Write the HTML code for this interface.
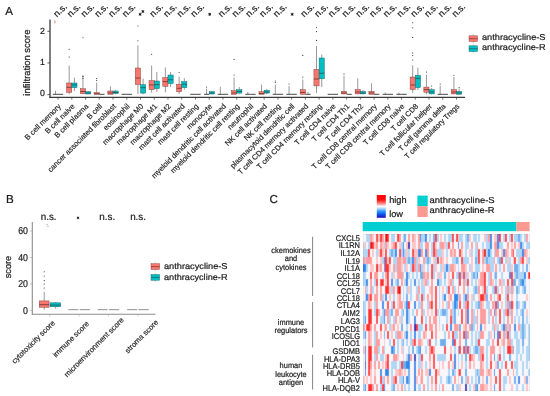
<!DOCTYPE html>
<html><head><meta charset="utf-8"><style>
html,body{margin:0;padding:0;background:#fff;}
svg{display:block;font-family:"Liberation Sans", sans-serif;text-rendering:geometricPrecision;}
text{stroke:#111;stroke-width:0.2px;paint-order:stroke;}
text.lt{stroke-width:0.15px;}
text.bd{stroke-width:0.2px;}
</style></head><body>
<svg width="550" height="396" viewBox="0 0 550 396">
<defs><filter id="soft" x="0" y="0" width="550" height="396" filterUnits="userSpaceOnUse"><feOffset dx="0" dy="0"/></filter></defs>
<rect width="550" height="396" fill="#fff"/>
<filter id="hsoft" x="360" y="230" width="175" height="165" filterUnits="userSpaceOnUse"><feConvolveMatrix order="3" kernelMatrix="0.0113 0.0838 0.0113 0.0838 0.6193 0.0838 0.0113 0.0838 0.0113" edgeMode="duplicate" preserveAlpha="true"/></filter>
<g filter="url(#soft)">
<rect width="550" height="396" fill="#fff"/>
<text x="5.20" y="15.10" font-size="11.6" text-anchor="start" fill="#1a1a1a">A</text><text x="0.00" y="0.00" font-size="9.45" text-anchor="middle" fill="#1a1a1a" transform="translate(29.90,62.60) rotate(-90)">infiltration score</text><line x1="50.00" y1="19.50" x2="50.00" y2="98.10" stroke="#3a3a3a" stroke-width="1.3"/><line x1="49.40" y1="97.45" x2="465.00" y2="97.45" stroke="#3a3a3a" stroke-width="1.3"/><line x1="47.40" y1="94.60" x2="50.00" y2="94.60" stroke="#3a3a3a" stroke-width="0.8"/><text x="44.80" y="96.20" font-size="8.8" text-anchor="end" fill="#1a1a1a">0</text><line x1="47.40" y1="62.95" x2="50.00" y2="62.95" stroke="#3a3a3a" stroke-width="0.8"/><text x="44.80" y="65.25" font-size="8.8" text-anchor="end" fill="#1a1a1a">1</text><line x1="47.40" y1="31.30" x2="50.00" y2="31.30" stroke="#3a3a3a" stroke-width="0.8"/><text x="44.80" y="33.60" font-size="8.8" text-anchor="end" fill="#1a1a1a">2</text><line x1="48.50" y1="78.77" x2="50.00" y2="78.77" stroke="#bbb" stroke-width="0.5"/><line x1="48.50" y1="47.12" x2="50.00" y2="47.12" stroke="#bbb" stroke-width="0.5"/><line x1="58.06" y1="97.40" x2="58.06" y2="99.60" stroke="#3a3a3a" stroke-width="0.7"/><line x1="55.46" y1="90.70" x2="55.46" y2="94.30" stroke="#333" stroke-width="0.5"/><line x1="52.86" y1="94.30" x2="58.06" y2="94.30" stroke="#333" stroke-width="0.9"/><line x1="58.06" y1="94.30" x2="63.26" y2="94.30" stroke="#333" stroke-width="0.9"/><text x="0.00" y="0.00" font-size="7.5" text-anchor="end" fill="#222" transform="translate(61.46,106.80) rotate(-45)" class="lt">B cell memory</text><text x="0.00" y="0.00" font-size="9.2" text-anchor="start" fill="#1a1a1a" transform="translate(56.96,17.60) rotate(-45)" class="bd">n.s.</text><line x1="71.80" y1="97.40" x2="71.80" y2="99.60" stroke="#3a3a3a" stroke-width="0.7"/><line x1="69.20" y1="65.50" x2="69.20" y2="83.00" stroke="#333" stroke-width="0.5"/><line x1="69.20" y1="92.30" x2="69.20" y2="94.30" stroke="#333" stroke-width="0.5"/><rect x="66.60" y="83.00" width="5.20" height="9.30" fill="#F8766D" stroke="#7a3a36" stroke-width="0.45"/><line x1="66.60" y1="87.30" x2="71.80" y2="87.30" stroke="#7a3a36" stroke-width="0.9"/><circle cx="69.20" cy="49.30" r="0.55" fill="#222"/><circle cx="69.20" cy="57.00" r="0.55" fill="#222"/><line x1="74.40" y1="77.60" x2="74.40" y2="83.00" stroke="#333" stroke-width="0.5"/><line x1="74.40" y1="87.70" x2="74.40" y2="91.00" stroke="#333" stroke-width="0.5"/><rect x="71.80" y="83.00" width="5.20" height="4.70" fill="#00BFC4" stroke="#1d5f61" stroke-width="0.45"/><line x1="71.80" y1="85.00" x2="77.00" y2="85.00" stroke="#1d5f61" stroke-width="0.9"/><text x="0.00" y="0.00" font-size="7.5" text-anchor="end" fill="#222" transform="translate(75.20,106.80) rotate(-45)" class="lt">B cell naive</text><text x="0.00" y="0.00" font-size="9.2" text-anchor="start" fill="#1a1a1a" transform="translate(70.70,17.60) rotate(-45)" class="bd">n.s.</text><line x1="85.54" y1="97.40" x2="85.54" y2="99.60" stroke="#3a3a3a" stroke-width="0.7"/><line x1="82.94" y1="75.00" x2="82.94" y2="88.70" stroke="#333" stroke-width="0.5"/><line x1="82.94" y1="93.70" x2="82.94" y2="94.30" stroke="#333" stroke-width="0.5"/><rect x="80.34" y="88.70" width="5.20" height="5.00" fill="#F8766D" stroke="#7a3a36" stroke-width="0.45"/><line x1="80.34" y1="91.50" x2="85.54" y2="91.50" stroke="#7a3a36" stroke-width="0.9"/><circle cx="82.94" cy="37.80" r="0.55" fill="#222"/><circle cx="82.94" cy="76.50" r="0.55" fill="#222"/><circle cx="82.94" cy="78.50" r="0.55" fill="#222"/><line x1="88.14" y1="91.00" x2="88.14" y2="91.70" stroke="#333" stroke-width="0.5"/><line x1="88.14" y1="94.00" x2="88.14" y2="94.30" stroke="#333" stroke-width="0.5"/><rect x="85.54" y="91.70" width="5.20" height="2.30" fill="#00BFC4" stroke="#1d5f61" stroke-width="0.45"/><line x1="85.54" y1="93.00" x2="90.74" y2="93.00" stroke="#1d5f61" stroke-width="0.9"/><text x="0.00" y="0.00" font-size="7.5" text-anchor="end" fill="#222" transform="translate(88.94,106.80) rotate(-45)" class="lt">B cell plasma</text><text x="0.00" y="0.00" font-size="9.2" text-anchor="start" fill="#1a1a1a" transform="translate(84.44,17.60) rotate(-45)" class="bd">n.s.</text><line x1="99.28" y1="97.40" x2="99.28" y2="99.60" stroke="#3a3a3a" stroke-width="0.7"/><line x1="96.68" y1="82.60" x2="96.68" y2="92.70" stroke="#333" stroke-width="0.5"/><line x1="96.68" y1="94.30" x2="96.68" y2="94.30" stroke="#333" stroke-width="0.5"/><rect x="94.08" y="92.70" width="5.20" height="1.60" fill="#F8766D" stroke="#7a3a36" stroke-width="0.45"/><line x1="94.08" y1="93.70" x2="99.28" y2="93.70" stroke="#7a3a36" stroke-width="0.9"/><circle cx="96.68" cy="78.60" r="0.55" fill="#222"/><circle cx="96.68" cy="80.50" r="0.55" fill="#222"/><line x1="99.28" y1="94.30" x2="104.48" y2="94.30" stroke="#333" stroke-width="0.9"/><text x="0.00" y="0.00" font-size="7.5" text-anchor="end" fill="#222" transform="translate(102.68,106.80) rotate(-45)" class="lt">B cell</text><text x="0.00" y="0.00" font-size="9.2" text-anchor="start" fill="#1a1a1a" transform="translate(98.18,17.60) rotate(-45)" class="bd">n.s.</text><line x1="113.02" y1="97.40" x2="113.02" y2="99.60" stroke="#3a3a3a" stroke-width="0.7"/><line x1="110.42" y1="86.30" x2="110.42" y2="91.00" stroke="#333" stroke-width="0.5"/><line x1="110.42" y1="94.30" x2="110.42" y2="94.30" stroke="#333" stroke-width="0.5"/><rect x="107.82" y="91.00" width="5.20" height="3.30" fill="#F8766D" stroke="#7a3a36" stroke-width="0.45"/><line x1="107.82" y1="93.00" x2="113.02" y2="93.00" stroke="#7a3a36" stroke-width="0.9"/><line x1="115.62" y1="90.00" x2="115.62" y2="91.00" stroke="#333" stroke-width="0.5"/><line x1="115.62" y1="93.50" x2="115.62" y2="94.30" stroke="#333" stroke-width="0.5"/><rect x="113.02" y="91.00" width="5.20" height="2.50" fill="#00BFC4" stroke="#1d5f61" stroke-width="0.45"/><line x1="113.02" y1="92.50" x2="118.22" y2="92.50" stroke="#1d5f61" stroke-width="0.9"/><text x="0.00" y="0.00" font-size="7.5" text-anchor="end" fill="#222" transform="translate(116.42,106.80) rotate(-45)" class="lt">cancer associated fibroblast</text><text x="0.00" y="0.00" font-size="9.2" text-anchor="start" fill="#1a1a1a" transform="translate(111.92,17.60) rotate(-45)" class="bd">n.s.</text><line x1="126.76" y1="97.40" x2="126.76" y2="99.60" stroke="#3a3a3a" stroke-width="0.7"/><line x1="121.56" y1="94.30" x2="126.76" y2="94.30" stroke="#333" stroke-width="0.9"/><line x1="126.76" y1="94.30" x2="131.96" y2="94.30" stroke="#333" stroke-width="0.9"/><text x="0.00" y="0.00" font-size="7.5" text-anchor="end" fill="#222" transform="translate(130.16,106.80) rotate(-45)" class="lt">eosinophil</text><text x="0.00" y="0.00" font-size="9.2" text-anchor="start" fill="#1a1a1a" transform="translate(125.66,17.60) rotate(-45)" class="bd">n.s.</text><line x1="140.50" y1="97.40" x2="140.50" y2="99.60" stroke="#3a3a3a" stroke-width="0.7"/><line x1="137.90" y1="45.30" x2="137.90" y2="68.00" stroke="#333" stroke-width="0.5"/><line x1="137.90" y1="84.60" x2="137.90" y2="94.00" stroke="#333" stroke-width="0.5"/><rect x="135.30" y="68.00" width="5.20" height="16.60" fill="#F8766D" stroke="#7a3a36" stroke-width="0.45"/><line x1="135.30" y1="78.00" x2="140.50" y2="78.00" stroke="#7a3a36" stroke-width="0.9"/><circle cx="137.90" cy="40.80" r="0.55" fill="#222"/><circle cx="137.90" cy="26.00" r="0.55" fill="#222"/><line x1="143.10" y1="78.60" x2="143.10" y2="84.60" stroke="#333" stroke-width="0.5"/><line x1="143.10" y1="93.10" x2="143.10" y2="94.30" stroke="#333" stroke-width="0.5"/><rect x="140.50" y="84.60" width="5.20" height="8.50" fill="#00BFC4" stroke="#1d5f61" stroke-width="0.45"/><line x1="140.50" y1="87.70" x2="145.70" y2="87.70" stroke="#1d5f61" stroke-width="0.9"/><text x="0.00" y="0.00" font-size="7.5" text-anchor="end" fill="#222" transform="translate(143.90,106.80) rotate(-45)" class="lt">macrophage M0</text><path d="M140.10,12.80L140.10,15.80M141.40,13.55L138.80,15.05M141.40,15.05L138.80,13.55" stroke="#1a1a1a" stroke-width="1.0" fill="none"/><path d="M142.90,10.00L142.90,13.00M144.20,10.75L141.60,12.25M144.20,12.25L141.60,10.75" stroke="#1a1a1a" stroke-width="1.0" fill="none"/><line x1="154.24" y1="97.40" x2="154.24" y2="99.60" stroke="#3a3a3a" stroke-width="0.7"/><line x1="151.64" y1="65.50" x2="151.64" y2="80.60" stroke="#333" stroke-width="0.5"/><line x1="151.64" y1="89.70" x2="151.64" y2="92.70" stroke="#333" stroke-width="0.5"/><rect x="149.04" y="80.60" width="5.20" height="9.10" fill="#F8766D" stroke="#7a3a36" stroke-width="0.45"/><line x1="149.04" y1="85.00" x2="154.24" y2="85.00" stroke="#7a3a36" stroke-width="0.9"/><circle cx="151.64" cy="54.30" r="0.55" fill="#222"/><line x1="156.84" y1="72.00" x2="156.84" y2="81.00" stroke="#333" stroke-width="0.5"/><line x1="156.84" y1="88.70" x2="156.84" y2="92.00" stroke="#333" stroke-width="0.5"/><rect x="154.24" y="81.00" width="5.20" height="7.70" fill="#00BFC4" stroke="#1d5f61" stroke-width="0.45"/><line x1="154.24" y1="84.60" x2="159.44" y2="84.60" stroke="#1d5f61" stroke-width="0.9"/><text x="0.00" y="0.00" font-size="7.5" text-anchor="end" fill="#222" transform="translate(157.64,106.80) rotate(-45)" class="lt">macrophage M1</text><text x="0.00" y="0.00" font-size="9.2" text-anchor="start" fill="#1a1a1a" transform="translate(153.14,17.60) rotate(-45)" class="bd">n.s.</text><line x1="167.98" y1="97.40" x2="167.98" y2="99.60" stroke="#3a3a3a" stroke-width="0.7"/><line x1="165.38" y1="67.50" x2="165.38" y2="77.60" stroke="#333" stroke-width="0.5"/><line x1="165.38" y1="86.30" x2="165.38" y2="92.30" stroke="#333" stroke-width="0.5"/><rect x="162.78" y="77.60" width="5.20" height="8.70" fill="#F8766D" stroke="#7a3a36" stroke-width="0.45"/><line x1="162.78" y1="81.60" x2="167.98" y2="81.60" stroke="#7a3a36" stroke-width="0.9"/><line x1="170.58" y1="72.00" x2="170.58" y2="75.00" stroke="#333" stroke-width="0.5"/><line x1="170.58" y1="83.60" x2="170.58" y2="87.00" stroke="#333" stroke-width="0.5"/><rect x="167.98" y="75.00" width="5.20" height="8.60" fill="#00BFC4" stroke="#1d5f61" stroke-width="0.45"/><line x1="167.98" y1="79.80" x2="173.18" y2="79.80" stroke="#1d5f61" stroke-width="0.9"/><text x="0.00" y="0.00" font-size="7.5" text-anchor="end" fill="#222" transform="translate(171.38,106.80) rotate(-45)" class="lt">macrophage M2</text><text x="0.00" y="0.00" font-size="9.2" text-anchor="start" fill="#1a1a1a" transform="translate(166.88,17.60) rotate(-45)" class="bd">n.s.</text><line x1="181.72" y1="97.40" x2="181.72" y2="99.60" stroke="#3a3a3a" stroke-width="0.7"/><line x1="179.12" y1="76.60" x2="179.12" y2="84.20" stroke="#333" stroke-width="0.5"/><line x1="179.12" y1="91.70" x2="179.12" y2="94.00" stroke="#333" stroke-width="0.5"/><rect x="176.52" y="84.20" width="5.20" height="7.50" fill="#F8766D" stroke="#7a3a36" stroke-width="0.45"/><line x1="176.52" y1="88.30" x2="181.72" y2="88.30" stroke="#7a3a36" stroke-width="0.9"/><circle cx="179.12" cy="72.50" r="0.55" fill="#222"/><line x1="184.32" y1="78.20" x2="184.32" y2="81.60" stroke="#333" stroke-width="0.5"/><line x1="184.32" y1="87.70" x2="184.32" y2="89.70" stroke="#333" stroke-width="0.5"/><rect x="181.72" y="81.60" width="5.20" height="6.10" fill="#00BFC4" stroke="#1d5f61" stroke-width="0.45"/><line x1="181.72" y1="84.20" x2="186.92" y2="84.20" stroke="#1d5f61" stroke-width="0.9"/><text x="0.00" y="0.00" font-size="7.5" text-anchor="end" fill="#222" transform="translate(185.12,106.80) rotate(-45)" class="lt">mast cell activated</text><text x="0.00" y="0.00" font-size="9.2" text-anchor="start" fill="#1a1a1a" transform="translate(180.62,17.60) rotate(-45)" class="bd">n.s.</text><line x1="195.46" y1="97.40" x2="195.46" y2="99.60" stroke="#3a3a3a" stroke-width="0.7"/><line x1="190.26" y1="94.30" x2="195.46" y2="94.30" stroke="#333" stroke-width="0.9"/><line x1="195.46" y1="94.30" x2="200.66" y2="94.30" stroke="#333" stroke-width="0.9"/><text x="0.00" y="0.00" font-size="7.5" text-anchor="end" fill="#222" transform="translate(198.86,106.80) rotate(-45)" class="lt">mast cell resting</text><text x="0.00" y="0.00" font-size="9.2" text-anchor="start" fill="#1a1a1a" transform="translate(194.36,17.60) rotate(-45)" class="bd">n.s.</text><line x1="209.20" y1="97.40" x2="209.20" y2="99.60" stroke="#3a3a3a" stroke-width="0.7"/><line x1="206.60" y1="88.70" x2="206.60" y2="94.30" stroke="#333" stroke-width="0.5"/><line x1="204.00" y1="94.30" x2="209.20" y2="94.30" stroke="#333" stroke-width="0.9"/><circle cx="206.60" cy="87.00" r="0.55" fill="#222"/><line x1="211.80" y1="91.00" x2="211.80" y2="91.70" stroke="#333" stroke-width="0.5"/><line x1="211.80" y1="94.00" x2="211.80" y2="94.30" stroke="#333" stroke-width="0.5"/><rect x="209.20" y="91.70" width="5.20" height="2.30" fill="#00BFC4" stroke="#1d5f61" stroke-width="0.45"/><line x1="209.20" y1="93.00" x2="214.40" y2="93.00" stroke="#1d5f61" stroke-width="0.9"/><text x="0.00" y="0.00" font-size="7.5" text-anchor="end" fill="#222" transform="translate(212.60,106.80) rotate(-45)" class="lt">monocyte</text><path d="M209.70,12.80L209.70,15.80M211.00,13.55L208.40,15.05M211.00,15.05L208.40,13.55" stroke="#1a1a1a" stroke-width="1.0" fill="none"/><line x1="222.94" y1="97.40" x2="222.94" y2="99.60" stroke="#3a3a3a" stroke-width="0.7"/><line x1="220.34" y1="86.70" x2="220.34" y2="94.30" stroke="#333" stroke-width="0.5"/><line x1="217.74" y1="94.30" x2="222.94" y2="94.30" stroke="#333" stroke-width="0.9"/><line x1="222.94" y1="94.30" x2="228.14" y2="94.30" stroke="#333" stroke-width="0.9"/><text x="0.00" y="0.00" font-size="7.5" text-anchor="end" fill="#222" transform="translate(226.34,106.80) rotate(-45)" class="lt">myeloid dendritic cell activated</text><text x="0.00" y="0.00" font-size="9.2" text-anchor="start" fill="#1a1a1a" transform="translate(221.84,17.60) rotate(-45)" class="bd">n.s.</text><line x1="236.68" y1="97.40" x2="236.68" y2="99.60" stroke="#3a3a3a" stroke-width="0.7"/><line x1="234.08" y1="77.60" x2="234.08" y2="90.70" stroke="#333" stroke-width="0.5"/><line x1="234.08" y1="94.30" x2="234.08" y2="94.30" stroke="#333" stroke-width="0.5"/><rect x="231.48" y="90.70" width="5.20" height="3.60" fill="#F8766D" stroke="#7a3a36" stroke-width="0.45"/><line x1="231.48" y1="93.00" x2="236.68" y2="93.00" stroke="#7a3a36" stroke-width="0.9"/><circle cx="234.08" cy="59.40" r="0.55" fill="#222"/><circle cx="234.08" cy="75.00" r="0.55" fill="#222"/><line x1="239.28" y1="87.00" x2="239.28" y2="89.70" stroke="#333" stroke-width="0.5"/><line x1="239.28" y1="93.10" x2="239.28" y2="94.30" stroke="#333" stroke-width="0.5"/><rect x="236.68" y="89.70" width="5.20" height="3.40" fill="#00BFC4" stroke="#1d5f61" stroke-width="0.45"/><line x1="236.68" y1="91.50" x2="241.88" y2="91.50" stroke="#1d5f61" stroke-width="0.9"/><text x="0.00" y="0.00" font-size="7.5" text-anchor="end" fill="#222" transform="translate(240.08,106.80) rotate(-45)" class="lt">myeloid dendritic cell resting</text><text x="0.00" y="0.00" font-size="9.2" text-anchor="start" fill="#1a1a1a" transform="translate(235.58,17.60) rotate(-45)" class="bd">n.s.</text><line x1="250.42" y1="97.40" x2="250.42" y2="99.60" stroke="#3a3a3a" stroke-width="0.7"/><line x1="247.82" y1="92.00" x2="247.82" y2="94.30" stroke="#333" stroke-width="0.5"/><line x1="245.22" y1="94.30" x2="250.42" y2="94.30" stroke="#333" stroke-width="0.9"/><line x1="250.42" y1="94.30" x2="255.62" y2="94.30" stroke="#333" stroke-width="0.9"/><text x="0.00" y="0.00" font-size="7.5" text-anchor="end" fill="#222" transform="translate(253.82,106.80) rotate(-45)" class="lt">neutrophil</text><text x="0.00" y="0.00" font-size="9.2" text-anchor="start" fill="#1a1a1a" transform="translate(249.32,17.60) rotate(-45)" class="bd">n.s.</text><line x1="264.16" y1="97.40" x2="264.16" y2="99.60" stroke="#3a3a3a" stroke-width="0.7"/><line x1="261.56" y1="84.60" x2="261.56" y2="91.70" stroke="#333" stroke-width="0.5"/><line x1="261.56" y1="94.30" x2="261.56" y2="94.30" stroke="#333" stroke-width="0.5"/><rect x="258.96" y="91.70" width="5.20" height="2.60" fill="#F8766D" stroke="#7a3a36" stroke-width="0.45"/><line x1="258.96" y1="93.50" x2="264.16" y2="93.50" stroke="#7a3a36" stroke-width="0.9"/><line x1="266.76" y1="89.00" x2="266.76" y2="90.30" stroke="#333" stroke-width="0.5"/><line x1="266.76" y1="93.10" x2="266.76" y2="94.30" stroke="#333" stroke-width="0.5"/><rect x="264.16" y="90.30" width="5.20" height="2.80" fill="#00BFC4" stroke="#1d5f61" stroke-width="0.45"/><line x1="264.16" y1="92.00" x2="269.36" y2="92.00" stroke="#1d5f61" stroke-width="0.9"/><text x="0.00" y="0.00" font-size="7.5" text-anchor="end" fill="#222" transform="translate(267.56,106.80) rotate(-45)" class="lt">NK cell activated</text><text x="0.00" y="0.00" font-size="9.2" text-anchor="start" fill="#1a1a1a" transform="translate(263.06,17.60) rotate(-45)" class="bd">n.s.</text><line x1="277.90" y1="97.40" x2="277.90" y2="99.60" stroke="#3a3a3a" stroke-width="0.7"/><line x1="275.30" y1="84.60" x2="275.30" y2="94.30" stroke="#333" stroke-width="0.5"/><line x1="272.70" y1="94.30" x2="277.90" y2="94.30" stroke="#333" stroke-width="0.9"/><circle cx="275.30" cy="82.50" r="0.55" fill="#222"/><circle cx="275.30" cy="81.00" r="0.55" fill="#222"/><line x1="277.90" y1="94.30" x2="283.10" y2="94.30" stroke="#333" stroke-width="0.9"/><text x="0.00" y="0.00" font-size="7.5" text-anchor="end" fill="#222" transform="translate(281.30,106.80) rotate(-45)" class="lt">NK cell resting</text><text x="0.00" y="0.00" font-size="9.2" text-anchor="start" fill="#1a1a1a" transform="translate(276.80,17.60) rotate(-45)" class="bd">n.s.</text><line x1="291.64" y1="97.40" x2="291.64" y2="99.60" stroke="#3a3a3a" stroke-width="0.7"/><line x1="289.04" y1="86.00" x2="289.04" y2="94.30" stroke="#333" stroke-width="0.5"/><line x1="286.44" y1="94.30" x2="291.64" y2="94.30" stroke="#333" stroke-width="0.9"/><circle cx="289.04" cy="84.00" r="0.55" fill="#222"/><line x1="291.64" y1="94.30" x2="296.84" y2="94.30" stroke="#333" stroke-width="0.9"/><text x="0.00" y="0.00" font-size="7.5" text-anchor="end" fill="#222" transform="translate(295.04,106.80) rotate(-45)" class="lt">plasmacytoid dendritic cell</text><path d="M292.14,12.80L292.14,15.80M293.44,13.55L290.84,15.05M293.44,15.05L290.84,13.55" stroke="#1a1a1a" stroke-width="1.0" fill="none"/><line x1="305.38" y1="97.40" x2="305.38" y2="99.60" stroke="#3a3a3a" stroke-width="0.7"/><line x1="302.78" y1="79.50" x2="302.78" y2="89.70" stroke="#333" stroke-width="0.5"/><line x1="302.78" y1="94.30" x2="302.78" y2="94.30" stroke="#333" stroke-width="0.5"/><rect x="300.18" y="89.70" width="5.20" height="4.60" fill="#F8766D" stroke="#7a3a36" stroke-width="0.45"/><line x1="300.18" y1="92.50" x2="305.38" y2="92.50" stroke="#7a3a36" stroke-width="0.9"/><circle cx="302.78" cy="55.40" r="0.55" fill="#222"/><circle cx="302.78" cy="77.00" r="0.55" fill="#222"/><line x1="307.98" y1="92.00" x2="307.98" y2="94.30" stroke="#333" stroke-width="0.5"/><line x1="305.38" y1="94.30" x2="310.58" y2="94.30" stroke="#333" stroke-width="0.9"/><text x="0.00" y="0.00" font-size="7.5" text-anchor="end" fill="#222" transform="translate(308.78,106.80) rotate(-45)" class="lt">T cell CD4 memory activated</text><text x="0.00" y="0.00" font-size="9.2" text-anchor="start" fill="#1a1a1a" transform="translate(304.28,17.60) rotate(-45)" class="bd">n.s.</text><line x1="319.12" y1="97.40" x2="319.12" y2="99.60" stroke="#3a3a3a" stroke-width="0.7"/><line x1="316.52" y1="46.00" x2="316.52" y2="69.40" stroke="#333" stroke-width="0.5"/><line x1="316.52" y1="85.90" x2="316.52" y2="93.00" stroke="#333" stroke-width="0.5"/><rect x="313.92" y="69.40" width="5.20" height="16.50" fill="#F8766D" stroke="#7a3a36" stroke-width="0.45"/><line x1="313.92" y1="79.00" x2="319.12" y2="79.00" stroke="#7a3a36" stroke-width="0.9"/><circle cx="316.52" cy="40.40" r="0.55" fill="#222"/><circle cx="316.52" cy="31.60" r="0.55" fill="#222"/><circle cx="316.52" cy="27.30" r="0.55" fill="#222"/><line x1="321.72" y1="54.30" x2="321.72" y2="58.00" stroke="#333" stroke-width="0.5"/><line x1="321.72" y1="78.80" x2="321.72" y2="87.00" stroke="#333" stroke-width="0.5"/><rect x="319.12" y="58.00" width="5.20" height="20.80" fill="#00BFC4" stroke="#1d5f61" stroke-width="0.45"/><line x1="319.12" y1="73.20" x2="324.32" y2="73.20" stroke="#1d5f61" stroke-width="0.9"/><text x="0.00" y="0.00" font-size="7.5" text-anchor="end" fill="#222" transform="translate(322.52,106.80) rotate(-45)" class="lt">T cell CD4 memory resting</text><text x="0.00" y="0.00" font-size="9.2" text-anchor="start" fill="#1a1a1a" transform="translate(318.02,17.60) rotate(-45)" class="bd">n.s.</text><line x1="332.86" y1="97.40" x2="332.86" y2="99.60" stroke="#3a3a3a" stroke-width="0.7"/><line x1="327.66" y1="94.30" x2="332.86" y2="94.30" stroke="#333" stroke-width="0.9"/><line x1="332.86" y1="94.30" x2="338.06" y2="94.30" stroke="#333" stroke-width="0.9"/><text x="0.00" y="0.00" font-size="7.5" text-anchor="end" fill="#222" transform="translate(336.26,106.80) rotate(-45)" class="lt">T cell CD4 naive</text><text x="0.00" y="0.00" font-size="9.2" text-anchor="start" fill="#1a1a1a" transform="translate(331.76,17.60) rotate(-45)" class="bd">n.s.</text><line x1="346.60" y1="97.40" x2="346.60" y2="99.60" stroke="#3a3a3a" stroke-width="0.7"/><line x1="344.00" y1="75.80" x2="344.00" y2="91.40" stroke="#333" stroke-width="0.5"/><line x1="344.00" y1="93.90" x2="344.00" y2="94.30" stroke="#333" stroke-width="0.5"/><rect x="341.40" y="91.40" width="5.20" height="2.50" fill="#F8766D" stroke="#7a3a36" stroke-width="0.45"/><line x1="341.40" y1="93.00" x2="346.60" y2="93.00" stroke="#7a3a36" stroke-width="0.9"/><circle cx="344.00" cy="74.00" r="0.55" fill="#222"/><line x1="346.60" y1="94.30" x2="351.80" y2="94.30" stroke="#333" stroke-width="0.9"/><text x="0.00" y="0.00" font-size="7.5" text-anchor="end" fill="#222" transform="translate(350.00,106.80) rotate(-45)" class="lt">T cell CD4 Th1</text><text x="0.00" y="0.00" font-size="9.2" text-anchor="start" fill="#1a1a1a" transform="translate(345.50,17.60) rotate(-45)" class="bd">n.s.</text><line x1="360.34" y1="97.40" x2="360.34" y2="99.60" stroke="#3a3a3a" stroke-width="0.7"/><line x1="357.74" y1="78.30" x2="357.74" y2="89.60" stroke="#333" stroke-width="0.5"/><line x1="357.74" y1="93.90" x2="357.74" y2="94.30" stroke="#333" stroke-width="0.5"/><rect x="355.14" y="89.60" width="5.20" height="4.30" fill="#F8766D" stroke="#7a3a36" stroke-width="0.45"/><line x1="355.14" y1="92.00" x2="360.34" y2="92.00" stroke="#7a3a36" stroke-width="0.9"/><line x1="362.94" y1="90.00" x2="362.94" y2="91.40" stroke="#333" stroke-width="0.5"/><line x1="362.94" y1="93.90" x2="362.94" y2="94.30" stroke="#333" stroke-width="0.5"/><rect x="360.34" y="91.40" width="5.20" height="2.50" fill="#00BFC4" stroke="#1d5f61" stroke-width="0.45"/><line x1="360.34" y1="93.00" x2="365.54" y2="93.00" stroke="#1d5f61" stroke-width="0.9"/><text x="0.00" y="0.00" font-size="7.5" text-anchor="end" fill="#222" transform="translate(363.74,106.80) rotate(-45)" class="lt">T cell CD4 Th2</text><text x="0.00" y="0.00" font-size="9.2" text-anchor="start" fill="#1a1a1a" transform="translate(359.24,17.60) rotate(-45)" class="bd">n.s.</text><line x1="374.08" y1="97.40" x2="374.08" y2="99.60" stroke="#3a3a3a" stroke-width="0.7"/><line x1="371.48" y1="83.30" x2="371.48" y2="91.40" stroke="#333" stroke-width="0.5"/><line x1="371.48" y1="94.30" x2="371.48" y2="94.30" stroke="#333" stroke-width="0.5"/><rect x="368.88" y="91.40" width="5.20" height="2.90" fill="#F8766D" stroke="#7a3a36" stroke-width="0.45"/><line x1="368.88" y1="93.00" x2="374.08" y2="93.00" stroke="#7a3a36" stroke-width="0.9"/><line x1="374.08" y1="94.30" x2="379.28" y2="94.30" stroke="#333" stroke-width="0.9"/><text x="0.00" y="0.00" font-size="7.5" text-anchor="end" fill="#222" transform="translate(377.48,106.80) rotate(-45)" class="lt">T cell CD8 central memory</text><text x="0.00" y="0.00" font-size="9.2" text-anchor="start" fill="#1a1a1a" transform="translate(372.98,17.60) rotate(-45)" class="bd">n.s.</text><line x1="387.82" y1="97.40" x2="387.82" y2="99.60" stroke="#3a3a3a" stroke-width="0.7"/><line x1="385.22" y1="92.50" x2="385.22" y2="94.30" stroke="#333" stroke-width="0.5"/><line x1="382.62" y1="94.30" x2="387.82" y2="94.30" stroke="#333" stroke-width="0.9"/><line x1="387.82" y1="94.30" x2="393.02" y2="94.30" stroke="#333" stroke-width="0.9"/><text x="0.00" y="0.00" font-size="7.5" text-anchor="end" fill="#222" transform="translate(391.22,106.80) rotate(-45)" class="lt">T cell CD8 central memory</text><text x="0.00" y="0.00" font-size="9.2" text-anchor="start" fill="#1a1a1a" transform="translate(386.72,17.60) rotate(-45)" class="bd">n.s.</text><line x1="401.56" y1="97.40" x2="401.56" y2="99.60" stroke="#3a3a3a" stroke-width="0.7"/><line x1="398.96" y1="92.50" x2="398.96" y2="94.30" stroke="#333" stroke-width="0.5"/><line x1="396.36" y1="94.30" x2="401.56" y2="94.30" stroke="#333" stroke-width="0.9"/><line x1="401.56" y1="94.30" x2="406.76" y2="94.30" stroke="#333" stroke-width="0.9"/><text x="0.00" y="0.00" font-size="7.5" text-anchor="end" fill="#222" transform="translate(404.96,106.80) rotate(-45)" class="lt">T cell CD8 naive</text><text x="0.00" y="0.00" font-size="9.2" text-anchor="start" fill="#1a1a1a" transform="translate(400.46,17.60) rotate(-45)" class="bd">n.s.</text><line x1="415.30" y1="97.40" x2="415.30" y2="99.60" stroke="#3a3a3a" stroke-width="0.7"/><line x1="412.70" y1="65.20" x2="412.70" y2="77.00" stroke="#333" stroke-width="0.5"/><line x1="412.70" y1="89.60" x2="412.70" y2="93.00" stroke="#333" stroke-width="0.5"/><rect x="410.10" y="77.00" width="5.20" height="12.60" fill="#F8766D" stroke="#7a3a36" stroke-width="0.45"/><line x1="410.10" y1="85.00" x2="415.30" y2="85.00" stroke="#7a3a36" stroke-width="0.9"/><circle cx="412.70" cy="55.50" r="0.55" fill="#222"/><circle cx="412.70" cy="53.00" r="0.55" fill="#222"/><circle cx="412.70" cy="37.40" r="0.55" fill="#222"/><circle cx="412.70" cy="27.80" r="0.55" fill="#222"/><circle cx="412.70" cy="22.70" r="0.55" fill="#222"/><circle cx="412.70" cy="60.00" r="0.55" fill="#222"/><line x1="417.90" y1="67.70" x2="417.90" y2="75.20" stroke="#333" stroke-width="0.5"/><line x1="417.90" y1="87.60" x2="417.90" y2="90.00" stroke="#333" stroke-width="0.5"/><rect x="415.30" y="75.20" width="5.20" height="12.40" fill="#00BFC4" stroke="#1d5f61" stroke-width="0.45"/><line x1="415.30" y1="78.40" x2="420.50" y2="78.40" stroke="#1d5f61" stroke-width="0.9"/><text x="0.00" y="0.00" font-size="7.5" text-anchor="end" fill="#222" transform="translate(418.70,106.80) rotate(-45)" class="lt">T cell CD8</text><text x="0.00" y="0.00" font-size="9.2" text-anchor="start" fill="#1a1a1a" transform="translate(414.20,17.60) rotate(-45)" class="bd">n.s.</text><line x1="429.04" y1="97.40" x2="429.04" y2="99.60" stroke="#3a3a3a" stroke-width="0.7"/><line x1="426.44" y1="74.50" x2="426.44" y2="87.10" stroke="#333" stroke-width="0.5"/><line x1="426.44" y1="92.20" x2="426.44" y2="94.30" stroke="#333" stroke-width="0.5"/><rect x="423.84" y="87.10" width="5.20" height="5.10" fill="#F8766D" stroke="#7a3a36" stroke-width="0.45"/><line x1="423.84" y1="89.60" x2="429.04" y2="89.60" stroke="#7a3a36" stroke-width="0.9"/><circle cx="426.44" cy="72.00" r="0.55" fill="#222"/><line x1="431.64" y1="88.00" x2="431.64" y2="89.60" stroke="#333" stroke-width="0.5"/><line x1="431.64" y1="93.90" x2="431.64" y2="94.30" stroke="#333" stroke-width="0.5"/><rect x="429.04" y="89.60" width="5.20" height="4.30" fill="#00BFC4" stroke="#1d5f61" stroke-width="0.45"/><line x1="429.04" y1="92.00" x2="434.24" y2="92.00" stroke="#1d5f61" stroke-width="0.9"/><circle cx="431.64" cy="86.00" r="0.55" fill="#222"/><text x="0.00" y="0.00" font-size="7.5" text-anchor="end" fill="#222" transform="translate(432.44,106.80) rotate(-45)" class="lt">T cell follicular helper</text><text x="0.00" y="0.00" font-size="9.2" text-anchor="start" fill="#1a1a1a" transform="translate(427.94,17.60) rotate(-45)" class="bd">n.s.</text><line x1="442.78" y1="97.40" x2="442.78" y2="99.60" stroke="#3a3a3a" stroke-width="0.7"/><line x1="440.18" y1="85.90" x2="440.18" y2="94.30" stroke="#333" stroke-width="0.5"/><line x1="437.58" y1="94.30" x2="442.78" y2="94.30" stroke="#333" stroke-width="0.9"/><circle cx="440.18" cy="84.00" r="0.55" fill="#222"/><line x1="442.78" y1="94.30" x2="447.98" y2="94.30" stroke="#333" stroke-width="0.9"/><text x="0.00" y="0.00" font-size="7.5" text-anchor="end" fill="#222" transform="translate(446.18,106.80) rotate(-45)" class="lt">T cell gamma delta</text><text x="0.00" y="0.00" font-size="9.2" text-anchor="start" fill="#1a1a1a" transform="translate(441.68,17.60) rotate(-45)" class="bd">n.s.</text><line x1="456.52" y1="97.40" x2="456.52" y2="99.60" stroke="#3a3a3a" stroke-width="0.7"/><line x1="453.92" y1="77.00" x2="453.92" y2="89.60" stroke="#333" stroke-width="0.5"/><line x1="453.92" y1="93.90" x2="453.92" y2="94.30" stroke="#333" stroke-width="0.5"/><rect x="451.32" y="89.60" width="5.20" height="4.30" fill="#F8766D" stroke="#7a3a36" stroke-width="0.45"/><line x1="451.32" y1="92.00" x2="456.52" y2="92.00" stroke="#7a3a36" stroke-width="0.9"/><circle cx="453.92" cy="75.50" r="0.55" fill="#222"/><line x1="459.12" y1="88.50" x2="459.12" y2="91.40" stroke="#333" stroke-width="0.5"/><line x1="459.12" y1="94.30" x2="459.12" y2="94.30" stroke="#333" stroke-width="0.5"/><rect x="456.52" y="91.40" width="5.20" height="2.90" fill="#00BFC4" stroke="#1d5f61" stroke-width="0.45"/><line x1="456.52" y1="93.00" x2="461.72" y2="93.00" stroke="#1d5f61" stroke-width="0.9"/><circle cx="459.12" cy="87.50" r="0.55" fill="#222"/><text x="0.00" y="0.00" font-size="7.5" text-anchor="end" fill="#222" transform="translate(459.92,106.80) rotate(-45)" class="lt">T cell regulatory Tregs</text><text x="0.00" y="0.00" font-size="9.2" text-anchor="start" fill="#1a1a1a" transform="translate(455.42,17.60) rotate(-45)" class="bd">n.s.</text><rect x="54.3" y="20.3" width="1.2" height="3.0" fill="#e89a90"/><line x1="473.30" y1="34.20" x2="473.30" y2="43.20" stroke="#999" stroke-width="0.45"/><rect x="469.00" y="35.80" width="8.60" height="5.80" fill="#F8766D" stroke="#7a3a36" stroke-width="0.4"/><line x1="469.00" y1="38.70" x2="477.60" y2="38.70" stroke="#7a3a36" stroke-width="0.7"/><text x="482.00" y="39.60" font-size="8.55" text-anchor="start" fill="#1a1a1a" textLength="63.5" lengthAdjust="spacingAndGlyphs">anthracycline-S</text><line x1="473.30" y1="44.20" x2="473.30" y2="53.20" stroke="#999" stroke-width="0.45"/><rect x="469.00" y="45.80" width="8.60" height="5.80" fill="#00BFC4" stroke="#1d5f61" stroke-width="0.4"/><line x1="469.00" y1="48.70" x2="477.60" y2="48.70" stroke="#1d5f61" stroke-width="0.7"/><text x="482.00" y="49.60" font-size="8.55" text-anchor="start" fill="#1a1a1a" textLength="63.5" lengthAdjust="spacingAndGlyphs">anthracycline-R</text><text x="5.90" y="203.10" font-size="11.6" text-anchor="start" fill="#1a1a1a">B</text><text x="0.00" y="0.00" font-size="9.2" text-anchor="middle" fill="#1a1a1a" transform="translate(10.70,267.00) rotate(-90)">score</text><line x1="32.30" y1="221.90" x2="32.30" y2="314.80" stroke="#8c8c8c" stroke-width="1.1"/><line x1="31.80" y1="314.30" x2="155.40" y2="314.30" stroke="#8c8c8c" stroke-width="1.1"/><line x1="29.80" y1="310.50" x2="32.30" y2="310.50" stroke="#aaa" stroke-width="0.7"/><text x="0.00" y="0.00" font-size="10.0" text-anchor="end" fill="#1a1a1a" transform="translate(28.00,313.80) scale(0.88,1)">0</text><line x1="29.80" y1="284.00" x2="32.30" y2="284.00" stroke="#aaa" stroke-width="0.7"/><text x="0.00" y="0.00" font-size="10.0" text-anchor="end" fill="#1a1a1a" transform="translate(28.00,287.30) scale(0.88,1)">20</text><line x1="29.80" y1="257.50" x2="32.30" y2="257.50" stroke="#aaa" stroke-width="0.7"/><text x="0.00" y="0.00" font-size="10.0" text-anchor="end" fill="#1a1a1a" transform="translate(28.00,260.80) scale(0.88,1)">40</text><line x1="29.80" y1="231.00" x2="32.30" y2="231.00" stroke="#aaa" stroke-width="0.7"/><text x="0.00" y="0.00" font-size="10.0" text-anchor="end" fill="#1a1a1a" transform="translate(28.00,234.30) scale(0.88,1)">60</text><line x1="49.60" y1="314.30" x2="49.60" y2="316.40" stroke="#aaa" stroke-width="0.6"/><text x="0.00" y="0.00" font-size="7.55" text-anchor="end" fill="#222" transform="translate(55.40,323.40) rotate(-45)" class="lt">cytotoxicity score</text><line x1="79.10" y1="314.30" x2="79.10" y2="316.40" stroke="#aaa" stroke-width="0.6"/><text x="0.00" y="0.00" font-size="7.55" text-anchor="end" fill="#222" transform="translate(89.40,324.20) rotate(-45)" class="lt">immune score</text><line x1="108.40" y1="314.30" x2="108.40" y2="316.40" stroke="#aaa" stroke-width="0.6"/><text x="0.00" y="0.00" font-size="7.55" text-anchor="end" fill="#222" transform="translate(124.20,320.60) rotate(-45)" class="lt">microenvironment score</text><line x1="137.90" y1="314.30" x2="137.90" y2="316.40" stroke="#aaa" stroke-width="0.6"/><text x="0.00" y="0.00" font-size="7.55" text-anchor="end" fill="#222" transform="translate(158.80,322.80) rotate(-45)" class="lt">stroma score</text><line x1="44.20" y1="292.00" x2="44.20" y2="300.90" stroke="#333" stroke-width="0.5"/><line x1="44.20" y1="307.30" x2="44.20" y2="309.70" stroke="#333" stroke-width="0.5"/><rect x="39.30" y="300.90" width="9.80" height="6.40" fill="#F8766D" stroke="#7a3a36" stroke-width="0.45"/><line x1="39.30" y1="304.70" x2="49.10" y2="304.70" stroke="#7a3a36" stroke-width="0.9"/><circle cx="44.20" cy="288.00" r="0.55" fill="#222"/><circle cx="44.20" cy="284.00" r="0.55" fill="#222"/><circle cx="44.20" cy="280.60" r="0.55" fill="#222"/><circle cx="44.20" cy="276.00" r="0.55" fill="#222"/><circle cx="44.20" cy="271.80" r="0.55" fill="#222"/><circle cx="47.00" cy="224.80" r="0.45" fill="#222"/><circle cx="48.00" cy="226.30" r="0.45" fill="#222"/><line x1="55.35" y1="302.00" x2="55.35" y2="302.80" stroke="#333" stroke-width="0.5"/><line x1="55.35" y1="306.80" x2="55.35" y2="308.60" stroke="#333" stroke-width="0.5"/><rect x="50.10" y="302.80" width="10.50" height="4.00" fill="#00BFC4" stroke="#1d5f61" stroke-width="0.45"/><line x1="50.10" y1="305.10" x2="60.60" y2="305.10" stroke="#1d5f61" stroke-width="0.9"/><line x1="68.30" y1="309.70" x2="78.30" y2="309.70" stroke="#6a6a6a" stroke-width="0.75"/><line x1="79.60" y1="309.70" x2="89.90" y2="309.70" stroke="#6a6a6a" stroke-width="0.75"/><line x1="97.60" y1="309.70" x2="107.60" y2="309.70" stroke="#6a6a6a" stroke-width="0.75"/><line x1="108.90" y1="309.70" x2="119.20" y2="309.70" stroke="#6a6a6a" stroke-width="0.75"/><line x1="127.10" y1="309.70" x2="137.10" y2="309.70" stroke="#6a6a6a" stroke-width="0.75"/><line x1="138.40" y1="309.70" x2="148.70" y2="309.70" stroke="#6a6a6a" stroke-width="0.75"/><text x="48.65" y="219.80" font-size="9.9" text-anchor="middle" fill="#1a1a1a">n.s.</text><path d="M78.00,216.60L78.00,219.20M79.13,217.25L76.87,218.55M79.13,218.55L76.87,217.25" stroke="#1a1a1a" stroke-width="0.9" fill="none"/><text x="107.30" y="219.80" font-size="9.9" text-anchor="middle" fill="#1a1a1a">n.s.</text><text x="138.10" y="219.80" font-size="9.9" text-anchor="middle" fill="#1a1a1a">n.s.</text><line x1="155.30" y1="262.10" x2="155.30" y2="271.10" stroke="#999" stroke-width="0.45"/><rect x="151.00" y="263.70" width="8.60" height="5.80" fill="#F8766D" stroke="#7a3a36" stroke-width="0.4"/><line x1="151.00" y1="266.60" x2="159.60" y2="266.60" stroke="#7a3a36" stroke-width="0.7"/><text x="164.00" y="269.30" font-size="8.55" text-anchor="start" fill="#1a1a1a" textLength="63.5" lengthAdjust="spacingAndGlyphs">anthracycline-S</text><line x1="155.30" y1="272.90" x2="155.30" y2="281.90" stroke="#999" stroke-width="0.45"/><rect x="151.00" y="274.50" width="8.60" height="5.80" fill="#00BFC4" stroke="#1d5f61" stroke-width="0.4"/><line x1="151.00" y1="277.40" x2="159.60" y2="277.40" stroke="#1d5f61" stroke-width="0.7"/><text x="164.00" y="279.60" font-size="8.55" text-anchor="start" fill="#1a1a1a" textLength="63.5" lengthAdjust="spacingAndGlyphs">anthracycline-R</text><text x="269.60" y="203.20" font-size="11.6" text-anchor="start" fill="#1a1a1a">C</text><defs><linearGradient id="hl" x1="0" y1="0" x2="0" y2="1"><stop offset="0" stop-color="#ff0000"/><stop offset="0.22" stop-color="#ff1010"/><stop offset="0.40" stop-color="#ff9a9a"/><stop offset="0.50" stop-color="#ffffff"/><stop offset="0.60" stop-color="#a8d8ff"/><stop offset="0.72" stop-color="#2a96ff"/><stop offset="0.86" stop-color="#0a50e8"/><stop offset="1" stop-color="#2410b8"/></linearGradient></defs><rect x="376.80" y="195.00" width="9.00" height="22.80" fill="url(#hl)" stroke="none" stroke-width="0"/><text x="389.20" y="203.00" font-size="9.2" text-anchor="start" fill="#1a1a1a">high</text><text x="389.20" y="216.50" font-size="9.2" text-anchor="start" fill="#1a1a1a">low</text><rect x="417.40" y="195.60" width="10.30" height="10.60" fill="#00CED1" stroke="none" stroke-width="0"/><rect x="417.40" y="206.20" width="10.30" height="10.80" fill="#F99A91" stroke="none" stroke-width="0"/><text x="429.60" y="202.80" font-size="8.6" text-anchor="start" fill="#1a1a1a" textLength="65.0" lengthAdjust="spacingAndGlyphs">anthracycline-S</text><text x="429.60" y="213.40" font-size="8.6" text-anchor="start" fill="#1a1a1a" textLength="65.0" lengthAdjust="spacingAndGlyphs">anthracycline-R</text><rect x="362.70" y="222.00" width="153.62" height="9.20" fill="#00CED1" stroke="none" stroke-width="0"/><rect x="516.32" y="222.00" width="13.28" height="9.20" fill="#F99A91" stroke="none" stroke-width="0"/><g shape-rendering="crispEdges" filter="url(#hsoft)"><rect x="362.70" y="234.20" width="3.84" height="7.52" fill="#f8f8fc" stroke="none" stroke-width="0"/><rect x="366.49" y="234.20" width="3.84" height="7.52" fill="#b0d6f6" stroke="none" stroke-width="0"/><rect x="370.29" y="234.20" width="1.95" height="7.52" fill="#ff9c9c" stroke="none" stroke-width="0"/><rect x="372.18" y="234.20" width="1.95" height="7.52" fill="#ffc6c6" stroke="none" stroke-width="0"/><rect x="374.08" y="234.20" width="1.95" height="7.52" fill="#f8f8fc" stroke="none" stroke-width="0"/><rect x="375.98" y="234.20" width="1.95" height="7.52" fill="#ff3030" stroke="none" stroke-width="0"/><rect x="377.87" y="234.20" width="1.95" height="7.52" fill="#ffc6c6" stroke="none" stroke-width="0"/><rect x="379.77" y="234.20" width="1.95" height="7.52" fill="#ff3030" stroke="none" stroke-width="0"/><rect x="381.67" y="234.20" width="1.95" height="7.52" fill="#ff9c9c" stroke="none" stroke-width="0"/><rect x="383.56" y="234.20" width="1.95" height="7.52" fill="#f8f8fc" stroke="none" stroke-width="0"/><rect x="385.46" y="234.20" width="1.95" height="7.52" fill="#e80808" stroke="none" stroke-width="0"/><rect x="387.36" y="234.20" width="1.95" height="7.52" fill="#ff3030" stroke="none" stroke-width="0"/><rect x="389.25" y="234.20" width="1.95" height="7.52" fill="#f8f8fc" stroke="none" stroke-width="0"/><rect x="391.15" y="234.20" width="3.84" height="7.52" fill="#b0d6f6" stroke="none" stroke-width="0"/><rect x="394.94" y="234.20" width="1.95" height="7.52" fill="#f8f8fc" stroke="none" stroke-width="0"/><rect x="396.84" y="234.20" width="1.95" height="7.52" fill="#ff3030" stroke="none" stroke-width="0"/><rect x="398.74" y="234.20" width="1.95" height="7.52" fill="#ff9c9c" stroke="none" stroke-width="0"/><rect x="400.63" y="234.20" width="1.95" height="7.52" fill="#f8f8fc" stroke="none" stroke-width="0"/><rect x="402.53" y="234.20" width="1.95" height="7.52" fill="#b0d6f6" stroke="none" stroke-width="0"/><rect x="404.43" y="234.20" width="1.95" height="7.52" fill="#6eb0ee" stroke="none" stroke-width="0"/><rect x="406.32" y="234.20" width="1.95" height="7.52" fill="#f8f8fc" stroke="none" stroke-width="0"/><rect x="408.22" y="234.20" width="1.95" height="7.52" fill="#ff9c9c" stroke="none" stroke-width="0"/><rect x="410.11" y="234.20" width="1.95" height="7.52" fill="#f8f8fc" stroke="none" stroke-width="0"/><rect x="412.01" y="234.20" width="1.95" height="7.52" fill="#ff9c9c" stroke="none" stroke-width="0"/><rect x="413.91" y="234.20" width="1.95" height="7.52" fill="#ffc6c6" stroke="none" stroke-width="0"/><rect x="415.80" y="234.20" width="1.95" height="7.52" fill="#f8f8fc" stroke="none" stroke-width="0"/><rect x="417.70" y="234.20" width="1.95" height="7.52" fill="#ff9c9c" stroke="none" stroke-width="0"/><rect x="419.60" y="234.20" width="1.95" height="7.52" fill="#2a8aea" stroke="none" stroke-width="0"/><rect x="421.49" y="234.20" width="3.84" height="7.52" fill="#b0d6f6" stroke="none" stroke-width="0"/><rect x="425.29" y="234.20" width="1.95" height="7.52" fill="#2a8aea" stroke="none" stroke-width="0"/><rect x="427.18" y="234.20" width="1.95" height="7.52" fill="#f8f8fc" stroke="none" stroke-width="0"/><rect x="429.08" y="234.20" width="1.95" height="7.52" fill="#b0d6f6" stroke="none" stroke-width="0"/><rect x="430.98" y="234.20" width="1.95" height="7.52" fill="#f8f8fc" stroke="none" stroke-width="0"/><rect x="432.87" y="234.20" width="1.95" height="7.52" fill="#6eb0ee" stroke="none" stroke-width="0"/><rect x="434.77" y="234.20" width="1.95" height="7.52" fill="#ff3030" stroke="none" stroke-width="0"/><rect x="436.67" y="234.20" width="1.95" height="7.52" fill="#b0d6f6" stroke="none" stroke-width="0"/><rect x="438.56" y="234.20" width="1.95" height="7.52" fill="#f8f8fc" stroke="none" stroke-width="0"/><rect x="440.46" y="234.20" width="1.95" height="7.52" fill="#ffc6c6" stroke="none" stroke-width="0"/><rect x="442.36" y="234.20" width="1.95" height="7.52" fill="#f8f8fc" stroke="none" stroke-width="0"/><rect x="444.25" y="234.20" width="1.95" height="7.52" fill="#b0d6f6" stroke="none" stroke-width="0"/><rect x="446.15" y="234.20" width="1.95" height="7.52" fill="#f8f8fc" stroke="none" stroke-width="0"/><rect x="448.05" y="234.20" width="3.84" height="7.52" fill="#b0d6f6" stroke="none" stroke-width="0"/><rect x="451.84" y="234.20" width="1.95" height="7.52" fill="#ff3030" stroke="none" stroke-width="0"/><rect x="453.74" y="234.20" width="1.95" height="7.52" fill="#f8f8fc" stroke="none" stroke-width="0"/><rect x="455.63" y="234.20" width="1.95" height="7.52" fill="#ff3030" stroke="none" stroke-width="0"/><rect x="457.53" y="234.20" width="1.95" height="7.52" fill="#ffc6c6" stroke="none" stroke-width="0"/><rect x="459.43" y="234.20" width="3.84" height="7.52" fill="#b0d6f6" stroke="none" stroke-width="0"/><rect x="463.22" y="234.20" width="1.95" height="7.52" fill="#f8f8fc" stroke="none" stroke-width="0"/><rect x="465.12" y="234.20" width="1.95" height="7.52" fill="#b0d6f6" stroke="none" stroke-width="0"/><rect x="467.01" y="234.20" width="1.95" height="7.52" fill="#6eb0ee" stroke="none" stroke-width="0"/><rect x="468.91" y="234.20" width="1.95" height="7.52" fill="#ffc6c6" stroke="none" stroke-width="0"/><rect x="470.81" y="234.20" width="1.95" height="7.52" fill="#f8f8fc" stroke="none" stroke-width="0"/><rect x="472.70" y="234.20" width="3.84" height="7.52" fill="#b0d6f6" stroke="none" stroke-width="0"/><rect x="476.50" y="234.20" width="1.95" height="7.52" fill="#f8f8fc" stroke="none" stroke-width="0"/><rect x="478.39" y="234.20" width="1.95" height="7.52" fill="#b0d6f6" stroke="none" stroke-width="0"/><rect x="480.29" y="234.20" width="3.84" height="7.52" fill="#f8f8fc" stroke="none" stroke-width="0"/><rect x="484.08" y="234.20" width="1.95" height="7.52" fill="#ffc6c6" stroke="none" stroke-width="0"/><rect x="485.98" y="234.20" width="1.95" height="7.52" fill="#b0d6f6" stroke="none" stroke-width="0"/><rect x="487.88" y="234.20" width="1.95" height="7.52" fill="#ff9c9c" stroke="none" stroke-width="0"/><rect x="489.77" y="234.20" width="1.95" height="7.52" fill="#2a8aea" stroke="none" stroke-width="0"/><rect x="491.67" y="234.20" width="1.95" height="7.52" fill="#f8f8fc" stroke="none" stroke-width="0"/><rect x="493.56" y="234.20" width="3.84" height="7.52" fill="#ffc6c6" stroke="none" stroke-width="0"/><rect x="497.36" y="234.20" width="1.95" height="7.52" fill="#2a8aea" stroke="none" stroke-width="0"/><rect x="499.25" y="234.20" width="1.95" height="7.52" fill="#ff3030" stroke="none" stroke-width="0"/><rect x="501.15" y="234.20" width="1.95" height="7.52" fill="#f8f8fc" stroke="none" stroke-width="0"/><rect x="503.05" y="234.20" width="1.95" height="7.52" fill="#b0d6f6" stroke="none" stroke-width="0"/><rect x="504.94" y="234.20" width="1.95" height="7.52" fill="#ff3030" stroke="none" stroke-width="0"/><rect x="506.84" y="234.20" width="1.95" height="7.52" fill="#f8f8fc" stroke="none" stroke-width="0"/><rect x="508.74" y="234.20" width="1.95" height="7.52" fill="#b0d6f6" stroke="none" stroke-width="0"/><rect x="510.63" y="234.20" width="1.95" height="7.52" fill="#ff3030" stroke="none" stroke-width="0"/><rect x="512.53" y="234.20" width="1.95" height="7.52" fill="#f8f8fc" stroke="none" stroke-width="0"/><rect x="514.43" y="234.20" width="3.84" height="7.52" fill="#b0d6f6" stroke="none" stroke-width="0"/><rect x="518.22" y="234.20" width="1.95" height="7.52" fill="#6eb0ee" stroke="none" stroke-width="0"/><rect x="520.12" y="234.20" width="1.95" height="7.52" fill="#b0d6f6" stroke="none" stroke-width="0"/><rect x="522.01" y="234.20" width="1.95" height="7.52" fill="#f8f8fc" stroke="none" stroke-width="0"/><rect x="523.91" y="234.20" width="1.95" height="7.52" fill="#b0d6f6" stroke="none" stroke-width="0"/><rect x="525.81" y="234.20" width="1.95" height="7.52" fill="#ff9c9c" stroke="none" stroke-width="0"/><rect x="527.70" y="234.20" width="1.95" height="7.52" fill="#f8f8fc" stroke="none" stroke-width="0"/><rect x="362.70" y="241.67" width="1.95" height="7.52" fill="#ffc6c6" stroke="none" stroke-width="0"/><rect x="364.60" y="241.67" width="1.95" height="7.52" fill="#b0d6f6" stroke="none" stroke-width="0"/><rect x="366.49" y="241.67" width="1.95" height="7.52" fill="#f8f8fc" stroke="none" stroke-width="0"/><rect x="368.39" y="241.67" width="1.95" height="7.52" fill="#b0d6f6" stroke="none" stroke-width="0"/><rect x="370.29" y="241.67" width="1.95" height="7.52" fill="#e80808" stroke="none" stroke-width="0"/><rect x="372.18" y="241.67" width="1.95" height="7.52" fill="#ff3030" stroke="none" stroke-width="0"/><rect x="374.08" y="241.67" width="1.95" height="7.52" fill="#ffc6c6" stroke="none" stroke-width="0"/><rect x="375.98" y="241.67" width="1.95" height="7.52" fill="#ff9c9c" stroke="none" stroke-width="0"/><rect x="377.87" y="241.67" width="1.95" height="7.52" fill="#f8f8fc" stroke="none" stroke-width="0"/><rect x="379.77" y="241.67" width="1.95" height="7.52" fill="#ff9c9c" stroke="none" stroke-width="0"/><rect x="381.67" y="241.67" width="1.95" height="7.52" fill="#ffc6c6" stroke="none" stroke-width="0"/><rect x="383.56" y="241.67" width="1.95" height="7.52" fill="#b0d6f6" stroke="none" stroke-width="0"/><rect x="385.46" y="241.67" width="1.95" height="7.52" fill="#ff9c9c" stroke="none" stroke-width="0"/><rect x="387.36" y="241.67" width="1.95" height="7.52" fill="#ffc6c6" stroke="none" stroke-width="0"/><rect x="389.25" y="241.67" width="1.95" height="7.52" fill="#f8f8fc" stroke="none" stroke-width="0"/><rect x="391.15" y="241.67" width="1.95" height="7.52" fill="#ffc6c6" stroke="none" stroke-width="0"/><rect x="393.05" y="241.67" width="1.95" height="7.52" fill="#ff9c9c" stroke="none" stroke-width="0"/><rect x="394.94" y="241.67" width="1.95" height="7.52" fill="#ff3030" stroke="none" stroke-width="0"/><rect x="396.84" y="241.67" width="1.95" height="7.52" fill="#f8f8fc" stroke="none" stroke-width="0"/><rect x="398.74" y="241.67" width="1.95" height="7.52" fill="#ffc6c6" stroke="none" stroke-width="0"/><rect x="400.63" y="241.67" width="1.95" height="7.52" fill="#b0d6f6" stroke="none" stroke-width="0"/><rect x="402.53" y="241.67" width="1.95" height="7.52" fill="#2a8aea" stroke="none" stroke-width="0"/><rect x="404.43" y="241.67" width="1.95" height="7.52" fill="#f8f8fc" stroke="none" stroke-width="0"/><rect x="406.32" y="241.67" width="1.95" height="7.52" fill="#ffc6c6" stroke="none" stroke-width="0"/><rect x="408.22" y="241.67" width="1.95" height="7.52" fill="#2a1ab8" stroke="none" stroke-width="0"/><rect x="410.11" y="241.67" width="1.95" height="7.52" fill="#f8f8fc" stroke="none" stroke-width="0"/><rect x="412.01" y="241.67" width="3.84" height="7.52" fill="#ffc6c6" stroke="none" stroke-width="0"/><rect x="415.80" y="241.67" width="1.95" height="7.52" fill="#f8f8fc" stroke="none" stroke-width="0"/><rect x="417.70" y="241.67" width="1.95" height="7.52" fill="#ff9c9c" stroke="none" stroke-width="0"/><rect x="419.60" y="241.67" width="3.84" height="7.52" fill="#b0d6f6" stroke="none" stroke-width="0"/><rect x="423.39" y="241.67" width="1.95" height="7.52" fill="#f8f8fc" stroke="none" stroke-width="0"/><rect x="425.29" y="241.67" width="3.84" height="7.52" fill="#ff9c9c" stroke="none" stroke-width="0"/><rect x="429.08" y="241.67" width="1.95" height="7.52" fill="#f8f8fc" stroke="none" stroke-width="0"/><rect x="430.98" y="241.67" width="1.95" height="7.52" fill="#b0d6f6" stroke="none" stroke-width="0"/><rect x="432.87" y="241.67" width="1.95" height="7.52" fill="#ff3030" stroke="none" stroke-width="0"/><rect x="434.77" y="241.67" width="1.95" height="7.52" fill="#ffc6c6" stroke="none" stroke-width="0"/><rect x="436.67" y="241.67" width="1.95" height="7.52" fill="#f8f8fc" stroke="none" stroke-width="0"/><rect x="438.56" y="241.67" width="1.95" height="7.52" fill="#b0d6f6" stroke="none" stroke-width="0"/><rect x="440.46" y="241.67" width="3.84" height="7.52" fill="#ff9c9c" stroke="none" stroke-width="0"/><rect x="444.25" y="241.67" width="1.95" height="7.52" fill="#ffc6c6" stroke="none" stroke-width="0"/><rect x="446.15" y="241.67" width="1.95" height="7.52" fill="#b0d6f6" stroke="none" stroke-width="0"/><rect x="448.05" y="241.67" width="1.95" height="7.52" fill="#ff3030" stroke="none" stroke-width="0"/><rect x="449.94" y="241.67" width="1.95" height="7.52" fill="#f8f8fc" stroke="none" stroke-width="0"/><rect x="451.84" y="241.67" width="1.95" height="7.52" fill="#ff9c9c" stroke="none" stroke-width="0"/><rect x="453.74" y="241.67" width="3.84" height="7.52" fill="#f8f8fc" stroke="none" stroke-width="0"/><rect x="457.53" y="241.67" width="1.95" height="7.52" fill="#2a8aea" stroke="none" stroke-width="0"/><rect x="459.43" y="241.67" width="1.95" height="7.52" fill="#f8f8fc" stroke="none" stroke-width="0"/><rect x="461.32" y="241.67" width="1.95" height="7.52" fill="#ff9c9c" stroke="none" stroke-width="0"/><rect x="463.22" y="241.67" width="1.95" height="7.52" fill="#f8f8fc" stroke="none" stroke-width="0"/><rect x="465.12" y="241.67" width="3.84" height="7.52" fill="#b0d6f6" stroke="none" stroke-width="0"/><rect x="468.91" y="241.67" width="1.95" height="7.52" fill="#f8f8fc" stroke="none" stroke-width="0"/><rect x="470.81" y="241.67" width="1.95" height="7.52" fill="#ff9c9c" stroke="none" stroke-width="0"/><rect x="472.70" y="241.67" width="1.95" height="7.52" fill="#f8f8fc" stroke="none" stroke-width="0"/><rect x="474.60" y="241.67" width="1.95" height="7.52" fill="#b0d6f6" stroke="none" stroke-width="0"/><rect x="476.50" y="241.67" width="1.95" height="7.52" fill="#ff9c9c" stroke="none" stroke-width="0"/><rect x="478.39" y="241.67" width="3.84" height="7.52" fill="#f8f8fc" stroke="none" stroke-width="0"/><rect x="482.19" y="241.67" width="1.95" height="7.52" fill="#b0d6f6" stroke="none" stroke-width="0"/><rect x="484.08" y="241.67" width="1.95" height="7.52" fill="#f8f8fc" stroke="none" stroke-width="0"/><rect x="485.98" y="241.67" width="3.84" height="7.52" fill="#b0d6f6" stroke="none" stroke-width="0"/><rect x="489.77" y="241.67" width="1.95" height="7.52" fill="#2a8aea" stroke="none" stroke-width="0"/><rect x="491.67" y="241.67" width="1.95" height="7.52" fill="#f8f8fc" stroke="none" stroke-width="0"/><rect x="493.56" y="241.67" width="3.84" height="7.52" fill="#ff9c9c" stroke="none" stroke-width="0"/><rect x="497.36" y="241.67" width="1.95" height="7.52" fill="#2a8aea" stroke="none" stroke-width="0"/><rect x="499.25" y="241.67" width="3.84" height="7.52" fill="#b0d6f6" stroke="none" stroke-width="0"/><rect x="503.05" y="241.67" width="3.84" height="7.52" fill="#f8f8fc" stroke="none" stroke-width="0"/><rect x="506.84" y="241.67" width="1.95" height="7.52" fill="#ff9c9c" stroke="none" stroke-width="0"/><rect x="508.74" y="241.67" width="1.95" height="7.52" fill="#f8f8fc" stroke="none" stroke-width="0"/><rect x="510.63" y="241.67" width="1.95" height="7.52" fill="#ffc6c6" stroke="none" stroke-width="0"/><rect x="512.53" y="241.67" width="1.95" height="7.52" fill="#f8f8fc" stroke="none" stroke-width="0"/><rect x="514.43" y="241.67" width="1.95" height="7.52" fill="#ff9c9c" stroke="none" stroke-width="0"/><rect x="516.32" y="241.67" width="1.95" height="7.52" fill="#f8f8fc" stroke="none" stroke-width="0"/><rect x="518.22" y="241.67" width="1.95" height="7.52" fill="#ffc6c6" stroke="none" stroke-width="0"/><rect x="520.12" y="241.67" width="1.95" height="7.52" fill="#2a8aea" stroke="none" stroke-width="0"/><rect x="522.01" y="241.67" width="1.95" height="7.52" fill="#b0d6f6" stroke="none" stroke-width="0"/><rect x="523.91" y="241.67" width="1.95" height="7.52" fill="#f8f8fc" stroke="none" stroke-width="0"/><rect x="525.81" y="241.67" width="3.84" height="7.52" fill="#b0d6f6" stroke="none" stroke-width="0"/><rect x="362.70" y="249.13" width="5.74" height="7.52" fill="#b0d6f6" stroke="none" stroke-width="0"/><rect x="368.39" y="249.13" width="1.95" height="7.52" fill="#ff3030" stroke="none" stroke-width="0"/><rect x="370.29" y="249.13" width="1.95" height="7.52" fill="#f8f8fc" stroke="none" stroke-width="0"/><rect x="372.18" y="249.13" width="1.95" height="7.52" fill="#ffc6c6" stroke="none" stroke-width="0"/><rect x="374.08" y="249.13" width="1.95" height="7.52" fill="#f8f8fc" stroke="none" stroke-width="0"/><rect x="375.98" y="249.13" width="1.95" height="7.52" fill="#b0d6f6" stroke="none" stroke-width="0"/><rect x="377.87" y="249.13" width="1.95" height="7.52" fill="#ffc6c6" stroke="none" stroke-width="0"/><rect x="379.77" y="249.13" width="1.95" height="7.52" fill="#ff3030" stroke="none" stroke-width="0"/><rect x="381.67" y="249.13" width="1.95" height="7.52" fill="#ffc6c6" stroke="none" stroke-width="0"/><rect x="383.56" y="249.13" width="1.95" height="7.52" fill="#f8f8fc" stroke="none" stroke-width="0"/><rect x="385.46" y="249.13" width="1.95" height="7.52" fill="#ff3030" stroke="none" stroke-width="0"/><rect x="387.36" y="249.13" width="1.95" height="7.52" fill="#f8f8fc" stroke="none" stroke-width="0"/><rect x="389.25" y="249.13" width="1.95" height="7.52" fill="#b0d6f6" stroke="none" stroke-width="0"/><rect x="391.15" y="249.13" width="1.95" height="7.52" fill="#6eb0ee" stroke="none" stroke-width="0"/><rect x="393.05" y="249.13" width="1.95" height="7.52" fill="#b0d6f6" stroke="none" stroke-width="0"/><rect x="394.94" y="249.13" width="1.95" height="7.52" fill="#2a8aea" stroke="none" stroke-width="0"/><rect x="396.84" y="249.13" width="1.95" height="7.52" fill="#f8f8fc" stroke="none" stroke-width="0"/><rect x="398.74" y="249.13" width="1.95" height="7.52" fill="#ff3030" stroke="none" stroke-width="0"/><rect x="400.63" y="249.13" width="1.95" height="7.52" fill="#b0d6f6" stroke="none" stroke-width="0"/><rect x="402.53" y="249.13" width="1.95" height="7.52" fill="#2a8aea" stroke="none" stroke-width="0"/><rect x="404.43" y="249.13" width="1.95" height="7.52" fill="#b0d6f6" stroke="none" stroke-width="0"/><rect x="406.32" y="249.13" width="1.95" height="7.52" fill="#ffc6c6" stroke="none" stroke-width="0"/><rect x="408.22" y="249.13" width="1.95" height="7.52" fill="#b0d6f6" stroke="none" stroke-width="0"/><rect x="410.11" y="249.13" width="1.95" height="7.52" fill="#f8f8fc" stroke="none" stroke-width="0"/><rect x="412.01" y="249.13" width="1.95" height="7.52" fill="#ff3030" stroke="none" stroke-width="0"/><rect x="413.91" y="249.13" width="3.84" height="7.52" fill="#ffc6c6" stroke="none" stroke-width="0"/><rect x="417.70" y="249.13" width="3.84" height="7.52" fill="#2a8aea" stroke="none" stroke-width="0"/><rect x="421.49" y="249.13" width="1.95" height="7.52" fill="#ff9c9c" stroke="none" stroke-width="0"/><rect x="423.39" y="249.13" width="1.95" height="7.52" fill="#f8f8fc" stroke="none" stroke-width="0"/><rect x="425.29" y="249.13" width="1.95" height="7.52" fill="#2a8aea" stroke="none" stroke-width="0"/><rect x="427.18" y="249.13" width="1.95" height="7.52" fill="#ff9c9c" stroke="none" stroke-width="0"/><rect x="429.08" y="249.13" width="1.95" height="7.52" fill="#f8f8fc" stroke="none" stroke-width="0"/><rect x="430.98" y="249.13" width="1.95" height="7.52" fill="#b0d6f6" stroke="none" stroke-width="0"/><rect x="432.87" y="249.13" width="1.95" height="7.52" fill="#ff3030" stroke="none" stroke-width="0"/><rect x="434.77" y="249.13" width="1.95" height="7.52" fill="#ff9c9c" stroke="none" stroke-width="0"/><rect x="436.67" y="249.13" width="5.74" height="7.52" fill="#b0d6f6" stroke="none" stroke-width="0"/><rect x="442.36" y="249.13" width="1.95" height="7.52" fill="#ffc6c6" stroke="none" stroke-width="0"/><rect x="444.25" y="249.13" width="1.95" height="7.52" fill="#f8f8fc" stroke="none" stroke-width="0"/><rect x="446.15" y="249.13" width="1.95" height="7.52" fill="#b0d6f6" stroke="none" stroke-width="0"/><rect x="448.05" y="249.13" width="1.95" height="7.52" fill="#f8f8fc" stroke="none" stroke-width="0"/><rect x="449.94" y="249.13" width="1.95" height="7.52" fill="#ff9c9c" stroke="none" stroke-width="0"/><rect x="451.84" y="249.13" width="1.95" height="7.52" fill="#ffc6c6" stroke="none" stroke-width="0"/><rect x="453.74" y="249.13" width="1.95" height="7.52" fill="#ff9c9c" stroke="none" stroke-width="0"/><rect x="455.63" y="249.13" width="3.84" height="7.52" fill="#f8f8fc" stroke="none" stroke-width="0"/><rect x="459.43" y="249.13" width="1.95" height="7.52" fill="#ff3030" stroke="none" stroke-width="0"/><rect x="461.32" y="249.13" width="1.95" height="7.52" fill="#ffc6c6" stroke="none" stroke-width="0"/><rect x="463.22" y="249.13" width="1.95" height="7.52" fill="#f8f8fc" stroke="none" stroke-width="0"/><rect x="465.12" y="249.13" width="1.95" height="7.52" fill="#b0d6f6" stroke="none" stroke-width="0"/><rect x="467.01" y="249.13" width="1.95" height="7.52" fill="#f8f8fc" stroke="none" stroke-width="0"/><rect x="468.91" y="249.13" width="1.95" height="7.52" fill="#ffc6c6" stroke="none" stroke-width="0"/><rect x="470.81" y="249.13" width="1.95" height="7.52" fill="#b0d6f6" stroke="none" stroke-width="0"/><rect x="472.70" y="249.13" width="1.95" height="7.52" fill="#f8f8fc" stroke="none" stroke-width="0"/><rect x="474.60" y="249.13" width="3.84" height="7.52" fill="#b0d6f6" stroke="none" stroke-width="0"/><rect x="478.39" y="249.13" width="1.95" height="7.52" fill="#ff3030" stroke="none" stroke-width="0"/><rect x="480.29" y="249.13" width="1.95" height="7.52" fill="#f8f8fc" stroke="none" stroke-width="0"/><rect x="482.19" y="249.13" width="1.95" height="7.52" fill="#ff9c9c" stroke="none" stroke-width="0"/><rect x="484.08" y="249.13" width="1.95" height="7.52" fill="#e80808" stroke="none" stroke-width="0"/><rect x="485.98" y="249.13" width="1.95" height="7.52" fill="#b0d6f6" stroke="none" stroke-width="0"/><rect x="487.88" y="249.13" width="1.95" height="7.52" fill="#2a8aea" stroke="none" stroke-width="0"/><rect x="489.77" y="249.13" width="1.95" height="7.52" fill="#b0d6f6" stroke="none" stroke-width="0"/><rect x="491.67" y="249.13" width="1.95" height="7.52" fill="#f8f8fc" stroke="none" stroke-width="0"/><rect x="493.56" y="249.13" width="1.95" height="7.52" fill="#b0d6f6" stroke="none" stroke-width="0"/><rect x="495.46" y="249.13" width="3.84" height="7.52" fill="#ff9c9c" stroke="none" stroke-width="0"/><rect x="499.25" y="249.13" width="1.95" height="7.52" fill="#f8f8fc" stroke="none" stroke-width="0"/><rect x="501.15" y="249.13" width="1.95" height="7.52" fill="#ffc6c6" stroke="none" stroke-width="0"/><rect x="503.05" y="249.13" width="1.95" height="7.52" fill="#2a8aea" stroke="none" stroke-width="0"/><rect x="504.94" y="249.13" width="1.95" height="7.52" fill="#ff9c9c" stroke="none" stroke-width="0"/><rect x="506.84" y="249.13" width="1.95" height="7.52" fill="#ffc6c6" stroke="none" stroke-width="0"/><rect x="508.74" y="249.13" width="1.95" height="7.52" fill="#f8f8fc" stroke="none" stroke-width="0"/><rect x="510.63" y="249.13" width="1.95" height="7.52" fill="#ff9c9c" stroke="none" stroke-width="0"/><rect x="512.53" y="249.13" width="1.95" height="7.52" fill="#ff3030" stroke="none" stroke-width="0"/><rect x="514.43" y="249.13" width="1.95" height="7.52" fill="#f8f8fc" stroke="none" stroke-width="0"/><rect x="516.32" y="249.13" width="5.74" height="7.52" fill="#b0d6f6" stroke="none" stroke-width="0"/><rect x="522.01" y="249.13" width="1.95" height="7.52" fill="#2a8aea" stroke="none" stroke-width="0"/><rect x="523.91" y="249.13" width="1.95" height="7.52" fill="#ff9c9c" stroke="none" stroke-width="0"/><rect x="525.81" y="249.13" width="1.95" height="7.52" fill="#ffc6c6" stroke="none" stroke-width="0"/><rect x="527.70" y="249.13" width="1.95" height="7.52" fill="#f8f8fc" stroke="none" stroke-width="0"/><rect x="362.70" y="256.60" width="1.95" height="7.52" fill="#ff9c9c" stroke="none" stroke-width="0"/><rect x="364.60" y="256.60" width="1.95" height="7.52" fill="#b0d6f6" stroke="none" stroke-width="0"/><rect x="366.49" y="256.60" width="5.74" height="7.52" fill="#ff9c9c" stroke="none" stroke-width="0"/><rect x="372.18" y="256.60" width="3.84" height="7.52" fill="#f8f8fc" stroke="none" stroke-width="0"/><rect x="375.98" y="256.60" width="1.95" height="7.52" fill="#ffc6c6" stroke="none" stroke-width="0"/><rect x="377.87" y="256.60" width="1.95" height="7.52" fill="#f8f8fc" stroke="none" stroke-width="0"/><rect x="379.77" y="256.60" width="1.95" height="7.52" fill="#ffc6c6" stroke="none" stroke-width="0"/><rect x="381.67" y="256.60" width="1.95" height="7.52" fill="#b0d6f6" stroke="none" stroke-width="0"/><rect x="383.56" y="256.60" width="1.95" height="7.52" fill="#2a8aea" stroke="none" stroke-width="0"/><rect x="385.46" y="256.60" width="1.95" height="7.52" fill="#ff3030" stroke="none" stroke-width="0"/><rect x="387.36" y="256.60" width="1.95" height="7.52" fill="#ffc6c6" stroke="none" stroke-width="0"/><rect x="389.25" y="256.60" width="1.95" height="7.52" fill="#ff3030" stroke="none" stroke-width="0"/><rect x="391.15" y="256.60" width="1.95" height="7.52" fill="#f8f8fc" stroke="none" stroke-width="0"/><rect x="393.05" y="256.60" width="3.84" height="7.52" fill="#b0d6f6" stroke="none" stroke-width="0"/><rect x="396.84" y="256.60" width="3.84" height="7.52" fill="#ff9c9c" stroke="none" stroke-width="0"/><rect x="400.63" y="256.60" width="1.95" height="7.52" fill="#ffc6c6" stroke="none" stroke-width="0"/><rect x="402.53" y="256.60" width="3.84" height="7.52" fill="#ff9c9c" stroke="none" stroke-width="0"/><rect x="406.32" y="256.60" width="1.95" height="7.52" fill="#b0d6f6" stroke="none" stroke-width="0"/><rect x="408.22" y="256.60" width="1.95" height="7.52" fill="#6eb0ee" stroke="none" stroke-width="0"/><rect x="410.11" y="256.60" width="1.95" height="7.52" fill="#b0d6f6" stroke="none" stroke-width="0"/><rect x="412.01" y="256.60" width="1.95" height="7.52" fill="#2a8aea" stroke="none" stroke-width="0"/><rect x="413.91" y="256.60" width="1.95" height="7.52" fill="#ff9c9c" stroke="none" stroke-width="0"/><rect x="415.80" y="256.60" width="1.95" height="7.52" fill="#b0d6f6" stroke="none" stroke-width="0"/><rect x="417.70" y="256.60" width="1.95" height="7.52" fill="#ffc6c6" stroke="none" stroke-width="0"/><rect x="419.60" y="256.60" width="3.84" height="7.52" fill="#f8f8fc" stroke="none" stroke-width="0"/><rect x="423.39" y="256.60" width="1.95" height="7.52" fill="#ff9c9c" stroke="none" stroke-width="0"/><rect x="425.29" y="256.60" width="1.95" height="7.52" fill="#b0d6f6" stroke="none" stroke-width="0"/><rect x="427.18" y="256.60" width="1.95" height="7.52" fill="#6eb0ee" stroke="none" stroke-width="0"/><rect x="429.08" y="256.60" width="1.95" height="7.52" fill="#b0d6f6" stroke="none" stroke-width="0"/><rect x="430.98" y="256.60" width="1.95" height="7.52" fill="#f8f8fc" stroke="none" stroke-width="0"/><rect x="432.87" y="256.60" width="1.95" height="7.52" fill="#ffc6c6" stroke="none" stroke-width="0"/><rect x="434.77" y="256.60" width="1.95" height="7.52" fill="#b0d6f6" stroke="none" stroke-width="0"/><rect x="436.67" y="256.60" width="1.95" height="7.52" fill="#e80808" stroke="none" stroke-width="0"/><rect x="438.56" y="256.60" width="1.95" height="7.52" fill="#f8f8fc" stroke="none" stroke-width="0"/><rect x="440.46" y="256.60" width="1.95" height="7.52" fill="#ff9c9c" stroke="none" stroke-width="0"/><rect x="442.36" y="256.60" width="1.95" height="7.52" fill="#ffc6c6" stroke="none" stroke-width="0"/><rect x="444.25" y="256.60" width="1.95" height="7.52" fill="#f8f8fc" stroke="none" stroke-width="0"/><rect x="446.15" y="256.60" width="1.95" height="7.52" fill="#ffc6c6" stroke="none" stroke-width="0"/><rect x="448.05" y="256.60" width="3.84" height="7.52" fill="#f8f8fc" stroke="none" stroke-width="0"/><rect x="451.84" y="256.60" width="3.84" height="7.52" fill="#b0d6f6" stroke="none" stroke-width="0"/><rect x="455.63" y="256.60" width="1.95" height="7.52" fill="#6eb0ee" stroke="none" stroke-width="0"/><rect x="457.53" y="256.60" width="1.95" height="7.52" fill="#b0d6f6" stroke="none" stroke-width="0"/><rect x="459.43" y="256.60" width="1.95" height="7.52" fill="#f8f8fc" stroke="none" stroke-width="0"/><rect x="461.32" y="256.60" width="1.95" height="7.52" fill="#ff3030" stroke="none" stroke-width="0"/><rect x="463.22" y="256.60" width="5.74" height="7.52" fill="#b0d6f6" stroke="none" stroke-width="0"/><rect x="468.91" y="256.60" width="1.95" height="7.52" fill="#f8f8fc" stroke="none" stroke-width="0"/><rect x="470.81" y="256.60" width="1.95" height="7.52" fill="#ffc6c6" stroke="none" stroke-width="0"/><rect x="472.70" y="256.60" width="1.95" height="7.52" fill="#f8f8fc" stroke="none" stroke-width="0"/><rect x="474.60" y="256.60" width="1.95" height="7.52" fill="#6eb0ee" stroke="none" stroke-width="0"/><rect x="476.50" y="256.60" width="1.95" height="7.52" fill="#b0d6f6" stroke="none" stroke-width="0"/><rect x="478.39" y="256.60" width="1.95" height="7.52" fill="#ff3030" stroke="none" stroke-width="0"/><rect x="480.29" y="256.60" width="1.95" height="7.52" fill="#f8f8fc" stroke="none" stroke-width="0"/><rect x="482.19" y="256.60" width="1.95" height="7.52" fill="#ff9c9c" stroke="none" stroke-width="0"/><rect x="484.08" y="256.60" width="1.95" height="7.52" fill="#b0d6f6" stroke="none" stroke-width="0"/><rect x="485.98" y="256.60" width="1.95" height="7.52" fill="#6eb0ee" stroke="none" stroke-width="0"/><rect x="487.88" y="256.60" width="5.74" height="7.52" fill="#b0d6f6" stroke="none" stroke-width="0"/><rect x="493.56" y="256.60" width="1.95" height="7.52" fill="#ff9c9c" stroke="none" stroke-width="0"/><rect x="495.46" y="256.60" width="1.95" height="7.52" fill="#f8f8fc" stroke="none" stroke-width="0"/><rect x="497.36" y="256.60" width="1.95" height="7.52" fill="#b0d6f6" stroke="none" stroke-width="0"/><rect x="499.25" y="256.60" width="1.95" height="7.52" fill="#6eb0ee" stroke="none" stroke-width="0"/><rect x="501.15" y="256.60" width="1.95" height="7.52" fill="#ff3030" stroke="none" stroke-width="0"/><rect x="503.05" y="256.60" width="1.95" height="7.52" fill="#f8f8fc" stroke="none" stroke-width="0"/><rect x="504.94" y="256.60" width="1.95" height="7.52" fill="#b0d6f6" stroke="none" stroke-width="0"/><rect x="506.84" y="256.60" width="1.95" height="7.52" fill="#ffc6c6" stroke="none" stroke-width="0"/><rect x="508.74" y="256.60" width="1.95" height="7.52" fill="#b0d6f6" stroke="none" stroke-width="0"/><rect x="510.63" y="256.60" width="1.95" height="7.52" fill="#f8f8fc" stroke="none" stroke-width="0"/><rect x="512.53" y="256.60" width="1.95" height="7.52" fill="#ffc6c6" stroke="none" stroke-width="0"/><rect x="514.43" y="256.60" width="1.95" height="7.52" fill="#ff3030" stroke="none" stroke-width="0"/><rect x="516.32" y="256.60" width="1.95" height="7.52" fill="#f8f8fc" stroke="none" stroke-width="0"/><rect x="518.22" y="256.60" width="1.95" height="7.52" fill="#b0d6f6" stroke="none" stroke-width="0"/><rect x="520.12" y="256.60" width="1.95" height="7.52" fill="#ff9c9c" stroke="none" stroke-width="0"/><rect x="522.01" y="256.60" width="1.95" height="7.52" fill="#ff3030" stroke="none" stroke-width="0"/><rect x="523.91" y="256.60" width="1.95" height="7.52" fill="#f8f8fc" stroke="none" stroke-width="0"/><rect x="525.81" y="256.60" width="1.95" height="7.52" fill="#ffc6c6" stroke="none" stroke-width="0"/><rect x="527.70" y="256.60" width="1.95" height="7.52" fill="#b0d6f6" stroke="none" stroke-width="0"/><rect x="362.70" y="264.07" width="3.84" height="7.52" fill="#2a8aea" stroke="none" stroke-width="0"/><rect x="366.49" y="264.07" width="1.95" height="7.52" fill="#b0d6f6" stroke="none" stroke-width="0"/><rect x="368.39" y="264.07" width="1.95" height="7.52" fill="#f8f8fc" stroke="none" stroke-width="0"/><rect x="370.29" y="264.07" width="3.84" height="7.52" fill="#ffc6c6" stroke="none" stroke-width="0"/><rect x="374.08" y="264.07" width="1.95" height="7.52" fill="#f8f8fc" stroke="none" stroke-width="0"/><rect x="375.98" y="264.07" width="1.95" height="7.52" fill="#e80808" stroke="none" stroke-width="0"/><rect x="377.87" y="264.07" width="1.95" height="7.52" fill="#ffc6c6" stroke="none" stroke-width="0"/><rect x="379.77" y="264.07" width="1.95" height="7.52" fill="#ff9c9c" stroke="none" stroke-width="0"/><rect x="381.67" y="264.07" width="1.95" height="7.52" fill="#f8f8fc" stroke="none" stroke-width="0"/><rect x="383.56" y="264.07" width="1.95" height="7.52" fill="#2a8aea" stroke="none" stroke-width="0"/><rect x="385.46" y="264.07" width="3.84" height="7.52" fill="#ff3030" stroke="none" stroke-width="0"/><rect x="389.25" y="264.07" width="1.95" height="7.52" fill="#ffc6c6" stroke="none" stroke-width="0"/><rect x="391.15" y="264.07" width="1.95" height="7.52" fill="#f8f8fc" stroke="none" stroke-width="0"/><rect x="393.05" y="264.07" width="1.95" height="7.52" fill="#ff9c9c" stroke="none" stroke-width="0"/><rect x="394.94" y="264.07" width="1.95" height="7.52" fill="#b0d6f6" stroke="none" stroke-width="0"/><rect x="396.84" y="264.07" width="3.84" height="7.52" fill="#ff9c9c" stroke="none" stroke-width="0"/><rect x="400.63" y="264.07" width="1.95" height="7.52" fill="#ffc6c6" stroke="none" stroke-width="0"/><rect x="402.53" y="264.07" width="1.95" height="7.52" fill="#f8f8fc" stroke="none" stroke-width="0"/><rect x="404.43" y="264.07" width="1.95" height="7.52" fill="#b0d6f6" stroke="none" stroke-width="0"/><rect x="406.32" y="264.07" width="1.95" height="7.52" fill="#ffc6c6" stroke="none" stroke-width="0"/><rect x="408.22" y="264.07" width="1.95" height="7.52" fill="#f8f8fc" stroke="none" stroke-width="0"/><rect x="410.11" y="264.07" width="1.95" height="7.52" fill="#b0d6f6" stroke="none" stroke-width="0"/><rect x="412.01" y="264.07" width="1.95" height="7.52" fill="#ff3030" stroke="none" stroke-width="0"/><rect x="413.91" y="264.07" width="1.95" height="7.52" fill="#ff9c9c" stroke="none" stroke-width="0"/><rect x="415.80" y="264.07" width="1.95" height="7.52" fill="#b0d6f6" stroke="none" stroke-width="0"/><rect x="417.70" y="264.07" width="1.95" height="7.52" fill="#ff9c9c" stroke="none" stroke-width="0"/><rect x="419.60" y="264.07" width="1.95" height="7.52" fill="#2a8aea" stroke="none" stroke-width="0"/><rect x="421.49" y="264.07" width="1.95" height="7.52" fill="#b0d6f6" stroke="none" stroke-width="0"/><rect x="423.39" y="264.07" width="1.95" height="7.52" fill="#ffc6c6" stroke="none" stroke-width="0"/><rect x="425.29" y="264.07" width="1.95" height="7.52" fill="#f8f8fc" stroke="none" stroke-width="0"/><rect x="427.18" y="264.07" width="1.95" height="7.52" fill="#b0d6f6" stroke="none" stroke-width="0"/><rect x="429.08" y="264.07" width="1.95" height="7.52" fill="#f8f8fc" stroke="none" stroke-width="0"/><rect x="430.98" y="264.07" width="1.95" height="7.52" fill="#ff3030" stroke="none" stroke-width="0"/><rect x="432.87" y="264.07" width="1.95" height="7.52" fill="#b0d6f6" stroke="none" stroke-width="0"/><rect x="434.77" y="264.07" width="1.95" height="7.52" fill="#ffc6c6" stroke="none" stroke-width="0"/><rect x="436.67" y="264.07" width="3.84" height="7.52" fill="#f8f8fc" stroke="none" stroke-width="0"/><rect x="440.46" y="264.07" width="1.95" height="7.52" fill="#b0d6f6" stroke="none" stroke-width="0"/><rect x="442.36" y="264.07" width="1.95" height="7.52" fill="#ffc6c6" stroke="none" stroke-width="0"/><rect x="444.25" y="264.07" width="1.95" height="7.52" fill="#b0d6f6" stroke="none" stroke-width="0"/><rect x="446.15" y="264.07" width="1.95" height="7.52" fill="#2a8aea" stroke="none" stroke-width="0"/><rect x="448.05" y="264.07" width="1.95" height="7.52" fill="#b0d6f6" stroke="none" stroke-width="0"/><rect x="449.94" y="264.07" width="3.84" height="7.52" fill="#ff9c9c" stroke="none" stroke-width="0"/><rect x="453.74" y="264.07" width="1.95" height="7.52" fill="#ffc6c6" stroke="none" stroke-width="0"/><rect x="455.63" y="264.07" width="1.95" height="7.52" fill="#f8f8fc" stroke="none" stroke-width="0"/><rect x="457.53" y="264.07" width="1.95" height="7.52" fill="#b0d6f6" stroke="none" stroke-width="0"/><rect x="459.43" y="264.07" width="1.95" height="7.52" fill="#f8f8fc" stroke="none" stroke-width="0"/><rect x="461.32" y="264.07" width="3.84" height="7.52" fill="#ff9c9c" stroke="none" stroke-width="0"/><rect x="465.12" y="264.07" width="1.95" height="7.52" fill="#ffc6c6" stroke="none" stroke-width="0"/><rect x="467.01" y="264.07" width="1.95" height="7.52" fill="#f8f8fc" stroke="none" stroke-width="0"/><rect x="468.91" y="264.07" width="1.95" height="7.52" fill="#b0d6f6" stroke="none" stroke-width="0"/><rect x="470.81" y="264.07" width="1.95" height="7.52" fill="#ffc6c6" stroke="none" stroke-width="0"/><rect x="472.70" y="264.07" width="1.95" height="7.52" fill="#f8f8fc" stroke="none" stroke-width="0"/><rect x="474.60" y="264.07" width="5.74" height="7.52" fill="#b0d6f6" stroke="none" stroke-width="0"/><rect x="480.29" y="264.07" width="1.95" height="7.52" fill="#f8f8fc" stroke="none" stroke-width="0"/><rect x="482.19" y="264.07" width="1.95" height="7.52" fill="#ffc6c6" stroke="none" stroke-width="0"/><rect x="484.08" y="264.07" width="1.95" height="7.52" fill="#f8f8fc" stroke="none" stroke-width="0"/><rect x="485.98" y="264.07" width="3.84" height="7.52" fill="#ff9c9c" stroke="none" stroke-width="0"/><rect x="489.77" y="264.07" width="3.84" height="7.52" fill="#b0d6f6" stroke="none" stroke-width="0"/><rect x="493.56" y="264.07" width="1.95" height="7.52" fill="#f8f8fc" stroke="none" stroke-width="0"/><rect x="495.46" y="264.07" width="1.95" height="7.52" fill="#ff9c9c" stroke="none" stroke-width="0"/><rect x="497.36" y="264.07" width="1.95" height="7.52" fill="#f8f8fc" stroke="none" stroke-width="0"/><rect x="499.25" y="264.07" width="1.95" height="7.52" fill="#b0d6f6" stroke="none" stroke-width="0"/><rect x="501.15" y="264.07" width="1.95" height="7.52" fill="#f8f8fc" stroke="none" stroke-width="0"/><rect x="503.05" y="264.07" width="1.95" height="7.52" fill="#ff9c9c" stroke="none" stroke-width="0"/><rect x="504.94" y="264.07" width="1.95" height="7.52" fill="#f8f8fc" stroke="none" stroke-width="0"/><rect x="506.84" y="264.07" width="3.84" height="7.52" fill="#b0d6f6" stroke="none" stroke-width="0"/><rect x="510.63" y="264.07" width="1.95" height="7.52" fill="#ffc6c6" stroke="none" stroke-width="0"/><rect x="512.53" y="264.07" width="1.95" height="7.52" fill="#f8f8fc" stroke="none" stroke-width="0"/><rect x="514.43" y="264.07" width="3.84" height="7.52" fill="#6eb0ee" stroke="none" stroke-width="0"/><rect x="518.22" y="264.07" width="1.95" height="7.52" fill="#b0d6f6" stroke="none" stroke-width="0"/><rect x="520.12" y="264.07" width="1.95" height="7.52" fill="#f8f8fc" stroke="none" stroke-width="0"/><rect x="522.01" y="264.07" width="1.95" height="7.52" fill="#b0d6f6" stroke="none" stroke-width="0"/><rect x="523.91" y="264.07" width="1.95" height="7.52" fill="#f8f8fc" stroke="none" stroke-width="0"/><rect x="525.81" y="264.07" width="1.95" height="7.52" fill="#6eb0ee" stroke="none" stroke-width="0"/><rect x="527.70" y="264.07" width="1.95" height="7.52" fill="#f8f8fc" stroke="none" stroke-width="0"/><rect x="362.70" y="271.53" width="3.84" height="7.52" fill="#b0d6f6" stroke="none" stroke-width="0"/><rect x="366.49" y="271.53" width="3.84" height="7.52" fill="#f8f8fc" stroke="none" stroke-width="0"/><rect x="370.29" y="271.53" width="1.95" height="7.52" fill="#ff3030" stroke="none" stroke-width="0"/><rect x="372.18" y="271.53" width="1.95" height="7.52" fill="#f8f8fc" stroke="none" stroke-width="0"/><rect x="374.08" y="271.53" width="3.84" height="7.52" fill="#ff9c9c" stroke="none" stroke-width="0"/><rect x="377.87" y="271.53" width="3.84" height="7.52" fill="#f8f8fc" stroke="none" stroke-width="0"/><rect x="381.67" y="271.53" width="1.95" height="7.52" fill="#b0d6f6" stroke="none" stroke-width="0"/><rect x="383.56" y="271.53" width="1.95" height="7.52" fill="#f8f8fc" stroke="none" stroke-width="0"/><rect x="385.46" y="271.53" width="1.95" height="7.52" fill="#ff9c9c" stroke="none" stroke-width="0"/><rect x="387.36" y="271.53" width="1.95" height="7.52" fill="#ff3030" stroke="none" stroke-width="0"/><rect x="389.25" y="271.53" width="1.95" height="7.52" fill="#f8f8fc" stroke="none" stroke-width="0"/><rect x="391.15" y="271.53" width="1.95" height="7.52" fill="#b0d6f6" stroke="none" stroke-width="0"/><rect x="393.05" y="271.53" width="1.95" height="7.52" fill="#ffc6c6" stroke="none" stroke-width="0"/><rect x="394.94" y="271.53" width="1.95" height="7.52" fill="#f8f8fc" stroke="none" stroke-width="0"/><rect x="396.84" y="271.53" width="5.74" height="7.52" fill="#ff9c9c" stroke="none" stroke-width="0"/><rect x="402.53" y="271.53" width="1.95" height="7.52" fill="#b0d6f6" stroke="none" stroke-width="0"/><rect x="404.43" y="271.53" width="1.95" height="7.52" fill="#f8f8fc" stroke="none" stroke-width="0"/><rect x="406.32" y="271.53" width="1.95" height="7.52" fill="#2a8aea" stroke="none" stroke-width="0"/><rect x="408.22" y="271.53" width="1.95" height="7.52" fill="#b0d6f6" stroke="none" stroke-width="0"/><rect x="410.11" y="271.53" width="1.95" height="7.52" fill="#f8f8fc" stroke="none" stroke-width="0"/><rect x="412.01" y="271.53" width="1.95" height="7.52" fill="#b0d6f6" stroke="none" stroke-width="0"/><rect x="413.91" y="271.53" width="1.95" height="7.52" fill="#f8f8fc" stroke="none" stroke-width="0"/><rect x="415.80" y="271.53" width="1.95" height="7.52" fill="#b0d6f6" stroke="none" stroke-width="0"/><rect x="417.70" y="271.53" width="1.95" height="7.52" fill="#f8f8fc" stroke="none" stroke-width="0"/><rect x="419.60" y="271.53" width="3.84" height="7.52" fill="#6eb0ee" stroke="none" stroke-width="0"/><rect x="423.39" y="271.53" width="1.95" height="7.52" fill="#ff9c9c" stroke="none" stroke-width="0"/><rect x="425.29" y="271.53" width="1.95" height="7.52" fill="#ffc6c6" stroke="none" stroke-width="0"/><rect x="427.18" y="271.53" width="1.95" height="7.52" fill="#ff9c9c" stroke="none" stroke-width="0"/><rect x="429.08" y="271.53" width="1.95" height="7.52" fill="#f8f8fc" stroke="none" stroke-width="0"/><rect x="430.98" y="271.53" width="1.95" height="7.52" fill="#ff3030" stroke="none" stroke-width="0"/><rect x="432.87" y="271.53" width="1.95" height="7.52" fill="#b0d6f6" stroke="none" stroke-width="0"/><rect x="434.77" y="271.53" width="1.95" height="7.52" fill="#f8f8fc" stroke="none" stroke-width="0"/><rect x="436.67" y="271.53" width="1.95" height="7.52" fill="#ffc6c6" stroke="none" stroke-width="0"/><rect x="438.56" y="271.53" width="1.95" height="7.52" fill="#b0d6f6" stroke="none" stroke-width="0"/><rect x="440.46" y="271.53" width="1.95" height="7.52" fill="#ffc6c6" stroke="none" stroke-width="0"/><rect x="442.36" y="271.53" width="1.95" height="7.52" fill="#f8f8fc" stroke="none" stroke-width="0"/><rect x="444.25" y="271.53" width="1.95" height="7.52" fill="#6eb0ee" stroke="none" stroke-width="0"/><rect x="446.15" y="271.53" width="1.95" height="7.52" fill="#f8f8fc" stroke="none" stroke-width="0"/><rect x="448.05" y="271.53" width="1.95" height="7.52" fill="#ffc6c6" stroke="none" stroke-width="0"/><rect x="449.94" y="271.53" width="1.95" height="7.52" fill="#f8f8fc" stroke="none" stroke-width="0"/><rect x="451.84" y="271.53" width="1.95" height="7.52" fill="#ff3030" stroke="none" stroke-width="0"/><rect x="453.74" y="271.53" width="1.95" height="7.52" fill="#f8f8fc" stroke="none" stroke-width="0"/><rect x="455.63" y="271.53" width="1.95" height="7.52" fill="#b0d6f6" stroke="none" stroke-width="0"/><rect x="457.53" y="271.53" width="1.95" height="7.52" fill="#6eb0ee" stroke="none" stroke-width="0"/><rect x="459.43" y="271.53" width="1.95" height="7.52" fill="#ff3030" stroke="none" stroke-width="0"/><rect x="461.32" y="271.53" width="1.95" height="7.52" fill="#b0d6f6" stroke="none" stroke-width="0"/><rect x="463.22" y="271.53" width="1.95" height="7.52" fill="#ff3030" stroke="none" stroke-width="0"/><rect x="465.12" y="271.53" width="1.95" height="7.52" fill="#b0d6f6" stroke="none" stroke-width="0"/><rect x="467.01" y="271.53" width="1.95" height="7.52" fill="#ffc6c6" stroke="none" stroke-width="0"/><rect x="468.91" y="271.53" width="1.95" height="7.52" fill="#f8f8fc" stroke="none" stroke-width="0"/><rect x="470.81" y="271.53" width="1.95" height="7.52" fill="#b0d6f6" stroke="none" stroke-width="0"/><rect x="472.70" y="271.53" width="1.95" height="7.52" fill="#6eb0ee" stroke="none" stroke-width="0"/><rect x="474.60" y="271.53" width="1.95" height="7.52" fill="#b0d6f6" stroke="none" stroke-width="0"/><rect x="476.50" y="271.53" width="1.95" height="7.52" fill="#2a8aea" stroke="none" stroke-width="0"/><rect x="478.39" y="271.53" width="1.95" height="7.52" fill="#f8f8fc" stroke="none" stroke-width="0"/><rect x="480.29" y="271.53" width="3.84" height="7.52" fill="#ff9c9c" stroke="none" stroke-width="0"/><rect x="484.08" y="271.53" width="1.95" height="7.52" fill="#ff3030" stroke="none" stroke-width="0"/><rect x="485.98" y="271.53" width="1.95" height="7.52" fill="#f8f8fc" stroke="none" stroke-width="0"/><rect x="487.88" y="271.53" width="1.95" height="7.52" fill="#b0d6f6" stroke="none" stroke-width="0"/><rect x="489.77" y="271.53" width="1.95" height="7.52" fill="#ff9c9c" stroke="none" stroke-width="0"/><rect x="491.67" y="271.53" width="1.95" height="7.52" fill="#f8f8fc" stroke="none" stroke-width="0"/><rect x="493.56" y="271.53" width="1.95" height="7.52" fill="#b0d6f6" stroke="none" stroke-width="0"/><rect x="495.46" y="271.53" width="1.95" height="7.52" fill="#6eb0ee" stroke="none" stroke-width="0"/><rect x="497.36" y="271.53" width="3.84" height="7.52" fill="#f8f8fc" stroke="none" stroke-width="0"/><rect x="501.15" y="271.53" width="1.95" height="7.52" fill="#b0d6f6" stroke="none" stroke-width="0"/><rect x="503.05" y="271.53" width="5.74" height="7.52" fill="#f8f8fc" stroke="none" stroke-width="0"/><rect x="508.74" y="271.53" width="1.95" height="7.52" fill="#2a8aea" stroke="none" stroke-width="0"/><rect x="510.63" y="271.53" width="1.95" height="7.52" fill="#ff3030" stroke="none" stroke-width="0"/><rect x="512.53" y="271.53" width="1.95" height="7.52" fill="#f8f8fc" stroke="none" stroke-width="0"/><rect x="514.43" y="271.53" width="1.95" height="7.52" fill="#b0d6f6" stroke="none" stroke-width="0"/><rect x="516.32" y="271.53" width="1.95" height="7.52" fill="#6eb0ee" stroke="none" stroke-width="0"/><rect x="518.22" y="271.53" width="5.74" height="7.52" fill="#b0d6f6" stroke="none" stroke-width="0"/><rect x="523.91" y="271.53" width="1.95" height="7.52" fill="#2a8aea" stroke="none" stroke-width="0"/><rect x="525.81" y="271.53" width="1.95" height="7.52" fill="#f8f8fc" stroke="none" stroke-width="0"/><rect x="527.70" y="271.53" width="1.95" height="7.52" fill="#ff3030" stroke="none" stroke-width="0"/><rect x="362.70" y="279.00" width="3.84" height="7.52" fill="#b0d6f6" stroke="none" stroke-width="0"/><rect x="366.49" y="279.00" width="1.95" height="7.52" fill="#2a8aea" stroke="none" stroke-width="0"/><rect x="368.39" y="279.00" width="1.95" height="7.52" fill="#f8f8fc" stroke="none" stroke-width="0"/><rect x="370.29" y="279.00" width="1.95" height="7.52" fill="#ff9c9c" stroke="none" stroke-width="0"/><rect x="372.18" y="279.00" width="1.95" height="7.52" fill="#f8f8fc" stroke="none" stroke-width="0"/><rect x="374.08" y="279.00" width="1.95" height="7.52" fill="#b0d6f6" stroke="none" stroke-width="0"/><rect x="375.98" y="279.00" width="1.95" height="7.52" fill="#ff3030" stroke="none" stroke-width="0"/><rect x="377.87" y="279.00" width="1.95" height="7.52" fill="#f8f8fc" stroke="none" stroke-width="0"/><rect x="379.77" y="279.00" width="3.84" height="7.52" fill="#ff3030" stroke="none" stroke-width="0"/><rect x="383.56" y="279.00" width="1.95" height="7.52" fill="#f8f8fc" stroke="none" stroke-width="0"/><rect x="385.46" y="279.00" width="1.95" height="7.52" fill="#ffc6c6" stroke="none" stroke-width="0"/><rect x="387.36" y="279.00" width="1.95" height="7.52" fill="#ff3030" stroke="none" stroke-width="0"/><rect x="389.25" y="279.00" width="1.95" height="7.52" fill="#f8f8fc" stroke="none" stroke-width="0"/><rect x="391.15" y="279.00" width="1.95" height="7.52" fill="#2a8aea" stroke="none" stroke-width="0"/><rect x="393.05" y="279.00" width="1.95" height="7.52" fill="#f8f8fc" stroke="none" stroke-width="0"/><rect x="394.94" y="279.00" width="1.95" height="7.52" fill="#b0d6f6" stroke="none" stroke-width="0"/><rect x="396.84" y="279.00" width="1.95" height="7.52" fill="#6eb0ee" stroke="none" stroke-width="0"/><rect x="398.74" y="279.00" width="1.95" height="7.52" fill="#f8f8fc" stroke="none" stroke-width="0"/><rect x="400.63" y="279.00" width="1.95" height="7.52" fill="#ff9c9c" stroke="none" stroke-width="0"/><rect x="402.53" y="279.00" width="1.95" height="7.52" fill="#f8f8fc" stroke="none" stroke-width="0"/><rect x="404.43" y="279.00" width="1.95" height="7.52" fill="#b0d6f6" stroke="none" stroke-width="0"/><rect x="406.32" y="279.00" width="1.95" height="7.52" fill="#2a8aea" stroke="none" stroke-width="0"/><rect x="408.22" y="279.00" width="1.95" height="7.52" fill="#f8f8fc" stroke="none" stroke-width="0"/><rect x="410.11" y="279.00" width="1.95" height="7.52" fill="#b0d6f6" stroke="none" stroke-width="0"/><rect x="412.01" y="279.00" width="1.95" height="7.52" fill="#f8f8fc" stroke="none" stroke-width="0"/><rect x="413.91" y="279.00" width="1.95" height="7.52" fill="#2a8aea" stroke="none" stroke-width="0"/><rect x="415.80" y="279.00" width="1.95" height="7.52" fill="#f8f8fc" stroke="none" stroke-width="0"/><rect x="417.70" y="279.00" width="1.95" height="7.52" fill="#b0d6f6" stroke="none" stroke-width="0"/><rect x="419.60" y="279.00" width="1.95" height="7.52" fill="#f8f8fc" stroke="none" stroke-width="0"/><rect x="421.49" y="279.00" width="1.95" height="7.52" fill="#b0d6f6" stroke="none" stroke-width="0"/><rect x="423.39" y="279.00" width="1.95" height="7.52" fill="#ffc6c6" stroke="none" stroke-width="0"/><rect x="425.29" y="279.00" width="1.95" height="7.52" fill="#ff9c9c" stroke="none" stroke-width="0"/><rect x="427.18" y="279.00" width="1.95" height="7.52" fill="#b0d6f6" stroke="none" stroke-width="0"/><rect x="429.08" y="279.00" width="1.95" height="7.52" fill="#f8f8fc" stroke="none" stroke-width="0"/><rect x="430.98" y="279.00" width="1.95" height="7.52" fill="#ff9c9c" stroke="none" stroke-width="0"/><rect x="432.87" y="279.00" width="3.84" height="7.52" fill="#f8f8fc" stroke="none" stroke-width="0"/><rect x="436.67" y="279.00" width="1.95" height="7.52" fill="#2a8aea" stroke="none" stroke-width="0"/><rect x="438.56" y="279.00" width="3.84" height="7.52" fill="#b0d6f6" stroke="none" stroke-width="0"/><rect x="442.36" y="279.00" width="1.95" height="7.52" fill="#f8f8fc" stroke="none" stroke-width="0"/><rect x="444.25" y="279.00" width="1.95" height="7.52" fill="#b0d6f6" stroke="none" stroke-width="0"/><rect x="446.15" y="279.00" width="1.95" height="7.52" fill="#f8f8fc" stroke="none" stroke-width="0"/><rect x="448.05" y="279.00" width="1.95" height="7.52" fill="#ffc6c6" stroke="none" stroke-width="0"/><rect x="449.94" y="279.00" width="1.95" height="7.52" fill="#ff9c9c" stroke="none" stroke-width="0"/><rect x="451.84" y="279.00" width="1.95" height="7.52" fill="#b0d6f6" stroke="none" stroke-width="0"/><rect x="453.74" y="279.00" width="3.84" height="7.52" fill="#f8f8fc" stroke="none" stroke-width="0"/><rect x="457.53" y="279.00" width="1.95" height="7.52" fill="#b0d6f6" stroke="none" stroke-width="0"/><rect x="459.43" y="279.00" width="1.95" height="7.52" fill="#ff3030" stroke="none" stroke-width="0"/><rect x="461.32" y="279.00" width="1.95" height="7.52" fill="#f8f8fc" stroke="none" stroke-width="0"/><rect x="463.22" y="279.00" width="1.95" height="7.52" fill="#ff9c9c" stroke="none" stroke-width="0"/><rect x="465.12" y="279.00" width="1.95" height="7.52" fill="#b0d6f6" stroke="none" stroke-width="0"/><rect x="467.01" y="279.00" width="1.95" height="7.52" fill="#ff3030" stroke="none" stroke-width="0"/><rect x="468.91" y="279.00" width="1.95" height="7.52" fill="#f8f8fc" stroke="none" stroke-width="0"/><rect x="470.81" y="279.00" width="1.95" height="7.52" fill="#b0d6f6" stroke="none" stroke-width="0"/><rect x="472.70" y="279.00" width="1.95" height="7.52" fill="#f8f8fc" stroke="none" stroke-width="0"/><rect x="474.60" y="279.00" width="1.95" height="7.52" fill="#b0d6f6" stroke="none" stroke-width="0"/><rect x="476.50" y="279.00" width="1.95" height="7.52" fill="#f8f8fc" stroke="none" stroke-width="0"/><rect x="478.39" y="279.00" width="1.95" height="7.52" fill="#ffc6c6" stroke="none" stroke-width="0"/><rect x="480.29" y="279.00" width="3.84" height="7.52" fill="#ff9c9c" stroke="none" stroke-width="0"/><rect x="484.08" y="279.00" width="1.95" height="7.52" fill="#ff3030" stroke="none" stroke-width="0"/><rect x="485.98" y="279.00" width="1.95" height="7.52" fill="#f8f8fc" stroke="none" stroke-width="0"/><rect x="487.88" y="279.00" width="1.95" height="7.52" fill="#b0d6f6" stroke="none" stroke-width="0"/><rect x="489.77" y="279.00" width="1.95" height="7.52" fill="#ff9c9c" stroke="none" stroke-width="0"/><rect x="491.67" y="279.00" width="1.95" height="7.52" fill="#ffc6c6" stroke="none" stroke-width="0"/><rect x="493.56" y="279.00" width="1.95" height="7.52" fill="#f8f8fc" stroke="none" stroke-width="0"/><rect x="495.46" y="279.00" width="1.95" height="7.52" fill="#b0d6f6" stroke="none" stroke-width="0"/><rect x="497.36" y="279.00" width="1.95" height="7.52" fill="#f8f8fc" stroke="none" stroke-width="0"/><rect x="499.25" y="279.00" width="1.95" height="7.52" fill="#ff9c9c" stroke="none" stroke-width="0"/><rect x="501.15" y="279.00" width="1.95" height="7.52" fill="#ffc6c6" stroke="none" stroke-width="0"/><rect x="503.05" y="279.00" width="1.95" height="7.52" fill="#b0d6f6" stroke="none" stroke-width="0"/><rect x="504.94" y="279.00" width="1.95" height="7.52" fill="#f8f8fc" stroke="none" stroke-width="0"/><rect x="506.84" y="279.00" width="1.95" height="7.52" fill="#ff3030" stroke="none" stroke-width="0"/><rect x="508.74" y="279.00" width="1.95" height="7.52" fill="#f8f8fc" stroke="none" stroke-width="0"/><rect x="510.63" y="279.00" width="1.95" height="7.52" fill="#ff3030" stroke="none" stroke-width="0"/><rect x="512.53" y="279.00" width="3.84" height="7.52" fill="#6eb0ee" stroke="none" stroke-width="0"/><rect x="516.32" y="279.00" width="1.95" height="7.52" fill="#f8f8fc" stroke="none" stroke-width="0"/><rect x="518.22" y="279.00" width="1.95" height="7.52" fill="#b0d6f6" stroke="none" stroke-width="0"/><rect x="520.12" y="279.00" width="1.95" height="7.52" fill="#6eb0ee" stroke="none" stroke-width="0"/><rect x="522.01" y="279.00" width="1.95" height="7.52" fill="#2a8aea" stroke="none" stroke-width="0"/><rect x="523.91" y="279.00" width="1.95" height="7.52" fill="#b0d6f6" stroke="none" stroke-width="0"/><rect x="525.81" y="279.00" width="3.84" height="7.52" fill="#f8f8fc" stroke="none" stroke-width="0"/><rect x="362.70" y="286.47" width="1.95" height="7.52" fill="#f8f8fc" stroke="none" stroke-width="0"/><rect x="364.60" y="286.47" width="1.95" height="7.52" fill="#ff9c9c" stroke="none" stroke-width="0"/><rect x="366.49" y="286.47" width="1.95" height="7.52" fill="#b0d6f6" stroke="none" stroke-width="0"/><rect x="368.39" y="286.47" width="1.95" height="7.52" fill="#f8f8fc" stroke="none" stroke-width="0"/><rect x="370.29" y="286.47" width="1.95" height="7.52" fill="#ff9c9c" stroke="none" stroke-width="0"/><rect x="372.18" y="286.47" width="1.95" height="7.52" fill="#b0d6f6" stroke="none" stroke-width="0"/><rect x="374.08" y="286.47" width="1.95" height="7.52" fill="#f8f8fc" stroke="none" stroke-width="0"/><rect x="375.98" y="286.47" width="1.95" height="7.52" fill="#ff9c9c" stroke="none" stroke-width="0"/><rect x="377.87" y="286.47" width="1.95" height="7.52" fill="#f8f8fc" stroke="none" stroke-width="0"/><rect x="379.77" y="286.47" width="1.95" height="7.52" fill="#ff9c9c" stroke="none" stroke-width="0"/><rect x="381.67" y="286.47" width="3.84" height="7.52" fill="#f8f8fc" stroke="none" stroke-width="0"/><rect x="385.46" y="286.47" width="3.84" height="7.52" fill="#ff3030" stroke="none" stroke-width="0"/><rect x="389.25" y="286.47" width="1.95" height="7.52" fill="#ffc6c6" stroke="none" stroke-width="0"/><rect x="391.15" y="286.47" width="1.95" height="7.52" fill="#b0d6f6" stroke="none" stroke-width="0"/><rect x="393.05" y="286.47" width="1.95" height="7.52" fill="#ff9c9c" stroke="none" stroke-width="0"/><rect x="394.94" y="286.47" width="1.95" height="7.52" fill="#f8f8fc" stroke="none" stroke-width="0"/><rect x="396.84" y="286.47" width="1.95" height="7.52" fill="#ff3030" stroke="none" stroke-width="0"/><rect x="398.74" y="286.47" width="1.95" height="7.52" fill="#e80808" stroke="none" stroke-width="0"/><rect x="400.63" y="286.47" width="1.95" height="7.52" fill="#f8f8fc" stroke="none" stroke-width="0"/><rect x="402.53" y="286.47" width="1.95" height="7.52" fill="#b0d6f6" stroke="none" stroke-width="0"/><rect x="404.43" y="286.47" width="1.95" height="7.52" fill="#f8f8fc" stroke="none" stroke-width="0"/><rect x="406.32" y="286.47" width="1.95" height="7.52" fill="#b0d6f6" stroke="none" stroke-width="0"/><rect x="408.22" y="286.47" width="1.95" height="7.52" fill="#ffc6c6" stroke="none" stroke-width="0"/><rect x="410.11" y="286.47" width="1.95" height="7.52" fill="#b0d6f6" stroke="none" stroke-width="0"/><rect x="412.01" y="286.47" width="3.84" height="7.52" fill="#f8f8fc" stroke="none" stroke-width="0"/><rect x="415.80" y="286.47" width="1.95" height="7.52" fill="#b0d6f6" stroke="none" stroke-width="0"/><rect x="417.70" y="286.47" width="1.95" height="7.52" fill="#ff9c9c" stroke="none" stroke-width="0"/><rect x="419.60" y="286.47" width="1.95" height="7.52" fill="#f8f8fc" stroke="none" stroke-width="0"/><rect x="421.49" y="286.47" width="3.84" height="7.52" fill="#b0d6f6" stroke="none" stroke-width="0"/><rect x="425.29" y="286.47" width="3.84" height="7.52" fill="#f8f8fc" stroke="none" stroke-width="0"/><rect x="429.08" y="286.47" width="1.95" height="7.52" fill="#ffc6c6" stroke="none" stroke-width="0"/><rect x="430.98" y="286.47" width="1.95" height="7.52" fill="#ff9c9c" stroke="none" stroke-width="0"/><rect x="432.87" y="286.47" width="1.95" height="7.52" fill="#f8f8fc" stroke="none" stroke-width="0"/><rect x="434.77" y="286.47" width="1.95" height="7.52" fill="#ff3030" stroke="none" stroke-width="0"/><rect x="436.67" y="286.47" width="1.95" height="7.52" fill="#f8f8fc" stroke="none" stroke-width="0"/><rect x="438.56" y="286.47" width="1.95" height="7.52" fill="#b0d6f6" stroke="none" stroke-width="0"/><rect x="440.46" y="286.47" width="1.95" height="7.52" fill="#f8f8fc" stroke="none" stroke-width="0"/><rect x="442.36" y="286.47" width="1.95" height="7.52" fill="#ffc6c6" stroke="none" stroke-width="0"/><rect x="444.25" y="286.47" width="1.95" height="7.52" fill="#f8f8fc" stroke="none" stroke-width="0"/><rect x="446.15" y="286.47" width="1.95" height="7.52" fill="#b0d6f6" stroke="none" stroke-width="0"/><rect x="448.05" y="286.47" width="1.95" height="7.52" fill="#ff3030" stroke="none" stroke-width="0"/><rect x="449.94" y="286.47" width="1.95" height="7.52" fill="#f8f8fc" stroke="none" stroke-width="0"/><rect x="451.84" y="286.47" width="1.95" height="7.52" fill="#ff9c9c" stroke="none" stroke-width="0"/><rect x="453.74" y="286.47" width="1.95" height="7.52" fill="#b0d6f6" stroke="none" stroke-width="0"/><rect x="455.63" y="286.47" width="1.95" height="7.52" fill="#f8f8fc" stroke="none" stroke-width="0"/><rect x="457.53" y="286.47" width="1.95" height="7.52" fill="#ff9c9c" stroke="none" stroke-width="0"/><rect x="459.43" y="286.47" width="3.84" height="7.52" fill="#f8f8fc" stroke="none" stroke-width="0"/><rect x="463.22" y="286.47" width="1.95" height="7.52" fill="#ff9c9c" stroke="none" stroke-width="0"/><rect x="465.12" y="286.47" width="1.95" height="7.52" fill="#f8f8fc" stroke="none" stroke-width="0"/><rect x="467.01" y="286.47" width="1.95" height="7.52" fill="#b0d6f6" stroke="none" stroke-width="0"/><rect x="468.91" y="286.47" width="3.84" height="7.52" fill="#f8f8fc" stroke="none" stroke-width="0"/><rect x="472.70" y="286.47" width="1.95" height="7.52" fill="#b0d6f6" stroke="none" stroke-width="0"/><rect x="474.60" y="286.47" width="1.95" height="7.52" fill="#6eb0ee" stroke="none" stroke-width="0"/><rect x="476.50" y="286.47" width="1.95" height="7.52" fill="#b0d6f6" stroke="none" stroke-width="0"/><rect x="478.39" y="286.47" width="1.95" height="7.52" fill="#ff9c9c" stroke="none" stroke-width="0"/><rect x="480.29" y="286.47" width="1.95" height="7.52" fill="#f8f8fc" stroke="none" stroke-width="0"/><rect x="482.19" y="286.47" width="1.95" height="7.52" fill="#ffc6c6" stroke="none" stroke-width="0"/><rect x="484.08" y="286.47" width="1.95" height="7.52" fill="#ff3030" stroke="none" stroke-width="0"/><rect x="485.98" y="286.47" width="1.95" height="7.52" fill="#b0d6f6" stroke="none" stroke-width="0"/><rect x="487.88" y="286.47" width="3.84" height="7.52" fill="#f8f8fc" stroke="none" stroke-width="0"/><rect x="491.67" y="286.47" width="1.95" height="7.52" fill="#b0d6f6" stroke="none" stroke-width="0"/><rect x="493.56" y="286.47" width="1.95" height="7.52" fill="#6eb0ee" stroke="none" stroke-width="0"/><rect x="495.46" y="286.47" width="1.95" height="7.52" fill="#ff3030" stroke="none" stroke-width="0"/><rect x="497.36" y="286.47" width="1.95" height="7.52" fill="#b0d6f6" stroke="none" stroke-width="0"/><rect x="499.25" y="286.47" width="1.95" height="7.52" fill="#f8f8fc" stroke="none" stroke-width="0"/><rect x="501.15" y="286.47" width="1.95" height="7.52" fill="#ffc6c6" stroke="none" stroke-width="0"/><rect x="503.05" y="286.47" width="1.95" height="7.52" fill="#f8f8fc" stroke="none" stroke-width="0"/><rect x="504.94" y="286.47" width="1.95" height="7.52" fill="#b0d6f6" stroke="none" stroke-width="0"/><rect x="506.84" y="286.47" width="1.95" height="7.52" fill="#ff9c9c" stroke="none" stroke-width="0"/><rect x="508.74" y="286.47" width="1.95" height="7.52" fill="#b0d6f6" stroke="none" stroke-width="0"/><rect x="510.63" y="286.47" width="1.95" height="7.52" fill="#ff9c9c" stroke="none" stroke-width="0"/><rect x="512.53" y="286.47" width="1.95" height="7.52" fill="#b0d6f6" stroke="none" stroke-width="0"/><rect x="514.43" y="286.47" width="1.95" height="7.52" fill="#f8f8fc" stroke="none" stroke-width="0"/><rect x="516.32" y="286.47" width="1.95" height="7.52" fill="#6eb0ee" stroke="none" stroke-width="0"/><rect x="518.22" y="286.47" width="1.95" height="7.52" fill="#b0d6f6" stroke="none" stroke-width="0"/><rect x="520.12" y="286.47" width="1.95" height="7.52" fill="#f8f8fc" stroke="none" stroke-width="0"/><rect x="522.01" y="286.47" width="1.95" height="7.52" fill="#b0d6f6" stroke="none" stroke-width="0"/><rect x="523.91" y="286.47" width="1.95" height="7.52" fill="#6eb0ee" stroke="none" stroke-width="0"/><rect x="525.81" y="286.47" width="3.84" height="7.52" fill="#f8f8fc" stroke="none" stroke-width="0"/><rect x="362.70" y="293.94" width="1.95" height="7.52" fill="#f8f8fc" stroke="none" stroke-width="0"/><rect x="364.60" y="293.94" width="1.95" height="7.52" fill="#b0d6f6" stroke="none" stroke-width="0"/><rect x="366.49" y="293.94" width="1.95" height="7.52" fill="#2a8aea" stroke="none" stroke-width="0"/><rect x="368.39" y="293.94" width="1.95" height="7.52" fill="#ff9c9c" stroke="none" stroke-width="0"/><rect x="370.29" y="293.94" width="1.95" height="7.52" fill="#ff3030" stroke="none" stroke-width="0"/><rect x="372.18" y="293.94" width="1.95" height="7.52" fill="#f8f8fc" stroke="none" stroke-width="0"/><rect x="374.08" y="293.94" width="3.84" height="7.52" fill="#ff9c9c" stroke="none" stroke-width="0"/><rect x="377.87" y="293.94" width="1.95" height="7.52" fill="#f8f8fc" stroke="none" stroke-width="0"/><rect x="379.77" y="293.94" width="1.95" height="7.52" fill="#ff9c9c" stroke="none" stroke-width="0"/><rect x="381.67" y="293.94" width="1.95" height="7.52" fill="#b0d6f6" stroke="none" stroke-width="0"/><rect x="383.56" y="293.94" width="1.95" height="7.52" fill="#f8f8fc" stroke="none" stroke-width="0"/><rect x="385.46" y="293.94" width="1.95" height="7.52" fill="#2a8aea" stroke="none" stroke-width="0"/><rect x="387.36" y="293.94" width="1.95" height="7.52" fill="#f8f8fc" stroke="none" stroke-width="0"/><rect x="389.25" y="293.94" width="1.95" height="7.52" fill="#ffc6c6" stroke="none" stroke-width="0"/><rect x="391.15" y="293.94" width="1.95" height="7.52" fill="#f8f8fc" stroke="none" stroke-width="0"/><rect x="393.05" y="293.94" width="1.95" height="7.52" fill="#b0d6f6" stroke="none" stroke-width="0"/><rect x="394.94" y="293.94" width="1.95" height="7.52" fill="#f8f8fc" stroke="none" stroke-width="0"/><rect x="396.84" y="293.94" width="1.95" height="7.52" fill="#ffc6c6" stroke="none" stroke-width="0"/><rect x="398.74" y="293.94" width="1.95" height="7.52" fill="#ff9c9c" stroke="none" stroke-width="0"/><rect x="400.63" y="293.94" width="1.95" height="7.52" fill="#f8f8fc" stroke="none" stroke-width="0"/><rect x="402.53" y="293.94" width="1.95" height="7.52" fill="#b0d6f6" stroke="none" stroke-width="0"/><rect x="404.43" y="293.94" width="1.95" height="7.52" fill="#f8f8fc" stroke="none" stroke-width="0"/><rect x="406.32" y="293.94" width="1.95" height="7.52" fill="#6eb0ee" stroke="none" stroke-width="0"/><rect x="408.22" y="293.94" width="1.95" height="7.52" fill="#f8f8fc" stroke="none" stroke-width="0"/><rect x="410.11" y="293.94" width="1.95" height="7.52" fill="#b0d6f6" stroke="none" stroke-width="0"/><rect x="412.01" y="293.94" width="3.84" height="7.52" fill="#f8f8fc" stroke="none" stroke-width="0"/><rect x="415.80" y="293.94" width="1.95" height="7.52" fill="#ff9c9c" stroke="none" stroke-width="0"/><rect x="417.70" y="293.94" width="1.95" height="7.52" fill="#b0d6f6" stroke="none" stroke-width="0"/><rect x="419.60" y="293.94" width="1.95" height="7.52" fill="#f8f8fc" stroke="none" stroke-width="0"/><rect x="421.49" y="293.94" width="1.95" height="7.52" fill="#ff3030" stroke="none" stroke-width="0"/><rect x="423.39" y="293.94" width="1.95" height="7.52" fill="#b0d6f6" stroke="none" stroke-width="0"/><rect x="425.29" y="293.94" width="1.95" height="7.52" fill="#f8f8fc" stroke="none" stroke-width="0"/><rect x="427.18" y="293.94" width="1.95" height="7.52" fill="#ff9c9c" stroke="none" stroke-width="0"/><rect x="429.08" y="293.94" width="1.95" height="7.52" fill="#f8f8fc" stroke="none" stroke-width="0"/><rect x="430.98" y="293.94" width="1.95" height="7.52" fill="#ff9c9c" stroke="none" stroke-width="0"/><rect x="432.87" y="293.94" width="1.95" height="7.52" fill="#f8f8fc" stroke="none" stroke-width="0"/><rect x="434.77" y="293.94" width="1.95" height="7.52" fill="#ff3030" stroke="none" stroke-width="0"/><rect x="436.67" y="293.94" width="1.95" height="7.52" fill="#f8f8fc" stroke="none" stroke-width="0"/><rect x="438.56" y="293.94" width="1.95" height="7.52" fill="#b0d6f6" stroke="none" stroke-width="0"/><rect x="440.46" y="293.94" width="1.95" height="7.52" fill="#f8f8fc" stroke="none" stroke-width="0"/><rect x="442.36" y="293.94" width="1.95" height="7.52" fill="#b0d6f6" stroke="none" stroke-width="0"/><rect x="444.25" y="293.94" width="1.95" height="7.52" fill="#2a8aea" stroke="none" stroke-width="0"/><rect x="446.15" y="293.94" width="1.95" height="7.52" fill="#f8f8fc" stroke="none" stroke-width="0"/><rect x="448.05" y="293.94" width="1.95" height="7.52" fill="#ffc6c6" stroke="none" stroke-width="0"/><rect x="449.94" y="293.94" width="1.95" height="7.52" fill="#ff9c9c" stroke="none" stroke-width="0"/><rect x="451.84" y="293.94" width="1.95" height="7.52" fill="#f8f8fc" stroke="none" stroke-width="0"/><rect x="453.74" y="293.94" width="3.84" height="7.52" fill="#2a8aea" stroke="none" stroke-width="0"/><rect x="457.53" y="293.94" width="1.95" height="7.52" fill="#b0d6f6" stroke="none" stroke-width="0"/><rect x="459.43" y="293.94" width="1.95" height="7.52" fill="#ff9c9c" stroke="none" stroke-width="0"/><rect x="461.32" y="293.94" width="1.95" height="7.52" fill="#f8f8fc" stroke="none" stroke-width="0"/><rect x="463.22" y="293.94" width="1.95" height="7.52" fill="#b0d6f6" stroke="none" stroke-width="0"/><rect x="465.12" y="293.94" width="1.95" height="7.52" fill="#2a8aea" stroke="none" stroke-width="0"/><rect x="467.01" y="293.94" width="1.95" height="7.52" fill="#ff9c9c" stroke="none" stroke-width="0"/><rect x="468.91" y="293.94" width="1.95" height="7.52" fill="#f8f8fc" stroke="none" stroke-width="0"/><rect x="470.81" y="293.94" width="1.95" height="7.52" fill="#ffc6c6" stroke="none" stroke-width="0"/><rect x="472.70" y="293.94" width="1.95" height="7.52" fill="#b0d6f6" stroke="none" stroke-width="0"/><rect x="474.60" y="293.94" width="3.84" height="7.52" fill="#f8f8fc" stroke="none" stroke-width="0"/><rect x="478.39" y="293.94" width="1.95" height="7.52" fill="#ffc6c6" stroke="none" stroke-width="0"/><rect x="480.29" y="293.94" width="3.84" height="7.52" fill="#ff3030" stroke="none" stroke-width="0"/><rect x="484.08" y="293.94" width="1.95" height="7.52" fill="#ff9c9c" stroke="none" stroke-width="0"/><rect x="485.98" y="293.94" width="1.95" height="7.52" fill="#6eb0ee" stroke="none" stroke-width="0"/><rect x="487.88" y="293.94" width="1.95" height="7.52" fill="#f8f8fc" stroke="none" stroke-width="0"/><rect x="489.77" y="293.94" width="1.95" height="7.52" fill="#ff9c9c" stroke="none" stroke-width="0"/><rect x="491.67" y="293.94" width="1.95" height="7.52" fill="#f8f8fc" stroke="none" stroke-width="0"/><rect x="493.56" y="293.94" width="1.95" height="7.52" fill="#b0d6f6" stroke="none" stroke-width="0"/><rect x="495.46" y="293.94" width="1.95" height="7.52" fill="#f8f8fc" stroke="none" stroke-width="0"/><rect x="497.36" y="293.94" width="1.95" height="7.52" fill="#ff9c9c" stroke="none" stroke-width="0"/><rect x="499.25" y="293.94" width="1.95" height="7.52" fill="#ff3030" stroke="none" stroke-width="0"/><rect x="501.15" y="293.94" width="3.84" height="7.52" fill="#f8f8fc" stroke="none" stroke-width="0"/><rect x="504.94" y="293.94" width="1.95" height="7.52" fill="#b0d6f6" stroke="none" stroke-width="0"/><rect x="506.84" y="293.94" width="1.95" height="7.52" fill="#ff3030" stroke="none" stroke-width="0"/><rect x="508.74" y="293.94" width="1.95" height="7.52" fill="#f8f8fc" stroke="none" stroke-width="0"/><rect x="510.63" y="293.94" width="1.95" height="7.52" fill="#ffc6c6" stroke="none" stroke-width="0"/><rect x="512.53" y="293.94" width="3.84" height="7.52" fill="#f8f8fc" stroke="none" stroke-width="0"/><rect x="516.32" y="293.94" width="1.95" height="7.52" fill="#b0d6f6" stroke="none" stroke-width="0"/><rect x="518.22" y="293.94" width="7.64" height="7.52" fill="#f8f8fc" stroke="none" stroke-width="0"/><rect x="525.81" y="293.94" width="1.95" height="7.52" fill="#ffc6c6" stroke="none" stroke-width="0"/><rect x="527.70" y="293.94" width="1.95" height="7.52" fill="#f8f8fc" stroke="none" stroke-width="0"/><rect x="362.70" y="301.40" width="3.84" height="7.52" fill="#b0d6f6" stroke="none" stroke-width="0"/><rect x="366.49" y="301.40" width="1.95" height="7.52" fill="#f8f8fc" stroke="none" stroke-width="0"/><rect x="368.39" y="301.40" width="1.95" height="7.52" fill="#ff9c9c" stroke="none" stroke-width="0"/><rect x="370.29" y="301.40" width="1.95" height="7.52" fill="#ffc6c6" stroke="none" stroke-width="0"/><rect x="372.18" y="301.40" width="1.95" height="7.52" fill="#f8f8fc" stroke="none" stroke-width="0"/><rect x="374.08" y="301.40" width="1.95" height="7.52" fill="#b0d6f6" stroke="none" stroke-width="0"/><rect x="375.98" y="301.40" width="1.95" height="7.52" fill="#ff9c9c" stroke="none" stroke-width="0"/><rect x="377.87" y="301.40" width="3.84" height="7.52" fill="#f8f8fc" stroke="none" stroke-width="0"/><rect x="381.67" y="301.40" width="1.95" height="7.52" fill="#2a8aea" stroke="none" stroke-width="0"/><rect x="383.56" y="301.40" width="3.84" height="7.52" fill="#f8f8fc" stroke="none" stroke-width="0"/><rect x="387.36" y="301.40" width="1.95" height="7.52" fill="#ff3030" stroke="none" stroke-width="0"/><rect x="389.25" y="301.40" width="1.95" height="7.52" fill="#f8f8fc" stroke="none" stroke-width="0"/><rect x="391.15" y="301.40" width="1.95" height="7.52" fill="#b0d6f6" stroke="none" stroke-width="0"/><rect x="393.05" y="301.40" width="1.95" height="7.52" fill="#ff3030" stroke="none" stroke-width="0"/><rect x="394.94" y="301.40" width="1.95" height="7.52" fill="#f8f8fc" stroke="none" stroke-width="0"/><rect x="396.84" y="301.40" width="1.95" height="7.52" fill="#ffc6c6" stroke="none" stroke-width="0"/><rect x="398.74" y="301.40" width="3.84" height="7.52" fill="#ff9c9c" stroke="none" stroke-width="0"/><rect x="402.53" y="301.40" width="1.95" height="7.52" fill="#f8f8fc" stroke="none" stroke-width="0"/><rect x="404.43" y="301.40" width="1.95" height="7.52" fill="#b0d6f6" stroke="none" stroke-width="0"/><rect x="406.32" y="301.40" width="1.95" height="7.52" fill="#2a8aea" stroke="none" stroke-width="0"/><rect x="408.22" y="301.40" width="1.95" height="7.52" fill="#ff3030" stroke="none" stroke-width="0"/><rect x="410.11" y="301.40" width="3.84" height="7.52" fill="#f8f8fc" stroke="none" stroke-width="0"/><rect x="413.91" y="301.40" width="1.95" height="7.52" fill="#2a8aea" stroke="none" stroke-width="0"/><rect x="415.80" y="301.40" width="1.95" height="7.52" fill="#f8f8fc" stroke="none" stroke-width="0"/><rect x="417.70" y="301.40" width="3.84" height="7.52" fill="#b0d6f6" stroke="none" stroke-width="0"/><rect x="421.49" y="301.40" width="1.95" height="7.52" fill="#ff9c9c" stroke="none" stroke-width="0"/><rect x="423.39" y="301.40" width="3.84" height="7.52" fill="#f8f8fc" stroke="none" stroke-width="0"/><rect x="427.18" y="301.40" width="1.95" height="7.52" fill="#b0d6f6" stroke="none" stroke-width="0"/><rect x="429.08" y="301.40" width="1.95" height="7.52" fill="#ff9c9c" stroke="none" stroke-width="0"/><rect x="430.98" y="301.40" width="1.95" height="7.52" fill="#ff3030" stroke="none" stroke-width="0"/><rect x="432.87" y="301.40" width="1.95" height="7.52" fill="#f8f8fc" stroke="none" stroke-width="0"/><rect x="434.77" y="301.40" width="1.95" height="7.52" fill="#ff3030" stroke="none" stroke-width="0"/><rect x="436.67" y="301.40" width="1.95" height="7.52" fill="#f8f8fc" stroke="none" stroke-width="0"/><rect x="438.56" y="301.40" width="1.95" height="7.52" fill="#b0d6f6" stroke="none" stroke-width="0"/><rect x="440.46" y="301.40" width="1.95" height="7.52" fill="#f8f8fc" stroke="none" stroke-width="0"/><rect x="442.36" y="301.40" width="1.95" height="7.52" fill="#ffc6c6" stroke="none" stroke-width="0"/><rect x="444.25" y="301.40" width="1.95" height="7.52" fill="#f8f8fc" stroke="none" stroke-width="0"/><rect x="446.15" y="301.40" width="1.95" height="7.52" fill="#b0d6f6" stroke="none" stroke-width="0"/><rect x="448.05" y="301.40" width="1.95" height="7.52" fill="#ff9c9c" stroke="none" stroke-width="0"/><rect x="449.94" y="301.40" width="1.95" height="7.52" fill="#f8f8fc" stroke="none" stroke-width="0"/><rect x="451.84" y="301.40" width="1.95" height="7.52" fill="#b0d6f6" stroke="none" stroke-width="0"/><rect x="453.74" y="301.40" width="1.95" height="7.52" fill="#2a8aea" stroke="none" stroke-width="0"/><rect x="455.63" y="301.40" width="1.95" height="7.52" fill="#6eb0ee" stroke="none" stroke-width="0"/><rect x="457.53" y="301.40" width="1.95" height="7.52" fill="#f8f8fc" stroke="none" stroke-width="0"/><rect x="459.43" y="301.40" width="1.95" height="7.52" fill="#ff3030" stroke="none" stroke-width="0"/><rect x="461.32" y="301.40" width="1.95" height="7.52" fill="#f8f8fc" stroke="none" stroke-width="0"/><rect x="463.22" y="301.40" width="1.95" height="7.52" fill="#b0d6f6" stroke="none" stroke-width="0"/><rect x="465.12" y="301.40" width="1.95" height="7.52" fill="#ff9c9c" stroke="none" stroke-width="0"/><rect x="467.01" y="301.40" width="1.95" height="7.52" fill="#ff3030" stroke="none" stroke-width="0"/><rect x="468.91" y="301.40" width="1.95" height="7.52" fill="#f8f8fc" stroke="none" stroke-width="0"/><rect x="470.81" y="301.40" width="1.95" height="7.52" fill="#b0d6f6" stroke="none" stroke-width="0"/><rect x="472.70" y="301.40" width="1.95" height="7.52" fill="#f8f8fc" stroke="none" stroke-width="0"/><rect x="474.60" y="301.40" width="3.84" height="7.52" fill="#b0d6f6" stroke="none" stroke-width="0"/><rect x="478.39" y="301.40" width="1.95" height="7.52" fill="#6eb0ee" stroke="none" stroke-width="0"/><rect x="480.29" y="301.40" width="1.95" height="7.52" fill="#ff9c9c" stroke="none" stroke-width="0"/><rect x="482.19" y="301.40" width="1.95" height="7.52" fill="#ffc6c6" stroke="none" stroke-width="0"/><rect x="484.08" y="301.40" width="1.95" height="7.52" fill="#f8f8fc" stroke="none" stroke-width="0"/><rect x="485.98" y="301.40" width="3.84" height="7.52" fill="#b0d6f6" stroke="none" stroke-width="0"/><rect x="489.77" y="301.40" width="1.95" height="7.52" fill="#f8f8fc" stroke="none" stroke-width="0"/><rect x="491.67" y="301.40" width="1.95" height="7.52" fill="#ff9c9c" stroke="none" stroke-width="0"/><rect x="493.56" y="301.40" width="1.95" height="7.52" fill="#b0d6f6" stroke="none" stroke-width="0"/><rect x="495.46" y="301.40" width="1.95" height="7.52" fill="#ff3030" stroke="none" stroke-width="0"/><rect x="497.36" y="301.40" width="1.95" height="7.52" fill="#6eb0ee" stroke="none" stroke-width="0"/><rect x="499.25" y="301.40" width="1.95" height="7.52" fill="#f8f8fc" stroke="none" stroke-width="0"/><rect x="501.15" y="301.40" width="1.95" height="7.52" fill="#ffc6c6" stroke="none" stroke-width="0"/><rect x="503.05" y="301.40" width="1.95" height="7.52" fill="#f8f8fc" stroke="none" stroke-width="0"/><rect x="504.94" y="301.40" width="1.95" height="7.52" fill="#b0d6f6" stroke="none" stroke-width="0"/><rect x="506.84" y="301.40" width="1.95" height="7.52" fill="#ff9c9c" stroke="none" stroke-width="0"/><rect x="508.74" y="301.40" width="1.95" height="7.52" fill="#6eb0ee" stroke="none" stroke-width="0"/><rect x="510.63" y="301.40" width="1.95" height="7.52" fill="#ff3030" stroke="none" stroke-width="0"/><rect x="512.53" y="301.40" width="1.95" height="7.52" fill="#ffc6c6" stroke="none" stroke-width="0"/><rect x="514.43" y="301.40" width="1.95" height="7.52" fill="#f8f8fc" stroke="none" stroke-width="0"/><rect x="516.32" y="301.40" width="1.95" height="7.52" fill="#6eb0ee" stroke="none" stroke-width="0"/><rect x="518.22" y="301.40" width="1.95" height="7.52" fill="#b0d6f6" stroke="none" stroke-width="0"/><rect x="520.12" y="301.40" width="1.95" height="7.52" fill="#f8f8fc" stroke="none" stroke-width="0"/><rect x="522.01" y="301.40" width="1.95" height="7.52" fill="#b0d6f6" stroke="none" stroke-width="0"/><rect x="523.91" y="301.40" width="1.95" height="7.52" fill="#6eb0ee" stroke="none" stroke-width="0"/><rect x="525.81" y="301.40" width="3.84" height="7.52" fill="#f8f8fc" stroke="none" stroke-width="0"/><rect x="362.70" y="308.87" width="3.84" height="7.52" fill="#b0d6f6" stroke="none" stroke-width="0"/><rect x="366.49" y="308.87" width="1.95" height="7.52" fill="#f8f8fc" stroke="none" stroke-width="0"/><rect x="368.39" y="308.87" width="3.84" height="7.52" fill="#ff3030" stroke="none" stroke-width="0"/><rect x="372.18" y="308.87" width="1.95" height="7.52" fill="#f8f8fc" stroke="none" stroke-width="0"/><rect x="374.08" y="308.87" width="1.95" height="7.52" fill="#b0d6f6" stroke="none" stroke-width="0"/><rect x="375.98" y="308.87" width="1.95" height="7.52" fill="#ff3030" stroke="none" stroke-width="0"/><rect x="377.87" y="308.87" width="1.95" height="7.52" fill="#ff9c9c" stroke="none" stroke-width="0"/><rect x="379.77" y="308.87" width="1.95" height="7.52" fill="#f8f8fc" stroke="none" stroke-width="0"/><rect x="381.67" y="308.87" width="1.95" height="7.52" fill="#b0d6f6" stroke="none" stroke-width="0"/><rect x="383.56" y="308.87" width="1.95" height="7.52" fill="#2a8aea" stroke="none" stroke-width="0"/><rect x="385.46" y="308.87" width="3.84" height="7.52" fill="#ff9c9c" stroke="none" stroke-width="0"/><rect x="389.25" y="308.87" width="1.95" height="7.52" fill="#b0d6f6" stroke="none" stroke-width="0"/><rect x="391.15" y="308.87" width="1.95" height="7.52" fill="#6eb0ee" stroke="none" stroke-width="0"/><rect x="393.05" y="308.87" width="1.95" height="7.52" fill="#f8f8fc" stroke="none" stroke-width="0"/><rect x="394.94" y="308.87" width="3.84" height="7.52" fill="#ff9c9c" stroke="none" stroke-width="0"/><rect x="398.74" y="308.87" width="1.95" height="7.52" fill="#f8f8fc" stroke="none" stroke-width="0"/><rect x="400.63" y="308.87" width="1.95" height="7.52" fill="#b0d6f6" stroke="none" stroke-width="0"/><rect x="402.53" y="308.87" width="1.95" height="7.52" fill="#6eb0ee" stroke="none" stroke-width="0"/><rect x="404.43" y="308.87" width="1.95" height="7.52" fill="#f8f8fc" stroke="none" stroke-width="0"/><rect x="406.32" y="308.87" width="1.95" height="7.52" fill="#2a8aea" stroke="none" stroke-width="0"/><rect x="408.22" y="308.87" width="1.95" height="7.52" fill="#b0d6f6" stroke="none" stroke-width="0"/><rect x="410.11" y="308.87" width="1.95" height="7.52" fill="#f8f8fc" stroke="none" stroke-width="0"/><rect x="412.01" y="308.87" width="1.95" height="7.52" fill="#b0d6f6" stroke="none" stroke-width="0"/><rect x="413.91" y="308.87" width="1.95" height="7.52" fill="#f8f8fc" stroke="none" stroke-width="0"/><rect x="415.80" y="308.87" width="1.95" height="7.52" fill="#ff9c9c" stroke="none" stroke-width="0"/><rect x="417.70" y="308.87" width="3.84" height="7.52" fill="#f8f8fc" stroke="none" stroke-width="0"/><rect x="421.49" y="308.87" width="1.95" height="7.52" fill="#ff9c9c" stroke="none" stroke-width="0"/><rect x="423.39" y="308.87" width="1.95" height="7.52" fill="#b0d6f6" stroke="none" stroke-width="0"/><rect x="425.29" y="308.87" width="1.95" height="7.52" fill="#f8f8fc" stroke="none" stroke-width="0"/><rect x="427.18" y="308.87" width="1.95" height="7.52" fill="#ffc6c6" stroke="none" stroke-width="0"/><rect x="429.08" y="308.87" width="1.95" height="7.52" fill="#f8f8fc" stroke="none" stroke-width="0"/><rect x="430.98" y="308.87" width="1.95" height="7.52" fill="#ffc6c6" stroke="none" stroke-width="0"/><rect x="432.87" y="308.87" width="1.95" height="7.52" fill="#f8f8fc" stroke="none" stroke-width="0"/><rect x="434.77" y="308.87" width="1.95" height="7.52" fill="#ff3030" stroke="none" stroke-width="0"/><rect x="436.67" y="308.87" width="1.95" height="7.52" fill="#b0d6f6" stroke="none" stroke-width="0"/><rect x="438.56" y="308.87" width="1.95" height="7.52" fill="#f8f8fc" stroke="none" stroke-width="0"/><rect x="440.46" y="308.87" width="1.95" height="7.52" fill="#b0d6f6" stroke="none" stroke-width="0"/><rect x="442.36" y="308.87" width="3.84" height="7.52" fill="#6eb0ee" stroke="none" stroke-width="0"/><rect x="446.15" y="308.87" width="1.95" height="7.52" fill="#b0d6f6" stroke="none" stroke-width="0"/><rect x="448.05" y="308.87" width="1.95" height="7.52" fill="#f8f8fc" stroke="none" stroke-width="0"/><rect x="449.94" y="308.87" width="1.95" height="7.52" fill="#ff9c9c" stroke="none" stroke-width="0"/><rect x="451.84" y="308.87" width="1.95" height="7.52" fill="#b0d6f6" stroke="none" stroke-width="0"/><rect x="453.74" y="308.87" width="1.95" height="7.52" fill="#6eb0ee" stroke="none" stroke-width="0"/><rect x="455.63" y="308.87" width="1.95" height="7.52" fill="#f8f8fc" stroke="none" stroke-width="0"/><rect x="457.53" y="308.87" width="1.95" height="7.52" fill="#b0d6f6" stroke="none" stroke-width="0"/><rect x="459.43" y="308.87" width="1.95" height="7.52" fill="#f8f8fc" stroke="none" stroke-width="0"/><rect x="461.32" y="308.87" width="1.95" height="7.52" fill="#ff3030" stroke="none" stroke-width="0"/><rect x="463.22" y="308.87" width="1.95" height="7.52" fill="#f8f8fc" stroke="none" stroke-width="0"/><rect x="465.12" y="308.87" width="1.95" height="7.52" fill="#ff9c9c" stroke="none" stroke-width="0"/><rect x="467.01" y="308.87" width="1.95" height="7.52" fill="#2a8aea" stroke="none" stroke-width="0"/><rect x="468.91" y="308.87" width="1.95" height="7.52" fill="#f8f8fc" stroke="none" stroke-width="0"/><rect x="470.81" y="308.87" width="1.95" height="7.52" fill="#ff9c9c" stroke="none" stroke-width="0"/><rect x="472.70" y="308.87" width="1.95" height="7.52" fill="#b0d6f6" stroke="none" stroke-width="0"/><rect x="474.60" y="308.87" width="1.95" height="7.52" fill="#f8f8fc" stroke="none" stroke-width="0"/><rect x="476.50" y="308.87" width="1.95" height="7.52" fill="#ff9c9c" stroke="none" stroke-width="0"/><rect x="478.39" y="308.87" width="1.95" height="7.52" fill="#f8f8fc" stroke="none" stroke-width="0"/><rect x="480.29" y="308.87" width="5.74" height="7.52" fill="#ff9c9c" stroke="none" stroke-width="0"/><rect x="485.98" y="308.87" width="1.95" height="7.52" fill="#f8f8fc" stroke="none" stroke-width="0"/><rect x="487.88" y="308.87" width="1.95" height="7.52" fill="#b0d6f6" stroke="none" stroke-width="0"/><rect x="489.77" y="308.87" width="1.95" height="7.52" fill="#ff9c9c" stroke="none" stroke-width="0"/><rect x="491.67" y="308.87" width="1.95" height="7.52" fill="#f8f8fc" stroke="none" stroke-width="0"/><rect x="493.56" y="308.87" width="1.95" height="7.52" fill="#2a8aea" stroke="none" stroke-width="0"/><rect x="495.46" y="308.87" width="1.95" height="7.52" fill="#ff9c9c" stroke="none" stroke-width="0"/><rect x="497.36" y="308.87" width="1.95" height="7.52" fill="#f8f8fc" stroke="none" stroke-width="0"/><rect x="499.25" y="308.87" width="1.95" height="7.52" fill="#ff3030" stroke="none" stroke-width="0"/><rect x="501.15" y="308.87" width="1.95" height="7.52" fill="#f8f8fc" stroke="none" stroke-width="0"/><rect x="503.05" y="308.87" width="1.95" height="7.52" fill="#b0d6f6" stroke="none" stroke-width="0"/><rect x="504.94" y="308.87" width="1.95" height="7.52" fill="#ff9c9c" stroke="none" stroke-width="0"/><rect x="506.84" y="308.87" width="1.95" height="7.52" fill="#ff3030" stroke="none" stroke-width="0"/><rect x="508.74" y="308.87" width="1.95" height="7.52" fill="#b0d6f6" stroke="none" stroke-width="0"/><rect x="510.63" y="308.87" width="1.95" height="7.52" fill="#ff9c9c" stroke="none" stroke-width="0"/><rect x="512.53" y="308.87" width="3.84" height="7.52" fill="#f8f8fc" stroke="none" stroke-width="0"/><rect x="516.32" y="308.87" width="1.95" height="7.52" fill="#b0d6f6" stroke="none" stroke-width="0"/><rect x="518.22" y="308.87" width="1.95" height="7.52" fill="#f8f8fc" stroke="none" stroke-width="0"/><rect x="520.12" y="308.87" width="1.95" height="7.52" fill="#b0d6f6" stroke="none" stroke-width="0"/><rect x="522.01" y="308.87" width="1.95" height="7.52" fill="#6eb0ee" stroke="none" stroke-width="0"/><rect x="523.91" y="308.87" width="1.95" height="7.52" fill="#f8f8fc" stroke="none" stroke-width="0"/><rect x="525.81" y="308.87" width="1.95" height="7.52" fill="#ffc6c6" stroke="none" stroke-width="0"/><rect x="527.70" y="308.87" width="1.95" height="7.52" fill="#f8f8fc" stroke="none" stroke-width="0"/><rect x="362.70" y="316.34" width="1.95" height="7.52" fill="#b0d6f6" stroke="none" stroke-width="0"/><rect x="364.60" y="316.34" width="1.95" height="7.52" fill="#2a8aea" stroke="none" stroke-width="0"/><rect x="366.49" y="316.34" width="1.95" height="7.52" fill="#f8f8fc" stroke="none" stroke-width="0"/><rect x="368.39" y="316.34" width="3.84" height="7.52" fill="#ff3030" stroke="none" stroke-width="0"/><rect x="372.18" y="316.34" width="3.84" height="7.52" fill="#f8f8fc" stroke="none" stroke-width="0"/><rect x="375.98" y="316.34" width="1.95" height="7.52" fill="#ff3030" stroke="none" stroke-width="0"/><rect x="377.87" y="316.34" width="1.95" height="7.52" fill="#f8f8fc" stroke="none" stroke-width="0"/><rect x="379.77" y="316.34" width="3.84" height="7.52" fill="#b0d6f6" stroke="none" stroke-width="0"/><rect x="383.56" y="316.34" width="1.95" height="7.52" fill="#2a8aea" stroke="none" stroke-width="0"/><rect x="385.46" y="316.34" width="1.95" height="7.52" fill="#f8f8fc" stroke="none" stroke-width="0"/><rect x="387.36" y="316.34" width="1.95" height="7.52" fill="#ff9c9c" stroke="none" stroke-width="0"/><rect x="389.25" y="316.34" width="1.95" height="7.52" fill="#b0d6f6" stroke="none" stroke-width="0"/><rect x="391.15" y="316.34" width="1.95" height="7.52" fill="#f8f8fc" stroke="none" stroke-width="0"/><rect x="393.05" y="316.34" width="1.95" height="7.52" fill="#b0d6f6" stroke="none" stroke-width="0"/><rect x="394.94" y="316.34" width="1.95" height="7.52" fill="#ff9c9c" stroke="none" stroke-width="0"/><rect x="396.84" y="316.34" width="1.95" height="7.52" fill="#f8f8fc" stroke="none" stroke-width="0"/><rect x="398.74" y="316.34" width="1.95" height="7.52" fill="#ffc6c6" stroke="none" stroke-width="0"/><rect x="400.63" y="316.34" width="1.95" height="7.52" fill="#b0d6f6" stroke="none" stroke-width="0"/><rect x="402.53" y="316.34" width="3.84" height="7.52" fill="#f8f8fc" stroke="none" stroke-width="0"/><rect x="406.32" y="316.34" width="1.95" height="7.52" fill="#2a8aea" stroke="none" stroke-width="0"/><rect x="408.22" y="316.34" width="1.95" height="7.52" fill="#b0d6f6" stroke="none" stroke-width="0"/><rect x="410.11" y="316.34" width="3.84" height="7.52" fill="#f8f8fc" stroke="none" stroke-width="0"/><rect x="413.91" y="316.34" width="1.95" height="7.52" fill="#2a8aea" stroke="none" stroke-width="0"/><rect x="415.80" y="316.34" width="5.74" height="7.52" fill="#f8f8fc" stroke="none" stroke-width="0"/><rect x="421.49" y="316.34" width="1.95" height="7.52" fill="#ff3030" stroke="none" stroke-width="0"/><rect x="423.39" y="316.34" width="1.95" height="7.52" fill="#f8f8fc" stroke="none" stroke-width="0"/><rect x="425.29" y="316.34" width="1.95" height="7.52" fill="#b0d6f6" stroke="none" stroke-width="0"/><rect x="427.18" y="316.34" width="1.95" height="7.52" fill="#f8f8fc" stroke="none" stroke-width="0"/><rect x="429.08" y="316.34" width="1.95" height="7.52" fill="#ff9c9c" stroke="none" stroke-width="0"/><rect x="430.98" y="316.34" width="1.95" height="7.52" fill="#f8f8fc" stroke="none" stroke-width="0"/><rect x="432.87" y="316.34" width="3.84" height="7.52" fill="#ff9c9c" stroke="none" stroke-width="0"/><rect x="436.67" y="316.34" width="1.95" height="7.52" fill="#f8f8fc" stroke="none" stroke-width="0"/><rect x="438.56" y="316.34" width="1.95" height="7.52" fill="#b0d6f6" stroke="none" stroke-width="0"/><rect x="440.46" y="316.34" width="5.74" height="7.52" fill="#f8f8fc" stroke="none" stroke-width="0"/><rect x="446.15" y="316.34" width="1.95" height="7.52" fill="#b0d6f6" stroke="none" stroke-width="0"/><rect x="448.05" y="316.34" width="1.95" height="7.52" fill="#f8f8fc" stroke="none" stroke-width="0"/><rect x="449.94" y="316.34" width="1.95" height="7.52" fill="#ff3030" stroke="none" stroke-width="0"/><rect x="451.84" y="316.34" width="1.95" height="7.52" fill="#b0d6f6" stroke="none" stroke-width="0"/><rect x="453.74" y="316.34" width="1.95" height="7.52" fill="#6eb0ee" stroke="none" stroke-width="0"/><rect x="455.63" y="316.34" width="5.74" height="7.52" fill="#f8f8fc" stroke="none" stroke-width="0"/><rect x="461.32" y="316.34" width="1.95" height="7.52" fill="#ff3030" stroke="none" stroke-width="0"/><rect x="463.22" y="316.34" width="1.95" height="7.52" fill="#f8f8fc" stroke="none" stroke-width="0"/><rect x="465.12" y="316.34" width="1.95" height="7.52" fill="#ff9c9c" stroke="none" stroke-width="0"/><rect x="467.01" y="316.34" width="1.95" height="7.52" fill="#2a8aea" stroke="none" stroke-width="0"/><rect x="468.91" y="316.34" width="1.95" height="7.52" fill="#f8f8fc" stroke="none" stroke-width="0"/><rect x="470.81" y="316.34" width="1.95" height="7.52" fill="#ff9c9c" stroke="none" stroke-width="0"/><rect x="472.70" y="316.34" width="3.84" height="7.52" fill="#b0d6f6" stroke="none" stroke-width="0"/><rect x="476.50" y="316.34" width="1.95" height="7.52" fill="#ff9c9c" stroke="none" stroke-width="0"/><rect x="478.39" y="316.34" width="1.95" height="7.52" fill="#f8f8fc" stroke="none" stroke-width="0"/><rect x="480.29" y="316.34" width="5.74" height="7.52" fill="#ff9c9c" stroke="none" stroke-width="0"/><rect x="485.98" y="316.34" width="1.95" height="7.52" fill="#f8f8fc" stroke="none" stroke-width="0"/><rect x="487.88" y="316.34" width="1.95" height="7.52" fill="#b0d6f6" stroke="none" stroke-width="0"/><rect x="489.77" y="316.34" width="1.95" height="7.52" fill="#f8f8fc" stroke="none" stroke-width="0"/><rect x="491.67" y="316.34" width="1.95" height="7.52" fill="#ff9c9c" stroke="none" stroke-width="0"/><rect x="493.56" y="316.34" width="1.95" height="7.52" fill="#f8f8fc" stroke="none" stroke-width="0"/><rect x="495.46" y="316.34" width="1.95" height="7.52" fill="#b0d6f6" stroke="none" stroke-width="0"/><rect x="497.36" y="316.34" width="1.95" height="7.52" fill="#f8f8fc" stroke="none" stroke-width="0"/><rect x="499.25" y="316.34" width="1.95" height="7.52" fill="#ff3030" stroke="none" stroke-width="0"/><rect x="501.15" y="316.34" width="1.95" height="7.52" fill="#f8f8fc" stroke="none" stroke-width="0"/><rect x="503.05" y="316.34" width="1.95" height="7.52" fill="#b0d6f6" stroke="none" stroke-width="0"/><rect x="504.94" y="316.34" width="1.95" height="7.52" fill="#f8f8fc" stroke="none" stroke-width="0"/><rect x="506.84" y="316.34" width="1.95" height="7.52" fill="#ff9c9c" stroke="none" stroke-width="0"/><rect x="508.74" y="316.34" width="1.95" height="7.52" fill="#f8f8fc" stroke="none" stroke-width="0"/><rect x="510.63" y="316.34" width="1.95" height="7.52" fill="#ff9c9c" stroke="none" stroke-width="0"/><rect x="512.53" y="316.34" width="1.95" height="7.52" fill="#f8f8fc" stroke="none" stroke-width="0"/><rect x="514.43" y="316.34" width="1.95" height="7.52" fill="#b0d6f6" stroke="none" stroke-width="0"/><rect x="516.32" y="316.34" width="1.95" height="7.52" fill="#f8f8fc" stroke="none" stroke-width="0"/><rect x="518.22" y="316.34" width="1.95" height="7.52" fill="#b0d6f6" stroke="none" stroke-width="0"/><rect x="520.12" y="316.34" width="1.95" height="7.52" fill="#f8f8fc" stroke="none" stroke-width="0"/><rect x="522.01" y="316.34" width="1.95" height="7.52" fill="#6eb0ee" stroke="none" stroke-width="0"/><rect x="523.91" y="316.34" width="1.95" height="7.52" fill="#f8f8fc" stroke="none" stroke-width="0"/><rect x="525.81" y="316.34" width="1.95" height="7.52" fill="#b0d6f6" stroke="none" stroke-width="0"/><rect x="527.70" y="316.34" width="1.95" height="7.52" fill="#f8f8fc" stroke="none" stroke-width="0"/><rect x="362.70" y="323.80" width="1.95" height="7.52" fill="#ff9c9c" stroke="none" stroke-width="0"/><rect x="364.60" y="323.80" width="1.95" height="7.52" fill="#f8f8fc" stroke="none" stroke-width="0"/><rect x="366.49" y="323.80" width="3.84" height="7.52" fill="#ff3030" stroke="none" stroke-width="0"/><rect x="370.29" y="323.80" width="1.95" height="7.52" fill="#ff9c9c" stroke="none" stroke-width="0"/><rect x="372.18" y="323.80" width="1.95" height="7.52" fill="#f8f8fc" stroke="none" stroke-width="0"/><rect x="374.08" y="323.80" width="1.95" height="7.52" fill="#ff9c9c" stroke="none" stroke-width="0"/><rect x="375.98" y="323.80" width="3.84" height="7.52" fill="#f8f8fc" stroke="none" stroke-width="0"/><rect x="379.77" y="323.80" width="1.95" height="7.52" fill="#ff3030" stroke="none" stroke-width="0"/><rect x="381.67" y="323.80" width="1.95" height="7.52" fill="#f8f8fc" stroke="none" stroke-width="0"/><rect x="383.56" y="323.80" width="1.95" height="7.52" fill="#ffc6c6" stroke="none" stroke-width="0"/><rect x="385.46" y="323.80" width="1.95" height="7.52" fill="#ff9c9c" stroke="none" stroke-width="0"/><rect x="387.36" y="323.80" width="1.95" height="7.52" fill="#f8f8fc" stroke="none" stroke-width="0"/><rect x="389.25" y="323.80" width="1.95" height="7.52" fill="#b0d6f6" stroke="none" stroke-width="0"/><rect x="391.15" y="323.80" width="1.95" height="7.52" fill="#ffc6c6" stroke="none" stroke-width="0"/><rect x="393.05" y="323.80" width="1.95" height="7.52" fill="#ff9c9c" stroke="none" stroke-width="0"/><rect x="394.94" y="323.80" width="1.95" height="7.52" fill="#f8f8fc" stroke="none" stroke-width="0"/><rect x="396.84" y="323.80" width="1.95" height="7.52" fill="#ffc6c6" stroke="none" stroke-width="0"/><rect x="398.74" y="323.80" width="1.95" height="7.52" fill="#f8f8fc" stroke="none" stroke-width="0"/><rect x="400.63" y="323.80" width="1.95" height="7.52" fill="#6eb0ee" stroke="none" stroke-width="0"/><rect x="402.53" y="323.80" width="3.84" height="7.52" fill="#f8f8fc" stroke="none" stroke-width="0"/><rect x="406.32" y="323.80" width="1.95" height="7.52" fill="#b0d6f6" stroke="none" stroke-width="0"/><rect x="408.22" y="323.80" width="1.95" height="7.52" fill="#f8f8fc" stroke="none" stroke-width="0"/><rect x="410.11" y="323.80" width="1.95" height="7.52" fill="#ff9c9c" stroke="none" stroke-width="0"/><rect x="412.01" y="323.80" width="1.95" height="7.52" fill="#f8f8fc" stroke="none" stroke-width="0"/><rect x="413.91" y="323.80" width="1.95" height="7.52" fill="#2a1ab8" stroke="none" stroke-width="0"/><rect x="415.80" y="323.80" width="1.95" height="7.52" fill="#ff3030" stroke="none" stroke-width="0"/><rect x="417.70" y="323.80" width="5.74" height="7.52" fill="#b0d6f6" stroke="none" stroke-width="0"/><rect x="423.39" y="323.80" width="1.95" height="7.52" fill="#f8f8fc" stroke="none" stroke-width="0"/><rect x="425.29" y="323.80" width="1.95" height="7.52" fill="#ff3030" stroke="none" stroke-width="0"/><rect x="427.18" y="323.80" width="1.95" height="7.52" fill="#f8f8fc" stroke="none" stroke-width="0"/><rect x="429.08" y="323.80" width="3.84" height="7.52" fill="#ff9c9c" stroke="none" stroke-width="0"/><rect x="432.87" y="323.80" width="1.95" height="7.52" fill="#f8f8fc" stroke="none" stroke-width="0"/><rect x="434.77" y="323.80" width="1.95" height="7.52" fill="#ff9c9c" stroke="none" stroke-width="0"/><rect x="436.67" y="323.80" width="1.95" height="7.52" fill="#f8f8fc" stroke="none" stroke-width="0"/><rect x="438.56" y="323.80" width="1.95" height="7.52" fill="#ffc6c6" stroke="none" stroke-width="0"/><rect x="440.46" y="323.80" width="1.95" height="7.52" fill="#f8f8fc" stroke="none" stroke-width="0"/><rect x="442.36" y="323.80" width="1.95" height="7.52" fill="#b0d6f6" stroke="none" stroke-width="0"/><rect x="444.25" y="323.80" width="1.95" height="7.52" fill="#f8f8fc" stroke="none" stroke-width="0"/><rect x="446.15" y="323.80" width="1.95" height="7.52" fill="#ff3030" stroke="none" stroke-width="0"/><rect x="448.05" y="323.80" width="1.95" height="7.52" fill="#f8f8fc" stroke="none" stroke-width="0"/><rect x="449.94" y="323.80" width="1.95" height="7.52" fill="#2a8aea" stroke="none" stroke-width="0"/><rect x="451.84" y="323.80" width="1.95" height="7.52" fill="#f8f8fc" stroke="none" stroke-width="0"/><rect x="453.74" y="323.80" width="3.84" height="7.52" fill="#ff9c9c" stroke="none" stroke-width="0"/><rect x="457.53" y="323.80" width="1.95" height="7.52" fill="#ffc6c6" stroke="none" stroke-width="0"/><rect x="459.43" y="323.80" width="1.95" height="7.52" fill="#6eb0ee" stroke="none" stroke-width="0"/><rect x="461.32" y="323.80" width="1.95" height="7.52" fill="#f8f8fc" stroke="none" stroke-width="0"/><rect x="463.22" y="323.80" width="1.95" height="7.52" fill="#ffc6c6" stroke="none" stroke-width="0"/><rect x="465.12" y="323.80" width="1.95" height="7.52" fill="#ff9c9c" stroke="none" stroke-width="0"/><rect x="467.01" y="323.80" width="1.95" height="7.52" fill="#f8f8fc" stroke="none" stroke-width="0"/><rect x="468.91" y="323.80" width="1.95" height="7.52" fill="#ff9c9c" stroke="none" stroke-width="0"/><rect x="470.81" y="323.80" width="1.95" height="7.52" fill="#6eb0ee" stroke="none" stroke-width="0"/><rect x="472.70" y="323.80" width="1.95" height="7.52" fill="#b0d6f6" stroke="none" stroke-width="0"/><rect x="474.60" y="323.80" width="1.95" height="7.52" fill="#f8f8fc" stroke="none" stroke-width="0"/><rect x="476.50" y="323.80" width="1.95" height="7.52" fill="#ff9c9c" stroke="none" stroke-width="0"/><rect x="478.39" y="323.80" width="1.95" height="7.52" fill="#f8f8fc" stroke="none" stroke-width="0"/><rect x="480.29" y="323.80" width="1.95" height="7.52" fill="#2a8aea" stroke="none" stroke-width="0"/><rect x="482.19" y="323.80" width="1.95" height="7.52" fill="#f8f8fc" stroke="none" stroke-width="0"/><rect x="484.08" y="323.80" width="1.95" height="7.52" fill="#ffc6c6" stroke="none" stroke-width="0"/><rect x="485.98" y="323.80" width="5.74" height="7.52" fill="#f8f8fc" stroke="none" stroke-width="0"/><rect x="491.67" y="323.80" width="1.95" height="7.52" fill="#b0d6f6" stroke="none" stroke-width="0"/><rect x="493.56" y="323.80" width="1.95" height="7.52" fill="#ff9c9c" stroke="none" stroke-width="0"/><rect x="495.46" y="323.80" width="1.95" height="7.52" fill="#ffc6c6" stroke="none" stroke-width="0"/><rect x="497.36" y="323.80" width="1.95" height="7.52" fill="#b0d6f6" stroke="none" stroke-width="0"/><rect x="499.25" y="323.80" width="1.95" height="7.52" fill="#f8f8fc" stroke="none" stroke-width="0"/><rect x="501.15" y="323.80" width="1.95" height="7.52" fill="#b0d6f6" stroke="none" stroke-width="0"/><rect x="503.05" y="323.80" width="1.95" height="7.52" fill="#2a8aea" stroke="none" stroke-width="0"/><rect x="504.94" y="323.80" width="1.95" height="7.52" fill="#ff9c9c" stroke="none" stroke-width="0"/><rect x="506.84" y="323.80" width="1.95" height="7.52" fill="#b0d6f6" stroke="none" stroke-width="0"/><rect x="508.74" y="323.80" width="1.95" height="7.52" fill="#ff9c9c" stroke="none" stroke-width="0"/><rect x="510.63" y="323.80" width="3.84" height="7.52" fill="#f8f8fc" stroke="none" stroke-width="0"/><rect x="514.43" y="323.80" width="1.95" height="7.52" fill="#2a8aea" stroke="none" stroke-width="0"/><rect x="516.32" y="323.80" width="1.95" height="7.52" fill="#f8f8fc" stroke="none" stroke-width="0"/><rect x="518.22" y="323.80" width="1.95" height="7.52" fill="#ff9c9c" stroke="none" stroke-width="0"/><rect x="520.12" y="323.80" width="1.95" height="7.52" fill="#b0d6f6" stroke="none" stroke-width="0"/><rect x="522.01" y="323.80" width="1.95" height="7.52" fill="#6eb0ee" stroke="none" stroke-width="0"/><rect x="523.91" y="323.80" width="1.95" height="7.52" fill="#b0d6f6" stroke="none" stroke-width="0"/><rect x="525.81" y="323.80" width="1.95" height="7.52" fill="#f8f8fc" stroke="none" stroke-width="0"/><rect x="527.70" y="323.80" width="1.95" height="7.52" fill="#b0d6f6" stroke="none" stroke-width="0"/><rect x="362.70" y="331.27" width="1.95" height="7.52" fill="#b0d6f6" stroke="none" stroke-width="0"/><rect x="364.60" y="331.27" width="1.95" height="7.52" fill="#2a8aea" stroke="none" stroke-width="0"/><rect x="366.49" y="331.27" width="1.95" height="7.52" fill="#f8f8fc" stroke="none" stroke-width="0"/><rect x="368.39" y="331.27" width="1.95" height="7.52" fill="#ff9c9c" stroke="none" stroke-width="0"/><rect x="370.29" y="331.27" width="1.95" height="7.52" fill="#ffc6c6" stroke="none" stroke-width="0"/><rect x="372.18" y="331.27" width="1.95" height="7.52" fill="#f8f8fc" stroke="none" stroke-width="0"/><rect x="374.08" y="331.27" width="1.95" height="7.52" fill="#b0d6f6" stroke="none" stroke-width="0"/><rect x="375.98" y="331.27" width="1.95" height="7.52" fill="#ff9c9c" stroke="none" stroke-width="0"/><rect x="377.87" y="331.27" width="1.95" height="7.52" fill="#f8f8fc" stroke="none" stroke-width="0"/><rect x="379.77" y="331.27" width="1.95" height="7.52" fill="#ffc6c6" stroke="none" stroke-width="0"/><rect x="381.67" y="331.27" width="1.95" height="7.52" fill="#f8f8fc" stroke="none" stroke-width="0"/><rect x="383.56" y="331.27" width="1.95" height="7.52" fill="#6eb0ee" stroke="none" stroke-width="0"/><rect x="385.46" y="331.27" width="1.95" height="7.52" fill="#f8f8fc" stroke="none" stroke-width="0"/><rect x="387.36" y="331.27" width="1.95" height="7.52" fill="#ff3030" stroke="none" stroke-width="0"/><rect x="389.25" y="331.27" width="1.95" height="7.52" fill="#f8f8fc" stroke="none" stroke-width="0"/><rect x="391.15" y="331.27" width="1.95" height="7.52" fill="#ffc6c6" stroke="none" stroke-width="0"/><rect x="393.05" y="331.27" width="1.95" height="7.52" fill="#f8f8fc" stroke="none" stroke-width="0"/><rect x="394.94" y="331.27" width="1.95" height="7.52" fill="#b0d6f6" stroke="none" stroke-width="0"/><rect x="396.84" y="331.27" width="3.84" height="7.52" fill="#ff9c9c" stroke="none" stroke-width="0"/><rect x="400.63" y="331.27" width="1.95" height="7.52" fill="#ffc6c6" stroke="none" stroke-width="0"/><rect x="402.53" y="331.27" width="1.95" height="7.52" fill="#f8f8fc" stroke="none" stroke-width="0"/><rect x="404.43" y="331.27" width="1.95" height="7.52" fill="#b0d6f6" stroke="none" stroke-width="0"/><rect x="406.32" y="331.27" width="1.95" height="7.52" fill="#2a8aea" stroke="none" stroke-width="0"/><rect x="408.22" y="331.27" width="1.95" height="7.52" fill="#f8f8fc" stroke="none" stroke-width="0"/><rect x="410.11" y="331.27" width="1.95" height="7.52" fill="#b0d6f6" stroke="none" stroke-width="0"/><rect x="412.01" y="331.27" width="1.95" height="7.52" fill="#f8f8fc" stroke="none" stroke-width="0"/><rect x="413.91" y="331.27" width="1.95" height="7.52" fill="#2a8aea" stroke="none" stroke-width="0"/><rect x="415.80" y="331.27" width="1.95" height="7.52" fill="#f8f8fc" stroke="none" stroke-width="0"/><rect x="417.70" y="331.27" width="3.84" height="7.52" fill="#b0d6f6" stroke="none" stroke-width="0"/><rect x="421.49" y="331.27" width="1.95" height="7.52" fill="#f8f8fc" stroke="none" stroke-width="0"/><rect x="423.39" y="331.27" width="1.95" height="7.52" fill="#ff9c9c" stroke="none" stroke-width="0"/><rect x="425.29" y="331.27" width="1.95" height="7.52" fill="#ffc6c6" stroke="none" stroke-width="0"/><rect x="427.18" y="331.27" width="3.84" height="7.52" fill="#f8f8fc" stroke="none" stroke-width="0"/><rect x="430.98" y="331.27" width="1.95" height="7.52" fill="#ff3030" stroke="none" stroke-width="0"/><rect x="432.87" y="331.27" width="1.95" height="7.52" fill="#f8f8fc" stroke="none" stroke-width="0"/><rect x="434.77" y="331.27" width="1.95" height="7.52" fill="#ff9c9c" stroke="none" stroke-width="0"/><rect x="436.67" y="331.27" width="7.64" height="7.52" fill="#f8f8fc" stroke="none" stroke-width="0"/><rect x="444.25" y="331.27" width="1.95" height="7.52" fill="#b0d6f6" stroke="none" stroke-width="0"/><rect x="446.15" y="331.27" width="1.95" height="7.52" fill="#f8f8fc" stroke="none" stroke-width="0"/><rect x="448.05" y="331.27" width="1.95" height="7.52" fill="#ff9c9c" stroke="none" stroke-width="0"/><rect x="449.94" y="331.27" width="1.95" height="7.52" fill="#f8f8fc" stroke="none" stroke-width="0"/><rect x="451.84" y="331.27" width="1.95" height="7.52" fill="#ff3030" stroke="none" stroke-width="0"/><rect x="453.74" y="331.27" width="3.84" height="7.52" fill="#b0d6f6" stroke="none" stroke-width="0"/><rect x="457.53" y="331.27" width="1.95" height="7.52" fill="#f8f8fc" stroke="none" stroke-width="0"/><rect x="459.43" y="331.27" width="1.95" height="7.52" fill="#ff9c9c" stroke="none" stroke-width="0"/><rect x="461.32" y="331.27" width="1.95" height="7.52" fill="#f8f8fc" stroke="none" stroke-width="0"/><rect x="463.22" y="331.27" width="1.95" height="7.52" fill="#ff3030" stroke="none" stroke-width="0"/><rect x="465.12" y="331.27" width="1.95" height="7.52" fill="#6eb0ee" stroke="none" stroke-width="0"/><rect x="467.01" y="331.27" width="1.95" height="7.52" fill="#ff9c9c" stroke="none" stroke-width="0"/><rect x="468.91" y="331.27" width="1.95" height="7.52" fill="#f8f8fc" stroke="none" stroke-width="0"/><rect x="470.81" y="331.27" width="1.95" height="7.52" fill="#b0d6f6" stroke="none" stroke-width="0"/><rect x="472.70" y="331.27" width="1.95" height="7.52" fill="#f8f8fc" stroke="none" stroke-width="0"/><rect x="474.60" y="331.27" width="1.95" height="7.52" fill="#b0d6f6" stroke="none" stroke-width="0"/><rect x="476.50" y="331.27" width="1.95" height="7.52" fill="#f8f8fc" stroke="none" stroke-width="0"/><rect x="478.39" y="331.27" width="1.95" height="7.52" fill="#b0d6f6" stroke="none" stroke-width="0"/><rect x="480.29" y="331.27" width="3.84" height="7.52" fill="#ff9c9c" stroke="none" stroke-width="0"/><rect x="484.08" y="331.27" width="3.84" height="7.52" fill="#f8f8fc" stroke="none" stroke-width="0"/><rect x="487.88" y="331.27" width="1.95" height="7.52" fill="#b0d6f6" stroke="none" stroke-width="0"/><rect x="489.77" y="331.27" width="1.95" height="7.52" fill="#ffc6c6" stroke="none" stroke-width="0"/><rect x="491.67" y="331.27" width="1.95" height="7.52" fill="#f8f8fc" stroke="none" stroke-width="0"/><rect x="493.56" y="331.27" width="1.95" height="7.52" fill="#2a8aea" stroke="none" stroke-width="0"/><rect x="495.46" y="331.27" width="1.95" height="7.52" fill="#f8f8fc" stroke="none" stroke-width="0"/><rect x="497.36" y="331.27" width="1.95" height="7.52" fill="#2a8aea" stroke="none" stroke-width="0"/><rect x="499.25" y="331.27" width="1.95" height="7.52" fill="#ff3030" stroke="none" stroke-width="0"/><rect x="501.15" y="331.27" width="1.95" height="7.52" fill="#f8f8fc" stroke="none" stroke-width="0"/><rect x="503.05" y="331.27" width="1.95" height="7.52" fill="#ff9c9c" stroke="none" stroke-width="0"/><rect x="504.94" y="331.27" width="1.95" height="7.52" fill="#b0d6f6" stroke="none" stroke-width="0"/><rect x="506.84" y="331.27" width="1.95" height="7.52" fill="#ff3030" stroke="none" stroke-width="0"/><rect x="508.74" y="331.27" width="1.95" height="7.52" fill="#b0d6f6" stroke="none" stroke-width="0"/><rect x="510.63" y="331.27" width="3.84" height="7.52" fill="#f8f8fc" stroke="none" stroke-width="0"/><rect x="514.43" y="331.27" width="3.84" height="7.52" fill="#b0d6f6" stroke="none" stroke-width="0"/><rect x="518.22" y="331.27" width="1.95" height="7.52" fill="#f8f8fc" stroke="none" stroke-width="0"/><rect x="520.12" y="331.27" width="1.95" height="7.52" fill="#b0d6f6" stroke="none" stroke-width="0"/><rect x="522.01" y="331.27" width="1.95" height="7.52" fill="#6eb0ee" stroke="none" stroke-width="0"/><rect x="523.91" y="331.27" width="1.95" height="7.52" fill="#b0d6f6" stroke="none" stroke-width="0"/><rect x="525.81" y="331.27" width="1.95" height="7.52" fill="#f8f8fc" stroke="none" stroke-width="0"/><rect x="527.70" y="331.27" width="1.95" height="7.52" fill="#b0d6f6" stroke="none" stroke-width="0"/><rect x="362.70" y="338.74" width="1.95" height="7.52" fill="#f8f8fc" stroke="none" stroke-width="0"/><rect x="364.60" y="338.74" width="1.95" height="7.52" fill="#b0d6f6" stroke="none" stroke-width="0"/><rect x="366.49" y="338.74" width="1.95" height="7.52" fill="#f8f8fc" stroke="none" stroke-width="0"/><rect x="368.39" y="338.74" width="1.95" height="7.52" fill="#ff9c9c" stroke="none" stroke-width="0"/><rect x="370.29" y="338.74" width="1.95" height="7.52" fill="#ffc6c6" stroke="none" stroke-width="0"/><rect x="372.18" y="338.74" width="1.95" height="7.52" fill="#f8f8fc" stroke="none" stroke-width="0"/><rect x="374.08" y="338.74" width="1.95" height="7.52" fill="#b0d6f6" stroke="none" stroke-width="0"/><rect x="375.98" y="338.74" width="3.84" height="7.52" fill="#ff9c9c" stroke="none" stroke-width="0"/><rect x="379.77" y="338.74" width="3.84" height="7.52" fill="#f8f8fc" stroke="none" stroke-width="0"/><rect x="383.56" y="338.74" width="1.95" height="7.52" fill="#ffc6c6" stroke="none" stroke-width="0"/><rect x="385.46" y="338.74" width="3.84" height="7.52" fill="#f8f8fc" stroke="none" stroke-width="0"/><rect x="389.25" y="338.74" width="1.95" height="7.52" fill="#b0d6f6" stroke="none" stroke-width="0"/><rect x="391.15" y="338.74" width="1.95" height="7.52" fill="#f8f8fc" stroke="none" stroke-width="0"/><rect x="393.05" y="338.74" width="1.95" height="7.52" fill="#ff3030" stroke="none" stroke-width="0"/><rect x="394.94" y="338.74" width="1.95" height="7.52" fill="#f8f8fc" stroke="none" stroke-width="0"/><rect x="396.84" y="338.74" width="1.95" height="7.52" fill="#b0d6f6" stroke="none" stroke-width="0"/><rect x="398.74" y="338.74" width="1.95" height="7.52" fill="#f8f8fc" stroke="none" stroke-width="0"/><rect x="400.63" y="338.74" width="1.95" height="7.52" fill="#b0d6f6" stroke="none" stroke-width="0"/><rect x="402.53" y="338.74" width="1.95" height="7.52" fill="#6eb0ee" stroke="none" stroke-width="0"/><rect x="404.43" y="338.74" width="1.95" height="7.52" fill="#f8f8fc" stroke="none" stroke-width="0"/><rect x="406.32" y="338.74" width="1.95" height="7.52" fill="#b0d6f6" stroke="none" stroke-width="0"/><rect x="408.22" y="338.74" width="1.95" height="7.52" fill="#f8f8fc" stroke="none" stroke-width="0"/><rect x="410.11" y="338.74" width="1.95" height="7.52" fill="#b0d6f6" stroke="none" stroke-width="0"/><rect x="412.01" y="338.74" width="1.95" height="7.52" fill="#ff9c9c" stroke="none" stroke-width="0"/><rect x="413.91" y="338.74" width="1.95" height="7.52" fill="#ff3030" stroke="none" stroke-width="0"/><rect x="415.80" y="338.74" width="1.95" height="7.52" fill="#f8f8fc" stroke="none" stroke-width="0"/><rect x="417.70" y="338.74" width="3.84" height="7.52" fill="#ff9c9c" stroke="none" stroke-width="0"/><rect x="421.49" y="338.74" width="1.95" height="7.52" fill="#ffc6c6" stroke="none" stroke-width="0"/><rect x="423.39" y="338.74" width="3.84" height="7.52" fill="#f8f8fc" stroke="none" stroke-width="0"/><rect x="427.18" y="338.74" width="1.95" height="7.52" fill="#b0d6f6" stroke="none" stroke-width="0"/><rect x="429.08" y="338.74" width="1.95" height="7.52" fill="#ff3030" stroke="none" stroke-width="0"/><rect x="430.98" y="338.74" width="3.84" height="7.52" fill="#f8f8fc" stroke="none" stroke-width="0"/><rect x="434.77" y="338.74" width="1.95" height="7.52" fill="#b0d6f6" stroke="none" stroke-width="0"/><rect x="436.67" y="338.74" width="3.84" height="7.52" fill="#f8f8fc" stroke="none" stroke-width="0"/><rect x="440.46" y="338.74" width="5.74" height="7.52" fill="#6eb0ee" stroke="none" stroke-width="0"/><rect x="446.15" y="338.74" width="5.74" height="7.52" fill="#f8f8fc" stroke="none" stroke-width="0"/><rect x="451.84" y="338.74" width="1.95" height="7.52" fill="#2a8aea" stroke="none" stroke-width="0"/><rect x="453.74" y="338.74" width="1.95" height="7.52" fill="#ff3030" stroke="none" stroke-width="0"/><rect x="455.63" y="338.74" width="3.84" height="7.52" fill="#f8f8fc" stroke="none" stroke-width="0"/><rect x="459.43" y="338.74" width="1.95" height="7.52" fill="#ff9c9c" stroke="none" stroke-width="0"/><rect x="461.32" y="338.74" width="3.84" height="7.52" fill="#f8f8fc" stroke="none" stroke-width="0"/><rect x="465.12" y="338.74" width="1.95" height="7.52" fill="#6eb0ee" stroke="none" stroke-width="0"/><rect x="467.01" y="338.74" width="3.84" height="7.52" fill="#f8f8fc" stroke="none" stroke-width="0"/><rect x="470.81" y="338.74" width="1.95" height="7.52" fill="#b0d6f6" stroke="none" stroke-width="0"/><rect x="472.70" y="338.74" width="1.95" height="7.52" fill="#f8f8fc" stroke="none" stroke-width="0"/><rect x="474.60" y="338.74" width="3.84" height="7.52" fill="#b0d6f6" stroke="none" stroke-width="0"/><rect x="478.39" y="338.74" width="1.95" height="7.52" fill="#ff3030" stroke="none" stroke-width="0"/><rect x="480.29" y="338.74" width="5.74" height="7.52" fill="#f8f8fc" stroke="none" stroke-width="0"/><rect x="485.98" y="338.74" width="3.84" height="7.52" fill="#b0d6f6" stroke="none" stroke-width="0"/><rect x="489.77" y="338.74" width="1.95" height="7.52" fill="#f8f8fc" stroke="none" stroke-width="0"/><rect x="491.67" y="338.74" width="1.95" height="7.52" fill="#ff9c9c" stroke="none" stroke-width="0"/><rect x="493.56" y="338.74" width="3.84" height="7.52" fill="#f8f8fc" stroke="none" stroke-width="0"/><rect x="497.36" y="338.74" width="1.95" height="7.52" fill="#e80808" stroke="none" stroke-width="0"/><rect x="499.25" y="338.74" width="1.95" height="7.52" fill="#f8f8fc" stroke="none" stroke-width="0"/><rect x="501.15" y="338.74" width="1.95" height="7.52" fill="#ffc6c6" stroke="none" stroke-width="0"/><rect x="503.05" y="338.74" width="1.95" height="7.52" fill="#ff9c9c" stroke="none" stroke-width="0"/><rect x="504.94" y="338.74" width="1.95" height="7.52" fill="#f8f8fc" stroke="none" stroke-width="0"/><rect x="506.84" y="338.74" width="3.84" height="7.52" fill="#ff9c9c" stroke="none" stroke-width="0"/><rect x="510.63" y="338.74" width="1.95" height="7.52" fill="#b0d6f6" stroke="none" stroke-width="0"/><rect x="512.53" y="338.74" width="3.84" height="7.52" fill="#f8f8fc" stroke="none" stroke-width="0"/><rect x="516.32" y="338.74" width="3.84" height="7.52" fill="#b0d6f6" stroke="none" stroke-width="0"/><rect x="520.12" y="338.74" width="1.95" height="7.52" fill="#f8f8fc" stroke="none" stroke-width="0"/><rect x="522.01" y="338.74" width="1.95" height="7.52" fill="#6eb0ee" stroke="none" stroke-width="0"/><rect x="523.91" y="338.74" width="3.84" height="7.52" fill="#f8f8fc" stroke="none" stroke-width="0"/><rect x="527.70" y="338.74" width="1.95" height="7.52" fill="#b0d6f6" stroke="none" stroke-width="0"/><rect x="362.70" y="346.20" width="1.95" height="7.52" fill="#ffc6c6" stroke="none" stroke-width="0"/><rect x="364.60" y="346.20" width="1.95" height="7.52" fill="#2a8aea" stroke="none" stroke-width="0"/><rect x="366.49" y="346.20" width="1.95" height="7.52" fill="#f8f8fc" stroke="none" stroke-width="0"/><rect x="368.39" y="346.20" width="3.84" height="7.52" fill="#ff3030" stroke="none" stroke-width="0"/><rect x="372.18" y="346.20" width="1.95" height="7.52" fill="#f8f8fc" stroke="none" stroke-width="0"/><rect x="374.08" y="346.20" width="3.84" height="7.52" fill="#ff9c9c" stroke="none" stroke-width="0"/><rect x="377.87" y="346.20" width="1.95" height="7.52" fill="#b0d6f6" stroke="none" stroke-width="0"/><rect x="379.77" y="346.20" width="1.95" height="7.52" fill="#f8f8fc" stroke="none" stroke-width="0"/><rect x="381.67" y="346.20" width="1.95" height="7.52" fill="#ff9c9c" stroke="none" stroke-width="0"/><rect x="383.56" y="346.20" width="1.95" height="7.52" fill="#b0d6f6" stroke="none" stroke-width="0"/><rect x="385.46" y="346.20" width="5.74" height="7.52" fill="#f8f8fc" stroke="none" stroke-width="0"/><rect x="391.15" y="346.20" width="1.95" height="7.52" fill="#2a8aea" stroke="none" stroke-width="0"/><rect x="393.05" y="346.20" width="1.95" height="7.52" fill="#6eb0ee" stroke="none" stroke-width="0"/><rect x="394.94" y="346.20" width="1.95" height="7.52" fill="#f8f8fc" stroke="none" stroke-width="0"/><rect x="396.84" y="346.20" width="1.95" height="7.52" fill="#b0d6f6" stroke="none" stroke-width="0"/><rect x="398.74" y="346.20" width="1.95" height="7.52" fill="#f8f8fc" stroke="none" stroke-width="0"/><rect x="400.63" y="346.20" width="1.95" height="7.52" fill="#ffc6c6" stroke="none" stroke-width="0"/><rect x="402.53" y="346.20" width="1.95" height="7.52" fill="#b0d6f6" stroke="none" stroke-width="0"/><rect x="404.43" y="346.20" width="3.84" height="7.52" fill="#f8f8fc" stroke="none" stroke-width="0"/><rect x="408.22" y="346.20" width="1.95" height="7.52" fill="#b0d6f6" stroke="none" stroke-width="0"/><rect x="410.11" y="346.20" width="1.95" height="7.52" fill="#f8f8fc" stroke="none" stroke-width="0"/><rect x="412.01" y="346.20" width="1.95" height="7.52" fill="#6eb0ee" stroke="none" stroke-width="0"/><rect x="413.91" y="346.20" width="1.95" height="7.52" fill="#f8f8fc" stroke="none" stroke-width="0"/><rect x="415.80" y="346.20" width="1.95" height="7.52" fill="#b0d6f6" stroke="none" stroke-width="0"/><rect x="417.70" y="346.20" width="1.95" height="7.52" fill="#6eb0ee" stroke="none" stroke-width="0"/><rect x="419.60" y="346.20" width="1.95" height="7.52" fill="#2a8aea" stroke="none" stroke-width="0"/><rect x="421.49" y="346.20" width="3.84" height="7.52" fill="#f8f8fc" stroke="none" stroke-width="0"/><rect x="425.29" y="346.20" width="1.95" height="7.52" fill="#b0d6f6" stroke="none" stroke-width="0"/><rect x="427.18" y="346.20" width="1.95" height="7.52" fill="#f8f8fc" stroke="none" stroke-width="0"/><rect x="429.08" y="346.20" width="1.95" height="7.52" fill="#ff9c9c" stroke="none" stroke-width="0"/><rect x="430.98" y="346.20" width="1.95" height="7.52" fill="#ff3030" stroke="none" stroke-width="0"/><rect x="432.87" y="346.20" width="1.95" height="7.52" fill="#ff9c9c" stroke="none" stroke-width="0"/><rect x="434.77" y="346.20" width="9.53" height="7.52" fill="#f8f8fc" stroke="none" stroke-width="0"/><rect x="444.25" y="346.20" width="1.95" height="7.52" fill="#ff3030" stroke="none" stroke-width="0"/><rect x="446.15" y="346.20" width="3.84" height="7.52" fill="#f8f8fc" stroke="none" stroke-width="0"/><rect x="449.94" y="346.20" width="1.95" height="7.52" fill="#ffc6c6" stroke="none" stroke-width="0"/><rect x="451.84" y="346.20" width="1.95" height="7.52" fill="#f8f8fc" stroke="none" stroke-width="0"/><rect x="453.74" y="346.20" width="1.95" height="7.52" fill="#b0d6f6" stroke="none" stroke-width="0"/><rect x="455.63" y="346.20" width="1.95" height="7.52" fill="#f8f8fc" stroke="none" stroke-width="0"/><rect x="457.53" y="346.20" width="1.95" height="7.52" fill="#6eb0ee" stroke="none" stroke-width="0"/><rect x="459.43" y="346.20" width="1.95" height="7.52" fill="#ff3030" stroke="none" stroke-width="0"/><rect x="461.32" y="346.20" width="1.95" height="7.52" fill="#f8f8fc" stroke="none" stroke-width="0"/><rect x="463.22" y="346.20" width="1.95" height="7.52" fill="#ff3030" stroke="none" stroke-width="0"/><rect x="465.12" y="346.20" width="1.95" height="7.52" fill="#6eb0ee" stroke="none" stroke-width="0"/><rect x="467.01" y="346.20" width="1.95" height="7.52" fill="#ff3030" stroke="none" stroke-width="0"/><rect x="468.91" y="346.20" width="1.95" height="7.52" fill="#b0d6f6" stroke="none" stroke-width="0"/><rect x="470.81" y="346.20" width="1.95" height="7.52" fill="#f8f8fc" stroke="none" stroke-width="0"/><rect x="472.70" y="346.20" width="1.95" height="7.52" fill="#b0d6f6" stroke="none" stroke-width="0"/><rect x="474.60" y="346.20" width="3.84" height="7.52" fill="#6eb0ee" stroke="none" stroke-width="0"/><rect x="478.39" y="346.20" width="1.95" height="7.52" fill="#b0d6f6" stroke="none" stroke-width="0"/><rect x="480.29" y="346.20" width="3.84" height="7.52" fill="#ff9c9c" stroke="none" stroke-width="0"/><rect x="484.08" y="346.20" width="1.95" height="7.52" fill="#f8f8fc" stroke="none" stroke-width="0"/><rect x="485.98" y="346.20" width="1.95" height="7.52" fill="#b0d6f6" stroke="none" stroke-width="0"/><rect x="487.88" y="346.20" width="1.95" height="7.52" fill="#f8f8fc" stroke="none" stroke-width="0"/><rect x="489.77" y="346.20" width="5.74" height="7.52" fill="#ff9c9c" stroke="none" stroke-width="0"/><rect x="495.46" y="346.20" width="3.84" height="7.52" fill="#f8f8fc" stroke="none" stroke-width="0"/><rect x="499.25" y="346.20" width="1.95" height="7.52" fill="#ffc6c6" stroke="none" stroke-width="0"/><rect x="501.15" y="346.20" width="1.95" height="7.52" fill="#f8f8fc" stroke="none" stroke-width="0"/><rect x="503.05" y="346.20" width="1.95" height="7.52" fill="#b0d6f6" stroke="none" stroke-width="0"/><rect x="504.94" y="346.20" width="1.95" height="7.52" fill="#f8f8fc" stroke="none" stroke-width="0"/><rect x="506.84" y="346.20" width="3.84" height="7.52" fill="#ff3030" stroke="none" stroke-width="0"/><rect x="510.63" y="346.20" width="1.95" height="7.52" fill="#ff9c9c" stroke="none" stroke-width="0"/><rect x="512.53" y="346.20" width="1.95" height="7.52" fill="#6eb0ee" stroke="none" stroke-width="0"/><rect x="514.43" y="346.20" width="1.95" height="7.52" fill="#f8f8fc" stroke="none" stroke-width="0"/><rect x="516.32" y="346.20" width="3.84" height="7.52" fill="#b0d6f6" stroke="none" stroke-width="0"/><rect x="520.12" y="346.20" width="1.95" height="7.52" fill="#f8f8fc" stroke="none" stroke-width="0"/><rect x="522.01" y="346.20" width="1.95" height="7.52" fill="#b0d6f6" stroke="none" stroke-width="0"/><rect x="523.91" y="346.20" width="1.95" height="7.52" fill="#f8f8fc" stroke="none" stroke-width="0"/><rect x="525.81" y="346.20" width="3.84" height="7.52" fill="#b0d6f6" stroke="none" stroke-width="0"/><rect x="362.70" y="353.67" width="1.95" height="7.52" fill="#f8f8fc" stroke="none" stroke-width="0"/><rect x="364.60" y="353.67" width="1.95" height="7.52" fill="#2a8aea" stroke="none" stroke-width="0"/><rect x="366.49" y="353.67" width="1.95" height="7.52" fill="#f8f8fc" stroke="none" stroke-width="0"/><rect x="368.39" y="353.67" width="3.84" height="7.52" fill="#ff3030" stroke="none" stroke-width="0"/><rect x="372.18" y="353.67" width="1.95" height="7.52" fill="#f8f8fc" stroke="none" stroke-width="0"/><rect x="374.08" y="353.67" width="1.95" height="7.52" fill="#b0d6f6" stroke="none" stroke-width="0"/><rect x="375.98" y="353.67" width="1.95" height="7.52" fill="#ff9c9c" stroke="none" stroke-width="0"/><rect x="377.87" y="353.67" width="1.95" height="7.52" fill="#f8f8fc" stroke="none" stroke-width="0"/><rect x="379.77" y="353.67" width="3.84" height="7.52" fill="#b0d6f6" stroke="none" stroke-width="0"/><rect x="383.56" y="353.67" width="1.95" height="7.52" fill="#f8f8fc" stroke="none" stroke-width="0"/><rect x="385.46" y="353.67" width="1.95" height="7.52" fill="#ffc6c6" stroke="none" stroke-width="0"/><rect x="387.36" y="353.67" width="1.95" height="7.52" fill="#ff3030" stroke="none" stroke-width="0"/><rect x="389.25" y="353.67" width="3.84" height="7.52" fill="#f8f8fc" stroke="none" stroke-width="0"/><rect x="393.05" y="353.67" width="3.84" height="7.52" fill="#ff9c9c" stroke="none" stroke-width="0"/><rect x="396.84" y="353.67" width="1.95" height="7.52" fill="#ffc6c6" stroke="none" stroke-width="0"/><rect x="398.74" y="353.67" width="3.84" height="7.52" fill="#f8f8fc" stroke="none" stroke-width="0"/><rect x="402.53" y="353.67" width="1.95" height="7.52" fill="#ffc6c6" stroke="none" stroke-width="0"/><rect x="404.43" y="353.67" width="1.95" height="7.52" fill="#f8f8fc" stroke="none" stroke-width="0"/><rect x="406.32" y="353.67" width="1.95" height="7.52" fill="#b0d6f6" stroke="none" stroke-width="0"/><rect x="408.22" y="353.67" width="1.95" height="7.52" fill="#2a8aea" stroke="none" stroke-width="0"/><rect x="410.11" y="353.67" width="1.95" height="7.52" fill="#ff9c9c" stroke="none" stroke-width="0"/><rect x="412.01" y="353.67" width="1.95" height="7.52" fill="#f8f8fc" stroke="none" stroke-width="0"/><rect x="413.91" y="353.67" width="1.95" height="7.52" fill="#2a1ab8" stroke="none" stroke-width="0"/><rect x="415.80" y="353.67" width="1.95" height="7.52" fill="#f8f8fc" stroke="none" stroke-width="0"/><rect x="417.70" y="353.67" width="3.84" height="7.52" fill="#b0d6f6" stroke="none" stroke-width="0"/><rect x="421.49" y="353.67" width="1.95" height="7.52" fill="#ff3030" stroke="none" stroke-width="0"/><rect x="423.39" y="353.67" width="5.74" height="7.52" fill="#f8f8fc" stroke="none" stroke-width="0"/><rect x="429.08" y="353.67" width="1.95" height="7.52" fill="#ff9c9c" stroke="none" stroke-width="0"/><rect x="430.98" y="353.67" width="1.95" height="7.52" fill="#f8f8fc" stroke="none" stroke-width="0"/><rect x="432.87" y="353.67" width="1.95" height="7.52" fill="#ff3030" stroke="none" stroke-width="0"/><rect x="434.77" y="353.67" width="1.95" height="7.52" fill="#f8f8fc" stroke="none" stroke-width="0"/><rect x="436.67" y="353.67" width="9.53" height="7.52" fill="#b0d6f6" stroke="none" stroke-width="0"/><rect x="446.15" y="353.67" width="3.84" height="7.52" fill="#f8f8fc" stroke="none" stroke-width="0"/><rect x="449.94" y="353.67" width="1.95" height="7.52" fill="#ff3030" stroke="none" stroke-width="0"/><rect x="451.84" y="353.67" width="1.95" height="7.52" fill="#f8f8fc" stroke="none" stroke-width="0"/><rect x="453.74" y="353.67" width="1.95" height="7.52" fill="#2a8aea" stroke="none" stroke-width="0"/><rect x="455.63" y="353.67" width="1.95" height="7.52" fill="#f8f8fc" stroke="none" stroke-width="0"/><rect x="457.53" y="353.67" width="1.95" height="7.52" fill="#b0d6f6" stroke="none" stroke-width="0"/><rect x="459.43" y="353.67" width="1.95" height="7.52" fill="#f8f8fc" stroke="none" stroke-width="0"/><rect x="461.32" y="353.67" width="1.95" height="7.52" fill="#b0d6f6" stroke="none" stroke-width="0"/><rect x="463.22" y="353.67" width="1.95" height="7.52" fill="#f8f8fc" stroke="none" stroke-width="0"/><rect x="465.12" y="353.67" width="1.95" height="7.52" fill="#6eb0ee" stroke="none" stroke-width="0"/><rect x="467.01" y="353.67" width="1.95" height="7.52" fill="#f8f8fc" stroke="none" stroke-width="0"/><rect x="468.91" y="353.67" width="1.95" height="7.52" fill="#ff3030" stroke="none" stroke-width="0"/><rect x="470.81" y="353.67" width="1.95" height="7.52" fill="#ff9c9c" stroke="none" stroke-width="0"/><rect x="472.70" y="353.67" width="1.95" height="7.52" fill="#ffc6c6" stroke="none" stroke-width="0"/><rect x="474.60" y="353.67" width="3.84" height="7.52" fill="#f8f8fc" stroke="none" stroke-width="0"/><rect x="478.39" y="353.67" width="1.95" height="7.52" fill="#b0d6f6" stroke="none" stroke-width="0"/><rect x="480.29" y="353.67" width="1.95" height="7.52" fill="#ff9c9c" stroke="none" stroke-width="0"/><rect x="482.19" y="353.67" width="1.95" height="7.52" fill="#ff3030" stroke="none" stroke-width="0"/><rect x="484.08" y="353.67" width="1.95" height="7.52" fill="#f8f8fc" stroke="none" stroke-width="0"/><rect x="485.98" y="353.67" width="1.95" height="7.52" fill="#b0d6f6" stroke="none" stroke-width="0"/><rect x="487.88" y="353.67" width="1.95" height="7.52" fill="#f8f8fc" stroke="none" stroke-width="0"/><rect x="489.77" y="353.67" width="1.95" height="7.52" fill="#ff9c9c" stroke="none" stroke-width="0"/><rect x="491.67" y="353.67" width="1.95" height="7.52" fill="#f8f8fc" stroke="none" stroke-width="0"/><rect x="493.56" y="353.67" width="1.95" height="7.52" fill="#2a8aea" stroke="none" stroke-width="0"/><rect x="495.46" y="353.67" width="1.95" height="7.52" fill="#f8f8fc" stroke="none" stroke-width="0"/><rect x="497.36" y="353.67" width="1.95" height="7.52" fill="#b0d6f6" stroke="none" stroke-width="0"/><rect x="499.25" y="353.67" width="1.95" height="7.52" fill="#ff3030" stroke="none" stroke-width="0"/><rect x="501.15" y="353.67" width="1.95" height="7.52" fill="#f8f8fc" stroke="none" stroke-width="0"/><rect x="503.05" y="353.67" width="1.95" height="7.52" fill="#b0d6f6" stroke="none" stroke-width="0"/><rect x="504.94" y="353.67" width="3.84" height="7.52" fill="#f8f8fc" stroke="none" stroke-width="0"/><rect x="508.74" y="353.67" width="1.95" height="7.52" fill="#6eb0ee" stroke="none" stroke-width="0"/><rect x="510.63" y="353.67" width="5.74" height="7.52" fill="#f8f8fc" stroke="none" stroke-width="0"/><rect x="516.32" y="353.67" width="1.95" height="7.52" fill="#b0d6f6" stroke="none" stroke-width="0"/><rect x="518.22" y="353.67" width="1.95" height="7.52" fill="#f8f8fc" stroke="none" stroke-width="0"/><rect x="520.12" y="353.67" width="1.95" height="7.52" fill="#b0d6f6" stroke="none" stroke-width="0"/><rect x="522.01" y="353.67" width="3.84" height="7.52" fill="#f8f8fc" stroke="none" stroke-width="0"/><rect x="525.81" y="353.67" width="3.84" height="7.52" fill="#b0d6f6" stroke="none" stroke-width="0"/><rect x="362.70" y="361.14" width="1.95" height="7.52" fill="#f8f8fc" stroke="none" stroke-width="0"/><rect x="364.60" y="361.14" width="1.95" height="7.52" fill="#2a1ab8" stroke="none" stroke-width="0"/><rect x="366.49" y="361.14" width="1.95" height="7.52" fill="#f8f8fc" stroke="none" stroke-width="0"/><rect x="368.39" y="361.14" width="1.95" height="7.52" fill="#ff3030" stroke="none" stroke-width="0"/><rect x="370.29" y="361.14" width="1.95" height="7.52" fill="#ff9c9c" stroke="none" stroke-width="0"/><rect x="372.18" y="361.14" width="1.95" height="7.52" fill="#f8f8fc" stroke="none" stroke-width="0"/><rect x="374.08" y="361.14" width="1.95" height="7.52" fill="#ff9c9c" stroke="none" stroke-width="0"/><rect x="375.98" y="361.14" width="1.95" height="7.52" fill="#f8f8fc" stroke="none" stroke-width="0"/><rect x="377.87" y="361.14" width="1.95" height="7.52" fill="#ff9c9c" stroke="none" stroke-width="0"/><rect x="379.77" y="361.14" width="1.95" height="7.52" fill="#f8f8fc" stroke="none" stroke-width="0"/><rect x="381.67" y="361.14" width="1.95" height="7.52" fill="#ffc6c6" stroke="none" stroke-width="0"/><rect x="383.56" y="361.14" width="1.95" height="7.52" fill="#f8f8fc" stroke="none" stroke-width="0"/><rect x="385.46" y="361.14" width="1.95" height="7.52" fill="#ff9c9c" stroke="none" stroke-width="0"/><rect x="387.36" y="361.14" width="1.95" height="7.52" fill="#ff3030" stroke="none" stroke-width="0"/><rect x="389.25" y="361.14" width="1.95" height="7.52" fill="#f8f8fc" stroke="none" stroke-width="0"/><rect x="391.15" y="361.14" width="5.74" height="7.52" fill="#b0d6f6" stroke="none" stroke-width="0"/><rect x="396.84" y="361.14" width="1.95" height="7.52" fill="#f8f8fc" stroke="none" stroke-width="0"/><rect x="398.74" y="361.14" width="1.95" height="7.52" fill="#b0d6f6" stroke="none" stroke-width="0"/><rect x="400.63" y="361.14" width="1.95" height="7.52" fill="#ff3030" stroke="none" stroke-width="0"/><rect x="402.53" y="361.14" width="3.84" height="7.52" fill="#6eb0ee" stroke="none" stroke-width="0"/><rect x="406.32" y="361.14" width="3.84" height="7.52" fill="#2a8aea" stroke="none" stroke-width="0"/><rect x="410.11" y="361.14" width="3.84" height="7.52" fill="#f8f8fc" stroke="none" stroke-width="0"/><rect x="413.91" y="361.14" width="1.95" height="7.52" fill="#2a8aea" stroke="none" stroke-width="0"/><rect x="415.80" y="361.14" width="1.95" height="7.52" fill="#f8f8fc" stroke="none" stroke-width="0"/><rect x="417.70" y="361.14" width="3.84" height="7.52" fill="#b0d6f6" stroke="none" stroke-width="0"/><rect x="421.49" y="361.14" width="1.95" height="7.52" fill="#ffc6c6" stroke="none" stroke-width="0"/><rect x="423.39" y="361.14" width="1.95" height="7.52" fill="#f8f8fc" stroke="none" stroke-width="0"/><rect x="425.29" y="361.14" width="1.95" height="7.52" fill="#b0d6f6" stroke="none" stroke-width="0"/><rect x="427.18" y="361.14" width="1.95" height="7.52" fill="#f8f8fc" stroke="none" stroke-width="0"/><rect x="429.08" y="361.14" width="1.95" height="7.52" fill="#ffc6c6" stroke="none" stroke-width="0"/><rect x="430.98" y="361.14" width="1.95" height="7.52" fill="#f8f8fc" stroke="none" stroke-width="0"/><rect x="432.87" y="361.14" width="1.95" height="7.52" fill="#ff3030" stroke="none" stroke-width="0"/><rect x="434.77" y="361.14" width="3.84" height="7.52" fill="#f8f8fc" stroke="none" stroke-width="0"/><rect x="438.56" y="361.14" width="1.95" height="7.52" fill="#ffc6c6" stroke="none" stroke-width="0"/><rect x="440.46" y="361.14" width="1.95" height="7.52" fill="#f8f8fc" stroke="none" stroke-width="0"/><rect x="442.36" y="361.14" width="1.95" height="7.52" fill="#ffc6c6" stroke="none" stroke-width="0"/><rect x="444.25" y="361.14" width="3.84" height="7.52" fill="#f8f8fc" stroke="none" stroke-width="0"/><rect x="448.05" y="361.14" width="1.95" height="7.52" fill="#ff9c9c" stroke="none" stroke-width="0"/><rect x="449.94" y="361.14" width="1.95" height="7.52" fill="#f8f8fc" stroke="none" stroke-width="0"/><rect x="451.84" y="361.14" width="1.95" height="7.52" fill="#ffc6c6" stroke="none" stroke-width="0"/><rect x="453.74" y="361.14" width="1.95" height="7.52" fill="#2a8aea" stroke="none" stroke-width="0"/><rect x="455.63" y="361.14" width="1.95" height="7.52" fill="#f8f8fc" stroke="none" stroke-width="0"/><rect x="457.53" y="361.14" width="1.95" height="7.52" fill="#b0d6f6" stroke="none" stroke-width="0"/><rect x="459.43" y="361.14" width="1.95" height="7.52" fill="#f8f8fc" stroke="none" stroke-width="0"/><rect x="461.32" y="361.14" width="1.95" height="7.52" fill="#ffc6c6" stroke="none" stroke-width="0"/><rect x="463.22" y="361.14" width="1.95" height="7.52" fill="#f8f8fc" stroke="none" stroke-width="0"/><rect x="465.12" y="361.14" width="1.95" height="7.52" fill="#b0d6f6" stroke="none" stroke-width="0"/><rect x="467.01" y="361.14" width="1.95" height="7.52" fill="#f8f8fc" stroke="none" stroke-width="0"/><rect x="468.91" y="361.14" width="1.95" height="7.52" fill="#ff9c9c" stroke="none" stroke-width="0"/><rect x="470.81" y="361.14" width="1.95" height="7.52" fill="#f8f8fc" stroke="none" stroke-width="0"/><rect x="472.70" y="361.14" width="1.95" height="7.52" fill="#ffc6c6" stroke="none" stroke-width="0"/><rect x="474.60" y="361.14" width="5.74" height="7.52" fill="#f8f8fc" stroke="none" stroke-width="0"/><rect x="480.29" y="361.14" width="1.95" height="7.52" fill="#ff9c9c" stroke="none" stroke-width="0"/><rect x="482.19" y="361.14" width="1.95" height="7.52" fill="#ffc6c6" stroke="none" stroke-width="0"/><rect x="484.08" y="361.14" width="1.95" height="7.52" fill="#f8f8fc" stroke="none" stroke-width="0"/><rect x="485.98" y="361.14" width="1.95" height="7.52" fill="#b0d6f6" stroke="none" stroke-width="0"/><rect x="487.88" y="361.14" width="1.95" height="7.52" fill="#f8f8fc" stroke="none" stroke-width="0"/><rect x="489.77" y="361.14" width="1.95" height="7.52" fill="#ff3030" stroke="none" stroke-width="0"/><rect x="491.67" y="361.14" width="3.84" height="7.52" fill="#f8f8fc" stroke="none" stroke-width="0"/><rect x="495.46" y="361.14" width="1.95" height="7.52" fill="#ffc6c6" stroke="none" stroke-width="0"/><rect x="497.36" y="361.14" width="1.95" height="7.52" fill="#6eb0ee" stroke="none" stroke-width="0"/><rect x="499.25" y="361.14" width="1.95" height="7.52" fill="#f8f8fc" stroke="none" stroke-width="0"/><rect x="501.15" y="361.14" width="1.95" height="7.52" fill="#b0d6f6" stroke="none" stroke-width="0"/><rect x="503.05" y="361.14" width="1.95" height="7.52" fill="#f8f8fc" stroke="none" stroke-width="0"/><rect x="504.94" y="361.14" width="1.95" height="7.52" fill="#ff3030" stroke="none" stroke-width="0"/><rect x="506.84" y="361.14" width="3.84" height="7.52" fill="#f8f8fc" stroke="none" stroke-width="0"/><rect x="510.63" y="361.14" width="1.95" height="7.52" fill="#ff3030" stroke="none" stroke-width="0"/><rect x="512.53" y="361.14" width="1.95" height="7.52" fill="#f8f8fc" stroke="none" stroke-width="0"/><rect x="514.43" y="361.14" width="3.84" height="7.52" fill="#b0d6f6" stroke="none" stroke-width="0"/><rect x="518.22" y="361.14" width="3.84" height="7.52" fill="#f8f8fc" stroke="none" stroke-width="0"/><rect x="522.01" y="361.14" width="1.95" height="7.52" fill="#b0d6f6" stroke="none" stroke-width="0"/><rect x="523.91" y="361.14" width="1.95" height="7.52" fill="#f8f8fc" stroke="none" stroke-width="0"/><rect x="525.81" y="361.14" width="1.95" height="7.52" fill="#b0d6f6" stroke="none" stroke-width="0"/><rect x="527.70" y="361.14" width="1.95" height="7.52" fill="#f8f8fc" stroke="none" stroke-width="0"/><rect x="362.70" y="368.61" width="1.95" height="7.52" fill="#f8f8fc" stroke="none" stroke-width="0"/><rect x="364.60" y="368.61" width="1.95" height="7.52" fill="#2a8aea" stroke="none" stroke-width="0"/><rect x="366.49" y="368.61" width="1.95" height="7.52" fill="#f8f8fc" stroke="none" stroke-width="0"/><rect x="368.39" y="368.61" width="1.95" height="7.52" fill="#ff3030" stroke="none" stroke-width="0"/><rect x="370.29" y="368.61" width="1.95" height="7.52" fill="#ffc6c6" stroke="none" stroke-width="0"/><rect x="372.18" y="368.61" width="1.95" height="7.52" fill="#f8f8fc" stroke="none" stroke-width="0"/><rect x="374.08" y="368.61" width="1.95" height="7.52" fill="#ffc6c6" stroke="none" stroke-width="0"/><rect x="375.98" y="368.61" width="3.84" height="7.52" fill="#f8f8fc" stroke="none" stroke-width="0"/><rect x="379.77" y="368.61" width="1.95" height="7.52" fill="#2a8aea" stroke="none" stroke-width="0"/><rect x="381.67" y="368.61" width="3.84" height="7.52" fill="#f8f8fc" stroke="none" stroke-width="0"/><rect x="385.46" y="368.61" width="3.84" height="7.52" fill="#2a8aea" stroke="none" stroke-width="0"/><rect x="389.25" y="368.61" width="1.95" height="7.52" fill="#f8f8fc" stroke="none" stroke-width="0"/><rect x="391.15" y="368.61" width="1.95" height="7.52" fill="#b0d6f6" stroke="none" stroke-width="0"/><rect x="393.05" y="368.61" width="1.95" height="7.52" fill="#f8f8fc" stroke="none" stroke-width="0"/><rect x="394.94" y="368.61" width="3.84" height="7.52" fill="#ffc6c6" stroke="none" stroke-width="0"/><rect x="398.74" y="368.61" width="1.95" height="7.52" fill="#ff9c9c" stroke="none" stroke-width="0"/><rect x="400.63" y="368.61" width="1.95" height="7.52" fill="#ffc6c6" stroke="none" stroke-width="0"/><rect x="402.53" y="368.61" width="1.95" height="7.52" fill="#f8f8fc" stroke="none" stroke-width="0"/><rect x="404.43" y="368.61" width="1.95" height="7.52" fill="#ffc6c6" stroke="none" stroke-width="0"/><rect x="406.32" y="368.61" width="1.95" height="7.52" fill="#f8f8fc" stroke="none" stroke-width="0"/><rect x="408.22" y="368.61" width="1.95" height="7.52" fill="#6eb0ee" stroke="none" stroke-width="0"/><rect x="410.11" y="368.61" width="3.84" height="7.52" fill="#f8f8fc" stroke="none" stroke-width="0"/><rect x="413.91" y="368.61" width="1.95" height="7.52" fill="#2a8aea" stroke="none" stroke-width="0"/><rect x="415.80" y="368.61" width="1.95" height="7.52" fill="#f8f8fc" stroke="none" stroke-width="0"/><rect x="417.70" y="368.61" width="1.95" height="7.52" fill="#ff9c9c" stroke="none" stroke-width="0"/><rect x="419.60" y="368.61" width="1.95" height="7.52" fill="#f8f8fc" stroke="none" stroke-width="0"/><rect x="421.49" y="368.61" width="1.95" height="7.52" fill="#ff9c9c" stroke="none" stroke-width="0"/><rect x="423.39" y="368.61" width="1.95" height="7.52" fill="#f8f8fc" stroke="none" stroke-width="0"/><rect x="425.29" y="368.61" width="3.84" height="7.52" fill="#ffc6c6" stroke="none" stroke-width="0"/><rect x="429.08" y="368.61" width="1.95" height="7.52" fill="#2a8aea" stroke="none" stroke-width="0"/><rect x="430.98" y="368.61" width="3.84" height="7.52" fill="#f8f8fc" stroke="none" stroke-width="0"/><rect x="434.77" y="368.61" width="1.95" height="7.52" fill="#ff3030" stroke="none" stroke-width="0"/><rect x="436.67" y="368.61" width="3.84" height="7.52" fill="#ffc6c6" stroke="none" stroke-width="0"/><rect x="440.46" y="368.61" width="7.64" height="7.52" fill="#f8f8fc" stroke="none" stroke-width="0"/><rect x="448.05" y="368.61" width="1.95" height="7.52" fill="#b0d6f6" stroke="none" stroke-width="0"/><rect x="449.94" y="368.61" width="1.95" height="7.52" fill="#f8f8fc" stroke="none" stroke-width="0"/><rect x="451.84" y="368.61" width="1.95" height="7.52" fill="#6eb0ee" stroke="none" stroke-width="0"/><rect x="453.74" y="368.61" width="1.95" height="7.52" fill="#b0d6f6" stroke="none" stroke-width="0"/><rect x="455.63" y="368.61" width="1.95" height="7.52" fill="#f8f8fc" stroke="none" stroke-width="0"/><rect x="457.53" y="368.61" width="1.95" height="7.52" fill="#ff9c9c" stroke="none" stroke-width="0"/><rect x="459.43" y="368.61" width="1.95" height="7.52" fill="#ff3030" stroke="none" stroke-width="0"/><rect x="461.32" y="368.61" width="3.84" height="7.52" fill="#f8f8fc" stroke="none" stroke-width="0"/><rect x="465.12" y="368.61" width="1.95" height="7.52" fill="#6eb0ee" stroke="none" stroke-width="0"/><rect x="467.01" y="368.61" width="7.64" height="7.52" fill="#f8f8fc" stroke="none" stroke-width="0"/><rect x="474.60" y="368.61" width="1.95" height="7.52" fill="#b0d6f6" stroke="none" stroke-width="0"/><rect x="476.50" y="368.61" width="1.95" height="7.52" fill="#6eb0ee" stroke="none" stroke-width="0"/><rect x="478.39" y="368.61" width="1.95" height="7.52" fill="#b0d6f6" stroke="none" stroke-width="0"/><rect x="480.29" y="368.61" width="3.84" height="7.52" fill="#ff9c9c" stroke="none" stroke-width="0"/><rect x="484.08" y="368.61" width="1.95" height="7.52" fill="#f8f8fc" stroke="none" stroke-width="0"/><rect x="485.98" y="368.61" width="1.95" height="7.52" fill="#ffc6c6" stroke="none" stroke-width="0"/><rect x="487.88" y="368.61" width="1.95" height="7.52" fill="#ff9c9c" stroke="none" stroke-width="0"/><rect x="489.77" y="368.61" width="1.95" height="7.52" fill="#ffc6c6" stroke="none" stroke-width="0"/><rect x="491.67" y="368.61" width="1.95" height="7.52" fill="#f8f8fc" stroke="none" stroke-width="0"/><rect x="493.56" y="368.61" width="1.95" height="7.52" fill="#2a8aea" stroke="none" stroke-width="0"/><rect x="495.46" y="368.61" width="3.84" height="7.52" fill="#f8f8fc" stroke="none" stroke-width="0"/><rect x="499.25" y="368.61" width="1.95" height="7.52" fill="#ff3030" stroke="none" stroke-width="0"/><rect x="501.15" y="368.61" width="5.74" height="7.52" fill="#f8f8fc" stroke="none" stroke-width="0"/><rect x="506.84" y="368.61" width="1.95" height="7.52" fill="#ff9c9c" stroke="none" stroke-width="0"/><rect x="508.74" y="368.61" width="3.84" height="7.52" fill="#f8f8fc" stroke="none" stroke-width="0"/><rect x="512.53" y="368.61" width="1.95" height="7.52" fill="#ff9c9c" stroke="none" stroke-width="0"/><rect x="514.43" y="368.61" width="1.95" height="7.52" fill="#f8f8fc" stroke="none" stroke-width="0"/><rect x="516.32" y="368.61" width="1.95" height="7.52" fill="#b0d6f6" stroke="none" stroke-width="0"/><rect x="518.22" y="368.61" width="3.84" height="7.52" fill="#f8f8fc" stroke="none" stroke-width="0"/><rect x="522.01" y="368.61" width="1.95" height="7.52" fill="#b0d6f6" stroke="none" stroke-width="0"/><rect x="523.91" y="368.61" width="3.84" height="7.52" fill="#f8f8fc" stroke="none" stroke-width="0"/><rect x="527.70" y="368.61" width="1.95" height="7.52" fill="#b0d6f6" stroke="none" stroke-width="0"/><rect x="362.70" y="376.07" width="1.95" height="7.52" fill="#ffc6c6" stroke="none" stroke-width="0"/><rect x="364.60" y="376.07" width="1.95" height="7.52" fill="#f8f8fc" stroke="none" stroke-width="0"/><rect x="366.49" y="376.07" width="1.95" height="7.52" fill="#ffc6c6" stroke="none" stroke-width="0"/><rect x="368.39" y="376.07" width="1.95" height="7.52" fill="#f8f8fc" stroke="none" stroke-width="0"/><rect x="370.29" y="376.07" width="1.95" height="7.52" fill="#ffc6c6" stroke="none" stroke-width="0"/><rect x="372.18" y="376.07" width="1.95" height="7.52" fill="#f8f8fc" stroke="none" stroke-width="0"/><rect x="374.08" y="376.07" width="1.95" height="7.52" fill="#ff9c9c" stroke="none" stroke-width="0"/><rect x="375.98" y="376.07" width="3.84" height="7.52" fill="#f8f8fc" stroke="none" stroke-width="0"/><rect x="379.77" y="376.07" width="1.95" height="7.52" fill="#ff3030" stroke="none" stroke-width="0"/><rect x="381.67" y="376.07" width="1.95" height="7.52" fill="#b0d6f6" stroke="none" stroke-width="0"/><rect x="383.56" y="376.07" width="1.95" height="7.52" fill="#ff9c9c" stroke="none" stroke-width="0"/><rect x="385.46" y="376.07" width="1.95" height="7.52" fill="#f8f8fc" stroke="none" stroke-width="0"/><rect x="387.36" y="376.07" width="1.95" height="7.52" fill="#ff9c9c" stroke="none" stroke-width="0"/><rect x="389.25" y="376.07" width="1.95" height="7.52" fill="#f8f8fc" stroke="none" stroke-width="0"/><rect x="391.15" y="376.07" width="1.95" height="7.52" fill="#b0d6f6" stroke="none" stroke-width="0"/><rect x="393.05" y="376.07" width="1.95" height="7.52" fill="#ff9c9c" stroke="none" stroke-width="0"/><rect x="394.94" y="376.07" width="1.95" height="7.52" fill="#ff3030" stroke="none" stroke-width="0"/><rect x="396.84" y="376.07" width="1.95" height="7.52" fill="#f8f8fc" stroke="none" stroke-width="0"/><rect x="398.74" y="376.07" width="3.84" height="7.52" fill="#b0d6f6" stroke="none" stroke-width="0"/><rect x="402.53" y="376.07" width="1.95" height="7.52" fill="#2a8aea" stroke="none" stroke-width="0"/><rect x="404.43" y="376.07" width="1.95" height="7.52" fill="#f8f8fc" stroke="none" stroke-width="0"/><rect x="406.32" y="376.07" width="1.95" height="7.52" fill="#2a8aea" stroke="none" stroke-width="0"/><rect x="408.22" y="376.07" width="1.95" height="7.52" fill="#6eb0ee" stroke="none" stroke-width="0"/><rect x="410.11" y="376.07" width="3.84" height="7.52" fill="#f8f8fc" stroke="none" stroke-width="0"/><rect x="413.91" y="376.07" width="1.95" height="7.52" fill="#2a8aea" stroke="none" stroke-width="0"/><rect x="415.80" y="376.07" width="1.95" height="7.52" fill="#ffc6c6" stroke="none" stroke-width="0"/><rect x="417.70" y="376.07" width="1.95" height="7.52" fill="#f8f8fc" stroke="none" stroke-width="0"/><rect x="419.60" y="376.07" width="1.95" height="7.52" fill="#ffc6c6" stroke="none" stroke-width="0"/><rect x="421.49" y="376.07" width="1.95" height="7.52" fill="#ff9c9c" stroke="none" stroke-width="0"/><rect x="423.39" y="376.07" width="3.84" height="7.52" fill="#f8f8fc" stroke="none" stroke-width="0"/><rect x="427.18" y="376.07" width="1.95" height="7.52" fill="#b0d6f6" stroke="none" stroke-width="0"/><rect x="429.08" y="376.07" width="1.95" height="7.52" fill="#f8f8fc" stroke="none" stroke-width="0"/><rect x="430.98" y="376.07" width="1.95" height="7.52" fill="#ff9c9c" stroke="none" stroke-width="0"/><rect x="432.87" y="376.07" width="1.95" height="7.52" fill="#f8f8fc" stroke="none" stroke-width="0"/><rect x="434.77" y="376.07" width="1.95" height="7.52" fill="#ff3030" stroke="none" stroke-width="0"/><rect x="436.67" y="376.07" width="3.84" height="7.52" fill="#f8f8fc" stroke="none" stroke-width="0"/><rect x="440.46" y="376.07" width="1.95" height="7.52" fill="#b0d6f6" stroke="none" stroke-width="0"/><rect x="442.36" y="376.07" width="3.84" height="7.52" fill="#f8f8fc" stroke="none" stroke-width="0"/><rect x="446.15" y="376.07" width="1.95" height="7.52" fill="#b0d6f6" stroke="none" stroke-width="0"/><rect x="448.05" y="376.07" width="1.95" height="7.52" fill="#6eb0ee" stroke="none" stroke-width="0"/><rect x="449.94" y="376.07" width="1.95" height="7.52" fill="#b0d6f6" stroke="none" stroke-width="0"/><rect x="451.84" y="376.07" width="1.95" height="7.52" fill="#f8f8fc" stroke="none" stroke-width="0"/><rect x="453.74" y="376.07" width="1.95" height="7.52" fill="#ff9c9c" stroke="none" stroke-width="0"/><rect x="455.63" y="376.07" width="1.95" height="7.52" fill="#f8f8fc" stroke="none" stroke-width="0"/><rect x="457.53" y="376.07" width="1.95" height="7.52" fill="#ffc6c6" stroke="none" stroke-width="0"/><rect x="459.43" y="376.07" width="1.95" height="7.52" fill="#f8f8fc" stroke="none" stroke-width="0"/><rect x="461.32" y="376.07" width="1.95" height="7.52" fill="#6eb0ee" stroke="none" stroke-width="0"/><rect x="463.22" y="376.07" width="1.95" height="7.52" fill="#f8f8fc" stroke="none" stroke-width="0"/><rect x="465.12" y="376.07" width="1.95" height="7.52" fill="#b0d6f6" stroke="none" stroke-width="0"/><rect x="467.01" y="376.07" width="1.95" height="7.52" fill="#ff9c9c" stroke="none" stroke-width="0"/><rect x="468.91" y="376.07" width="1.95" height="7.52" fill="#f8f8fc" stroke="none" stroke-width="0"/><rect x="470.81" y="376.07" width="1.95" height="7.52" fill="#b0d6f6" stroke="none" stroke-width="0"/><rect x="472.70" y="376.07" width="1.95" height="7.52" fill="#f8f8fc" stroke="none" stroke-width="0"/><rect x="474.60" y="376.07" width="1.95" height="7.52" fill="#b0d6f6" stroke="none" stroke-width="0"/><rect x="476.50" y="376.07" width="1.95" height="7.52" fill="#f8f8fc" stroke="none" stroke-width="0"/><rect x="478.39" y="376.07" width="1.95" height="7.52" fill="#6eb0ee" stroke="none" stroke-width="0"/><rect x="480.29" y="376.07" width="1.95" height="7.52" fill="#f8f8fc" stroke="none" stroke-width="0"/><rect x="482.19" y="376.07" width="1.95" height="7.52" fill="#ffc6c6" stroke="none" stroke-width="0"/><rect x="484.08" y="376.07" width="1.95" height="7.52" fill="#f8f8fc" stroke="none" stroke-width="0"/><rect x="485.98" y="376.07" width="1.95" height="7.52" fill="#6eb0ee" stroke="none" stroke-width="0"/><rect x="487.88" y="376.07" width="1.95" height="7.52" fill="#f8f8fc" stroke="none" stroke-width="0"/><rect x="489.77" y="376.07" width="1.95" height="7.52" fill="#ffc6c6" stroke="none" stroke-width="0"/><rect x="491.67" y="376.07" width="3.84" height="7.52" fill="#f8f8fc" stroke="none" stroke-width="0"/><rect x="495.46" y="376.07" width="1.95" height="7.52" fill="#ff3030" stroke="none" stroke-width="0"/><rect x="497.36" y="376.07" width="1.95" height="7.52" fill="#f8f8fc" stroke="none" stroke-width="0"/><rect x="499.25" y="376.07" width="1.95" height="7.52" fill="#ff3030" stroke="none" stroke-width="0"/><rect x="501.15" y="376.07" width="1.95" height="7.52" fill="#f8f8fc" stroke="none" stroke-width="0"/><rect x="503.05" y="376.07" width="3.84" height="7.52" fill="#b0d6f6" stroke="none" stroke-width="0"/><rect x="506.84" y="376.07" width="1.95" height="7.52" fill="#f8f8fc" stroke="none" stroke-width="0"/><rect x="508.74" y="376.07" width="1.95" height="7.52" fill="#ffc6c6" stroke="none" stroke-width="0"/><rect x="510.63" y="376.07" width="3.84" height="7.52" fill="#f8f8fc" stroke="none" stroke-width="0"/><rect x="514.43" y="376.07" width="1.95" height="7.52" fill="#6eb0ee" stroke="none" stroke-width="0"/><rect x="516.32" y="376.07" width="1.95" height="7.52" fill="#f8f8fc" stroke="none" stroke-width="0"/><rect x="518.22" y="376.07" width="1.95" height="7.52" fill="#2a8aea" stroke="none" stroke-width="0"/><rect x="520.12" y="376.07" width="3.84" height="7.52" fill="#f8f8fc" stroke="none" stroke-width="0"/><rect x="523.91" y="376.07" width="1.95" height="7.52" fill="#ffc6c6" stroke="none" stroke-width="0"/><rect x="525.81" y="376.07" width="1.95" height="7.52" fill="#6eb0ee" stroke="none" stroke-width="0"/><rect x="527.70" y="376.07" width="1.95" height="7.52" fill="#f8f8fc" stroke="none" stroke-width="0"/><rect x="362.70" y="383.54" width="1.95" height="7.52" fill="#b0d6f6" stroke="none" stroke-width="0"/><rect x="364.60" y="383.54" width="1.95" height="7.52" fill="#2a8aea" stroke="none" stroke-width="0"/><rect x="366.49" y="383.54" width="1.95" height="7.52" fill="#f8f8fc" stroke="none" stroke-width="0"/><rect x="368.39" y="383.54" width="3.84" height="7.52" fill="#ff3030" stroke="none" stroke-width="0"/><rect x="372.18" y="383.54" width="1.95" height="7.52" fill="#ff9c9c" stroke="none" stroke-width="0"/><rect x="374.08" y="383.54" width="1.95" height="7.52" fill="#f8f8fc" stroke="none" stroke-width="0"/><rect x="375.98" y="383.54" width="1.95" height="7.52" fill="#ff9c9c" stroke="none" stroke-width="0"/><rect x="377.87" y="383.54" width="1.95" height="7.52" fill="#f8f8fc" stroke="none" stroke-width="0"/><rect x="379.77" y="383.54" width="1.95" height="7.52" fill="#b0d6f6" stroke="none" stroke-width="0"/><rect x="381.67" y="383.54" width="1.95" height="7.52" fill="#ff3030" stroke="none" stroke-width="0"/><rect x="383.56" y="383.54" width="1.95" height="7.52" fill="#2a8aea" stroke="none" stroke-width="0"/><rect x="385.46" y="383.54" width="5.74" height="7.52" fill="#f8f8fc" stroke="none" stroke-width="0"/><rect x="391.15" y="383.54" width="1.95" height="7.52" fill="#b0d6f6" stroke="none" stroke-width="0"/><rect x="393.05" y="383.54" width="1.95" height="7.52" fill="#6eb0ee" stroke="none" stroke-width="0"/><rect x="394.94" y="383.54" width="1.95" height="7.52" fill="#f8f8fc" stroke="none" stroke-width="0"/><rect x="396.84" y="383.54" width="1.95" height="7.52" fill="#ffc6c6" stroke="none" stroke-width="0"/><rect x="398.74" y="383.54" width="1.95" height="7.52" fill="#f8f8fc" stroke="none" stroke-width="0"/><rect x="400.63" y="383.54" width="1.95" height="7.52" fill="#ff9c9c" stroke="none" stroke-width="0"/><rect x="402.53" y="383.54" width="1.95" height="7.52" fill="#f8f8fc" stroke="none" stroke-width="0"/><rect x="404.43" y="383.54" width="1.95" height="7.52" fill="#b0d6f6" stroke="none" stroke-width="0"/><rect x="406.32" y="383.54" width="1.95" height="7.52" fill="#f8f8fc" stroke="none" stroke-width="0"/><rect x="408.22" y="383.54" width="1.95" height="7.52" fill="#b0d6f6" stroke="none" stroke-width="0"/><rect x="410.11" y="383.54" width="3.84" height="7.52" fill="#f8f8fc" stroke="none" stroke-width="0"/><rect x="413.91" y="383.54" width="1.95" height="7.52" fill="#2a8aea" stroke="none" stroke-width="0"/><rect x="415.80" y="383.54" width="1.95" height="7.52" fill="#f8f8fc" stroke="none" stroke-width="0"/><rect x="417.70" y="383.54" width="3.84" height="7.52" fill="#b0d6f6" stroke="none" stroke-width="0"/><rect x="421.49" y="383.54" width="1.95" height="7.52" fill="#f8f8fc" stroke="none" stroke-width="0"/><rect x="423.39" y="383.54" width="1.95" height="7.52" fill="#ff9c9c" stroke="none" stroke-width="0"/><rect x="425.29" y="383.54" width="1.95" height="7.52" fill="#f8f8fc" stroke="none" stroke-width="0"/><rect x="427.18" y="383.54" width="1.95" height="7.52" fill="#b0d6f6" stroke="none" stroke-width="0"/><rect x="429.08" y="383.54" width="1.95" height="7.52" fill="#f8f8fc" stroke="none" stroke-width="0"/><rect x="430.98" y="383.54" width="1.95" height="7.52" fill="#ffc6c6" stroke="none" stroke-width="0"/><rect x="432.87" y="383.54" width="1.95" height="7.52" fill="#f8f8fc" stroke="none" stroke-width="0"/><rect x="434.77" y="383.54" width="1.95" height="7.52" fill="#ff9c9c" stroke="none" stroke-width="0"/><rect x="436.67" y="383.54" width="1.95" height="7.52" fill="#f8f8fc" stroke="none" stroke-width="0"/><rect x="438.56" y="383.54" width="1.95" height="7.52" fill="#b0d6f6" stroke="none" stroke-width="0"/><rect x="440.46" y="383.54" width="1.95" height="7.52" fill="#f8f8fc" stroke="none" stroke-width="0"/><rect x="442.36" y="383.54" width="1.95" height="7.52" fill="#ff9c9c" stroke="none" stroke-width="0"/><rect x="444.25" y="383.54" width="7.64" height="7.52" fill="#f8f8fc" stroke="none" stroke-width="0"/><rect x="451.84" y="383.54" width="1.95" height="7.52" fill="#6eb0ee" stroke="none" stroke-width="0"/><rect x="453.74" y="383.54" width="1.95" height="7.52" fill="#f8f8fc" stroke="none" stroke-width="0"/><rect x="455.63" y="383.54" width="3.84" height="7.52" fill="#b0d6f6" stroke="none" stroke-width="0"/><rect x="459.43" y="383.54" width="1.95" height="7.52" fill="#ffc6c6" stroke="none" stroke-width="0"/><rect x="461.32" y="383.54" width="3.84" height="7.52" fill="#f8f8fc" stroke="none" stroke-width="0"/><rect x="465.12" y="383.54" width="1.95" height="7.52" fill="#2a1ab8" stroke="none" stroke-width="0"/><rect x="467.01" y="383.54" width="1.95" height="7.52" fill="#f8f8fc" stroke="none" stroke-width="0"/><rect x="468.91" y="383.54" width="1.95" height="7.52" fill="#b0d6f6" stroke="none" stroke-width="0"/><rect x="470.81" y="383.54" width="1.95" height="7.52" fill="#f8f8fc" stroke="none" stroke-width="0"/><rect x="472.70" y="383.54" width="1.95" height="7.52" fill="#ffc6c6" stroke="none" stroke-width="0"/><rect x="474.60" y="383.54" width="1.95" height="7.52" fill="#6eb0ee" stroke="none" stroke-width="0"/><rect x="476.50" y="383.54" width="1.95" height="7.52" fill="#2a8aea" stroke="none" stroke-width="0"/><rect x="478.39" y="383.54" width="1.95" height="7.52" fill="#f8f8fc" stroke="none" stroke-width="0"/><rect x="480.29" y="383.54" width="3.84" height="7.52" fill="#ff9c9c" stroke="none" stroke-width="0"/><rect x="484.08" y="383.54" width="3.84" height="7.52" fill="#ffc6c6" stroke="none" stroke-width="0"/><rect x="487.88" y="383.54" width="1.95" height="7.52" fill="#f8f8fc" stroke="none" stroke-width="0"/><rect x="489.77" y="383.54" width="1.95" height="7.52" fill="#ffc6c6" stroke="none" stroke-width="0"/><rect x="491.67" y="383.54" width="1.95" height="7.52" fill="#f8f8fc" stroke="none" stroke-width="0"/><rect x="493.56" y="383.54" width="1.95" height="7.52" fill="#2a8aea" stroke="none" stroke-width="0"/><rect x="495.46" y="383.54" width="3.84" height="7.52" fill="#f8f8fc" stroke="none" stroke-width="0"/><rect x="499.25" y="383.54" width="1.95" height="7.52" fill="#ff3030" stroke="none" stroke-width="0"/><rect x="501.15" y="383.54" width="1.95" height="7.52" fill="#f8f8fc" stroke="none" stroke-width="0"/><rect x="503.05" y="383.54" width="1.95" height="7.52" fill="#b0d6f6" stroke="none" stroke-width="0"/><rect x="504.94" y="383.54" width="5.74" height="7.52" fill="#f8f8fc" stroke="none" stroke-width="0"/><rect x="510.63" y="383.54" width="1.95" height="7.52" fill="#ffc6c6" stroke="none" stroke-width="0"/><rect x="512.53" y="383.54" width="3.84" height="7.52" fill="#f8f8fc" stroke="none" stroke-width="0"/><rect x="516.32" y="383.54" width="1.95" height="7.52" fill="#b0d6f6" stroke="none" stroke-width="0"/><rect x="518.22" y="383.54" width="3.84" height="7.52" fill="#f8f8fc" stroke="none" stroke-width="0"/><rect x="522.01" y="383.54" width="1.95" height="7.52" fill="#b0d6f6" stroke="none" stroke-width="0"/><rect x="523.91" y="383.54" width="1.95" height="7.52" fill="#f8f8fc" stroke="none" stroke-width="0"/><rect x="525.81" y="383.54" width="1.95" height="7.52" fill="#ffc6c6" stroke="none" stroke-width="0"/><rect x="527.70" y="383.54" width="1.95" height="7.52" fill="#f8f8fc" stroke="none" stroke-width="0"/></g><text x="0.00" y="0.00" font-size="8.2" text-anchor="end" fill="#1a1a1a" transform="translate(360.00,241.30) scale(0.915,1)">CXCL5</text><text x="0.00" y="0.00" font-size="8.2" text-anchor="end" fill="#1a1a1a" transform="translate(360.00,248.40) scale(0.915,1)">IL1RN</text><text x="0.00" y="0.00" font-size="8.2" text-anchor="end" fill="#1a1a1a" transform="translate(360.00,256.20) scale(0.915,1)">IL12A</text><text x="0.00" y="0.00" font-size="8.2" text-anchor="end" fill="#1a1a1a" transform="translate(360.00,263.50) scale(0.915,1)">IL19</text><text x="0.00" y="0.00" font-size="8.2" text-anchor="end" fill="#1a1a1a" transform="translate(360.00,270.70) scale(0.915,1)">IL1A</text><text x="0.00" y="0.00" font-size="8.2" text-anchor="end" fill="#1a1a1a" transform="translate(360.00,278.60) scale(0.915,1)">CCL18</text><text x="0.00" y="0.00" font-size="8.2" text-anchor="end" fill="#1a1a1a" transform="translate(360.00,285.60) scale(0.915,1)">CCL25</text><text x="0.00" y="0.00" font-size="8.2" text-anchor="end" fill="#1a1a1a" transform="translate(360.00,293.50) scale(0.915,1)">CCL7</text><text x="0.00" y="0.00" font-size="8.2" text-anchor="end" fill="#1a1a1a" transform="translate(360.00,300.80) scale(0.915,1)">CCL18</text><text x="0.00" y="0.00" font-size="8.2" text-anchor="end" fill="#1a1a1a" transform="translate(360.00,308.40) scale(0.915,1)">CTLA4</text><text x="0.00" y="0.00" font-size="8.2" text-anchor="end" fill="#1a1a1a" transform="translate(360.00,315.70) scale(0.915,1)">AIM2</text><text x="0.00" y="0.00" font-size="8.2" text-anchor="end" fill="#1a1a1a" transform="translate(360.00,324.00) scale(0.915,1)">LAG3</text><text x="0.00" y="0.00" font-size="8.2" text-anchor="end" fill="#1a1a1a" transform="translate(360.00,332.10) scale(0.915,1)">PDCD1</text><text x="0.00" y="0.00" font-size="8.2" text-anchor="end" fill="#1a1a1a" transform="translate(360.00,339.30) scale(0.915,1)">ICOSLG</text><text x="0.00" y="0.00" font-size="8.2" text-anchor="end" fill="#1a1a1a" transform="translate(360.00,346.40) scale(0.915,1)">IDO1</text><text x="0.00" y="0.00" font-size="8.2" text-anchor="end" fill="#1a1a1a" transform="translate(360.00,353.90) scale(0.915,1)">GSDMB</text><text x="0.00" y="0.00" font-size="8.2" text-anchor="end" fill="#1a1a1a" transform="translate(360.00,361.60) scale(0.915,1)">HLA-DPA3</text><text x="0.00" y="0.00" font-size="8.2" text-anchor="end" fill="#1a1a1a" transform="translate(360.00,368.90) scale(0.915,1)">HLA-DRB5</text><text x="0.00" y="0.00" font-size="8.2" text-anchor="end" fill="#1a1a1a" transform="translate(360.00,376.10) scale(0.915,1)">HLA-DOB</text><text x="0.00" y="0.00" font-size="8.2" text-anchor="end" fill="#1a1a1a" transform="translate(360.00,383.40) scale(0.915,1)">HLA-V</text><text x="0.00" y="0.00" font-size="8.2" text-anchor="end" fill="#1a1a1a" transform="translate(360.00,390.70) scale(0.915,1)">HLA-DQB2</text><line x1="312.60" y1="236.70" x2="312.60" y2="296.00" stroke="#777" stroke-width="0.9"/><line x1="312.60" y1="302.00" x2="312.60" y2="347.50" stroke="#777" stroke-width="0.9"/><line x1="312.60" y1="354.80" x2="312.60" y2="389.50" stroke="#777" stroke-width="0.9"/><text x="0.00" y="0.00" font-size="8.0" text-anchor="middle" fill="#1a1a1a" transform="translate(291.00,253.10) scale(0.93,1)">ckemokines</text><text x="0.00" y="0.00" font-size="8.0" text-anchor="middle" fill="#1a1a1a" transform="translate(291.00,261.30) scale(0.93,1)">and</text><text x="0.00" y="0.00" font-size="8.0" text-anchor="middle" fill="#1a1a1a" transform="translate(291.00,269.60) scale(0.93,1)">cytokines</text><text x="0.00" y="0.00" font-size="8.0" text-anchor="middle" fill="#1a1a1a" transform="translate(291.00,324.50) scale(0.93,1)">immune</text><text x="0.00" y="0.00" font-size="8.0" text-anchor="middle" fill="#1a1a1a" transform="translate(291.00,333.00) scale(0.93,1)">regulators</text><text x="0.00" y="0.00" font-size="8.0" text-anchor="middle" fill="#1a1a1a" transform="translate(291.00,368.20) scale(0.93,1)">human</text><text x="0.00" y="0.00" font-size="8.0" text-anchor="middle" fill="#1a1a1a" transform="translate(291.00,376.70) scale(0.93,1)">leukocyte</text><text x="0.00" y="0.00" font-size="8.0" text-anchor="middle" fill="#1a1a1a" transform="translate(291.00,385.10) scale(0.93,1)">antigen</text>
</g>
</svg></body></html>
